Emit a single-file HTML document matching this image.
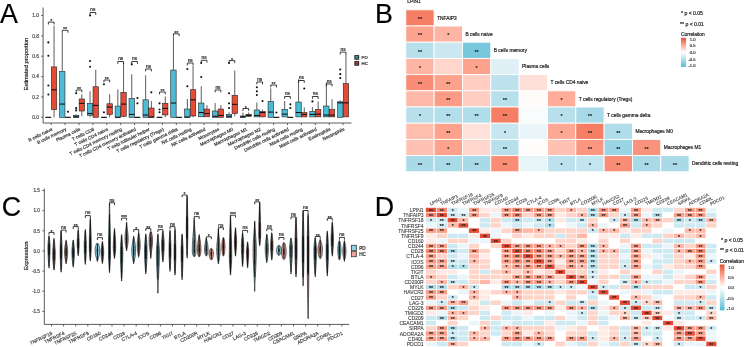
<!DOCTYPE html><html><head><meta charset="utf-8"><title>Figure</title><style>
html,body{margin:0;padding:0;background:#fff;overflow:hidden}
svg{display:block;font-family:"Liberation Sans", Arial, Helvetica, sans-serif}
text{stroke:currentColor;stroke-width:0.18px;paint-order:stroke}
.ax{stroke:#333;stroke-width:0.8;fill:none}
.tk{stroke:#333;stroke-width:0.7;fill:none}
.wk{stroke:#333;stroke-width:0.8}
.bx{stroke:#222;stroke-width:0.6}
.md{stroke:#111;stroke-width:1.1}
.br{stroke:#1A1A1A;stroke-width:0.85;fill:none}
.vl{stroke:#111;stroke-width:0.6}
.vw{stroke:#111;stroke-width:0.95}
.dc{stroke:#fff;stroke-width:0.55}
</style></head><body>
<svg width="744" height="347" viewBox="0 0 744 347">
<defs><linearGradient id="gB" x1="0" y1="0" x2="0" y2="1"><stop offset="0" stop-color="#E64B35"/><stop offset="0.05" stop-color="#EC6048"/><stop offset="0.1" stop-color="#F2735B"/><stop offset="0.15" stop-color="#F7866E"/><stop offset="0.2" stop-color="#FB9781"/><stop offset="0.25" stop-color="#FFA995"/><stop offset="0.3" stop-color="#FFBAAA"/><stop offset="0.35" stop-color="#FFCBBF"/><stop offset="0.4" stop-color="#FFDDD4"/><stop offset="0.45" stop-color="#FFEEE9"/><stop offset="0.5" stop-color="#FFFFFF"/><stop offset="0.55" stop-color="#F0F8FB"/><stop offset="0.6" stop-color="#E0F1F7"/><stop offset="0.65" stop-color="#D0EBF2"/><stop offset="0.7" stop-color="#C0E4EE"/><stop offset="0.75" stop-color="#B0DDEA"/><stop offset="0.8" stop-color="#9FD6E6"/><stop offset="0.85" stop-color="#8DCFE2"/><stop offset="0.9" stop-color="#7AC9DD"/><stop offset="0.95" stop-color="#65C2D9"/><stop offset="1" stop-color="#4DBBD5"/></linearGradient></defs>
<rect width="744" height="347" fill="#fff"/>
<text x="0" y="22.9" font-size="26.8" fill="#000" color="#000" text-anchor="start">A</text>
<text x="374.9" y="23.2" font-size="26.8" fill="#000" color="#000" text-anchor="start">B</text>
<text x="1.7" y="215.6" font-size="26.8" fill="#000" color="#000" text-anchor="start">C</text>
<text x="374.8" y="215.5" font-size="26.8" fill="#000" color="#000" text-anchor="start">D</text>
<g id="pA">
<line x1="43.1" y1="7.5" x2="43.1" y2="123" class="ax"/>
<line x1="43.1" y1="123" x2="351.5" y2="123" class="ax"/>
<line x1="41.1" y1="117.3" x2="43.1" y2="117.3" class="tk"/>
<text x="38.8" y="119" font-size="4.8" fill="#444" color="#444" text-anchor="end">0.0</text>
<line x1="41.1" y1="96.94" x2="43.1" y2="96.94" class="tk"/>
<text x="38.8" y="98.64" font-size="4.8" fill="#444" color="#444" text-anchor="end">0.2</text>
<line x1="41.1" y1="76.58" x2="43.1" y2="76.58" class="tk"/>
<text x="38.8" y="78.28" font-size="4.8" fill="#444" color="#444" text-anchor="end">0.4</text>
<line x1="41.1" y1="56.22" x2="43.1" y2="56.22" class="tk"/>
<text x="38.8" y="57.92" font-size="4.8" fill="#444" color="#444" text-anchor="end">0.6</text>
<line x1="41.1" y1="35.86" x2="43.1" y2="35.86" class="tk"/>
<text x="38.8" y="37.56" font-size="4.8" fill="#444" color="#444" text-anchor="end">0.8</text>
<line x1="41.1" y1="15.5" x2="43.1" y2="15.5" class="tk"/>
<text x="38.8" y="17.2" font-size="4.8" fill="#444" color="#444" text-anchor="end">1.0</text>
<text x="28.5" y="64.1" font-size="5.72" fill="#222" color="#222" text-anchor="middle" transform="rotate(-90 28.5 64.1)">Estimated proportion</text>
<line x1="51.2" y1="123" x2="51.2" y2="125.2" class="tk"/>
<rect x="45.65" y="117.3" width="5.4" height="0.01" fill="#4DBBD5" class="bx"/>
<line x1="45.65" y1="117.3" x2="51.05" y2="117.3" class="md"/>
<circle cx="48.35" cy="42.38" r="1.05" fill="#111"/>
<circle cx="48.35" cy="55.71" r="1.05" fill="#111"/>
<circle cx="48.35" cy="85.44" r="1.05" fill="#111"/>
<circle cx="48.35" cy="94.5" r="1.05" fill="#111"/>
<line x1="54.05" y1="66.91" x2="54.05" y2="25.68" class="wk"/>
<line x1="54.05" y1="109.66" x2="54.05" y2="117.3" class="wk"/>
<rect x="51.35" y="66.91" width="5.4" height="42.76" fill="#E64B35" class="bx"/>
<line x1="51.35" y1="89.81" x2="56.75" y2="89.81" class="md"/>
<path d="M48.35 24.5V22.1H54.05V24.5" class="br"/>
<text x="51.2" y="23.2" font-size="5.2" fill="#222" color="#222" text-anchor="middle">*</text>
<text x="52.9" y="130.3" font-size="4.7" fill="#333" color="#333" text-anchor="end" transform="rotate(-26 52.9 130.3)">B cells naive</text>
<line x1="65.1" y1="123" x2="65.1" y2="125.2" class="tk"/>
<line x1="62.25" y1="71.49" x2="62.25" y2="32.81" class="wk"/>
<rect x="59.55" y="71.49" width="5.4" height="45.81" fill="#4DBBD5" class="bx"/>
<line x1="59.55" y1="104.07" x2="64.95" y2="104.07" class="md"/>
<rect x="65.25" y="117.3" width="5.4" height="0.01" fill="#E64B35" class="bx"/>
<line x1="65.25" y1="117.3" x2="70.65" y2="117.3" class="md"/>
<circle cx="67.95" cy="111.7" r="1.05" fill="#111"/>
<path d="M62.25 32.7V30.3H67.95V32.7" class="br"/>
<text x="65.1" y="31.4" font-size="5.2" fill="#222" color="#222" text-anchor="middle">**</text>
<text x="66.8" y="130.3" font-size="4.7" fill="#333" color="#333" text-anchor="end" transform="rotate(-26 66.8 130.3)">B cells memory</text>
<line x1="79" y1="123" x2="79" y2="125.2" class="tk"/>
<line x1="76.15" y1="115.26" x2="76.15" y2="114.25" class="wk"/>
<rect x="73.45" y="115.26" width="5.4" height="2.04" fill="#4DBBD5" class="bx"/>
<line x1="73.45" y1="116.79" x2="78.85" y2="116.79" class="md"/>
<circle cx="76.15" cy="93.28" r="1.05" fill="#111"/>
<circle cx="76.15" cy="108.14" r="1.05" fill="#111"/>
<circle cx="76.15" cy="110.38" r="1.05" fill="#111"/>
<line x1="81.85" y1="98.98" x2="81.85" y2="94.29" class="wk"/>
<line x1="81.85" y1="110.99" x2="81.85" y2="116.28" class="wk"/>
<rect x="79.15" y="98.98" width="5.4" height="12.01" fill="#E64B35" class="bx"/>
<line x1="79.15" y1="103.35" x2="84.55" y2="103.35" class="md"/>
<path d="M76.15 92.4V90H81.85V92.4" class="br"/>
<text x="79" y="91.1" font-size="5.2" fill="#222" color="#222" text-anchor="middle">**</text>
<text x="80.7" y="130.3" font-size="4.7" fill="#333" color="#333" text-anchor="end" transform="rotate(-26 80.7 130.3)">Plasma cells</text>
<line x1="92.9" y1="123" x2="92.9" y2="125.2" class="tk"/>
<line x1="90.05" y1="103.35" x2="90.05" y2="91.34" class="wk"/>
<line x1="90.05" y1="115.26" x2="90.05" y2="117.3" class="wk"/>
<rect x="87.35" y="103.35" width="5.4" height="11.91" fill="#4DBBD5" class="bx"/>
<line x1="87.35" y1="113.53" x2="92.75" y2="113.53" class="md"/>
<circle cx="90.05" cy="15.5" r="1.05" fill="#111"/>
<circle cx="90.05" cy="61" r="1.05" fill="#111"/>
<circle cx="90.05" cy="66.71" r="1.05" fill="#111"/>
<line x1="95.75" y1="86.76" x2="95.75" y2="69.76" class="wk"/>
<rect x="93.05" y="86.76" width="5.4" height="30.54" fill="#E64B35" class="bx"/>
<line x1="93.05" y1="105.39" x2="98.45" y2="105.39" class="md"/>
<path d="M90.05 14.9V12.5H95.75V14.9" class="br"/>
<text x="92.9" y="11.3" font-size="4.8" fill="#222" color="#222" text-anchor="middle">ns</text>
<text x="94.6" y="130.3" font-size="4.7" fill="#333" color="#333" text-anchor="end" transform="rotate(-26 94.6 130.3)">T cells CD8</text>
<line x1="106.8" y1="123" x2="106.8" y2="125.2" class="tk"/>
<rect x="101.25" y="117.3" width="5.4" height="0.01" fill="#4DBBD5" class="bx"/>
<line x1="101.25" y1="117.3" x2="106.65" y2="117.3" class="md"/>
<circle cx="103.95" cy="84.22" r="1.05" fill="#111"/>
<circle cx="103.95" cy="112.21" r="1.05" fill="#111"/>
<line x1="109.65" y1="103.76" x2="109.65" y2="94.29" class="wk"/>
<line x1="109.65" y1="114.45" x2="109.65" y2="117.3" class="wk"/>
<rect x="106.95" y="103.76" width="5.4" height="10.69" fill="#E64B35" class="bx"/>
<line x1="106.95" y1="107.12" x2="112.35" y2="107.12" class="md"/>
<path d="M103.95 82.4V80H109.65V82.4" class="br"/>
<text x="106.8" y="81.1" font-size="5.2" fill="#222" color="#222" text-anchor="middle">**</text>
<text x="108.5" y="130.3" font-size="4.7" fill="#333" color="#333" text-anchor="end" transform="rotate(-26 108.5 130.3)">T cells CD4 naive</text>
<line x1="120.7" y1="123" x2="120.7" y2="125.2" class="tk"/>
<line x1="117.85" y1="106.1" x2="117.85" y2="89.3" class="wk"/>
<rect x="115.15" y="106.1" width="5.4" height="11.2" fill="#4DBBD5" class="bx"/>
<line x1="115.15" y1="117.3" x2="120.55" y2="117.3" class="md"/>
<line x1="123.55" y1="92.36" x2="123.55" y2="62.74" class="wk"/>
<line x1="123.55" y1="116.28" x2="123.55" y2="117.3" class="wk"/>
<rect x="120.85" y="92.36" width="5.4" height="23.92" fill="#E64B35" class="bx"/>
<line x1="120.85" y1="104.07" x2="126.25" y2="104.07" class="md"/>
<path d="M117.85 63.9V61.5H123.55V63.9" class="br"/>
<text x="120.7" y="60.3" font-size="4.8" fill="#222" color="#222" text-anchor="middle">ns</text>
<text x="122.4" y="130.3" font-size="4.7" fill="#333" color="#333" text-anchor="end" transform="rotate(-26 122.4 130.3)">T cells CD4 memory resting</text>
<line x1="134.6" y1="123" x2="134.6" y2="125.2" class="tk"/>
<line x1="131.75" y1="98.37" x2="131.75" y2="74.24" class="wk"/>
<rect x="129.05" y="98.37" width="5.4" height="18.93" fill="#4DBBD5" class="bx"/>
<line x1="129.05" y1="114.45" x2="134.45" y2="114.45" class="md"/>
<circle cx="131.75" cy="64.36" r="1.05" fill="#111"/>
<rect x="134.75" y="117.3" width="5.4" height="0.01" fill="#E64B35" class="bx"/>
<line x1="134.75" y1="117.3" x2="140.15" y2="117.3" class="md"/>
<circle cx="137.45" cy="97.96" r="1.05" fill="#111"/>
<circle cx="137.45" cy="103.35" r="1.05" fill="#111"/>
<path d="M131.75 63.9V61.5H137.45V63.9" class="br"/>
<text x="134.6" y="60.3" font-size="4.8" fill="#222" color="#222" text-anchor="middle">ns</text>
<text x="136.3" y="130.3" font-size="4.7" fill="#333" color="#333" text-anchor="end" transform="rotate(-26 136.3 130.3)">T cells CD4 memory activated</text>
<line x1="148.5" y1="123" x2="148.5" y2="125.2" class="tk"/>
<line x1="145.65" y1="99.79" x2="145.65" y2="75.26" class="wk"/>
<rect x="142.95" y="99.79" width="5.4" height="17.51" fill="#4DBBD5" class="bx"/>
<line x1="142.95" y1="115.06" x2="148.35" y2="115.06" class="md"/>
<line x1="151.35" y1="108.04" x2="151.35" y2="101.01" class="wk"/>
<rect x="148.65" y="108.04" width="5.4" height="9.26" fill="#E64B35" class="bx"/>
<line x1="148.65" y1="116.99" x2="154.05" y2="116.99" class="md"/>
<circle cx="151.35" cy="92.36" r="1.05" fill="#111"/>
<path d="M145.65 71.4V69H151.35V71.4" class="br"/>
<text x="148.5" y="67.8" font-size="4.8" fill="#222" color="#222" text-anchor="middle">ns</text>
<text x="150.2" y="130.3" font-size="4.7" fill="#333" color="#333" text-anchor="end" transform="rotate(-26 150.2 130.3)">T cells follicular helper</text>
<line x1="162.4" y1="123" x2="162.4" y2="125.2" class="tk"/>
<rect x="156.85" y="117.3" width="5.4" height="0.01" fill="#4DBBD5" class="bx"/>
<line x1="156.85" y1="117.3" x2="162.25" y2="117.3" class="md"/>
<circle cx="159.55" cy="103.35" r="1.05" fill="#111"/>
<circle cx="159.55" cy="109.46" r="1.05" fill="#111"/>
<circle cx="159.55" cy="112.21" r="1.05" fill="#111"/>
<line x1="165.25" y1="103.35" x2="165.25" y2="96.43" class="wk"/>
<line x1="165.25" y1="114.96" x2="165.25" y2="117.3" class="wk"/>
<rect x="162.55" y="103.35" width="5.4" height="11.61" fill="#E64B35" class="bx"/>
<line x1="162.55" y1="108.44" x2="167.95" y2="108.44" class="md"/>
<path d="M159.55 94.4V92H165.25V94.4" class="br"/>
<text x="162.4" y="93.1" font-size="5.2" fill="#222" color="#222" text-anchor="middle">**</text>
<text x="164.1" y="130.3" font-size="4.7" fill="#333" color="#333" text-anchor="end" transform="rotate(-26 164.1 130.3)">T cells regulatory (Tregs)</text>
<line x1="176.3" y1="123" x2="176.3" y2="125.2" class="tk"/>
<line x1="173.45" y1="70.06" x2="173.45" y2="36.37" class="wk"/>
<rect x="170.75" y="70.06" width="5.4" height="47.24" fill="#4DBBD5" class="bx"/>
<line x1="170.75" y1="103.05" x2="176.15" y2="103.05" class="md"/>
<rect x="176.45" y="117.3" width="5.4" height="0.01" fill="#E64B35" class="bx"/>
<line x1="176.45" y1="117.3" x2="181.85" y2="117.3" class="md"/>
<path d="M173.45 36.2V33.8H179.15V36.2" class="br"/>
<text x="176.3" y="34.9" font-size="5.2" fill="#222" color="#222" text-anchor="middle">**</text>
<text x="178" y="130.3" font-size="4.7" fill="#333" color="#333" text-anchor="end" transform="rotate(-26 178 130.3)">T cells gamma delta</text>
<line x1="190.2" y1="123" x2="190.2" y2="125.2" class="tk"/>
<line x1="187.35" y1="109.05" x2="187.35" y2="98.98" class="wk"/>
<rect x="184.65" y="109.05" width="5.4" height="8.25" fill="#4DBBD5" class="bx"/>
<line x1="184.65" y1="116.99" x2="190.05" y2="116.99" class="md"/>
<circle cx="187.35" cy="68.94" r="1.05" fill="#111"/>
<circle cx="187.35" cy="86.25" r="1.05" fill="#111"/>
<line x1="193.05" y1="89.71" x2="193.05" y2="65.79" class="wk"/>
<line x1="193.05" y1="115.98" x2="193.05" y2="117.3" class="wk"/>
<rect x="190.35" y="89.71" width="5.4" height="26.26" fill="#E64B35" class="bx"/>
<line x1="190.35" y1="99.79" x2="195.75" y2="99.79" class="md"/>
<path d="M187.35 65.4V63H193.05V65.4" class="br"/>
<text x="190.2" y="61.8" font-size="4.8" fill="#222" color="#222" text-anchor="middle">ns</text>
<text x="191.9" y="130.3" font-size="4.7" fill="#333" color="#333" text-anchor="end" transform="rotate(-26 191.9 130.3)">NK cells resting</text>
<line x1="204.1" y1="123" x2="204.1" y2="125.2" class="tk"/>
<line x1="201.25" y1="103.05" x2="201.25" y2="86.25" class="wk"/>
<rect x="198.55" y="103.05" width="5.4" height="13.74" fill="#4DBBD5" class="bx"/>
<line x1="198.55" y1="112.52" x2="203.95" y2="112.52" class="md"/>
<circle cx="201.25" cy="62.94" r="1.05" fill="#111"/>
<circle cx="201.25" cy="76.99" r="1.05" fill="#111"/>
<line x1="206.95" y1="109.05" x2="206.95" y2="105.08" class="wk"/>
<rect x="204.25" y="109.05" width="5.4" height="7.74" fill="#E64B35" class="bx"/>
<line x1="204.25" y1="113.53" x2="209.65" y2="113.53" class="md"/>
<path d="M201.25 62.7V60.3H206.95V62.7" class="br"/>
<text x="204.1" y="59.1" font-size="4.8" fill="#222" color="#222" text-anchor="middle">ns</text>
<text x="205.8" y="130.3" font-size="4.7" fill="#333" color="#333" text-anchor="end" transform="rotate(-26 205.8 130.3)">NK cells activated</text>
<line x1="218" y1="123" x2="218" y2="125.2" class="tk"/>
<line x1="215.15" y1="110.99" x2="215.15" y2="103.05" class="wk"/>
<rect x="212.45" y="110.99" width="5.4" height="6.31" fill="#4DBBD5" class="bx"/>
<line x1="212.45" y1="116.28" x2="217.85" y2="116.28" class="md"/>
<line x1="220.85" y1="109.05" x2="220.85" y2="105.08" class="wk"/>
<rect x="218.15" y="109.05" width="5.4" height="8.25" fill="#E64B35" class="bx"/>
<line x1="218.15" y1="115.47" x2="223.55" y2="115.47" class="md"/>
<path d="M215.15 92.4V90H220.85V92.4" class="br"/>
<text x="218" y="88.8" font-size="4.8" fill="#222" color="#222" text-anchor="middle">ns</text>
<text x="219.7" y="130.3" font-size="4.7" fill="#333" color="#333" text-anchor="end" transform="rotate(-26 219.7 130.3)">Monocytes</text>
<line x1="231.9" y1="123" x2="231.9" y2="125.2" class="tk"/>
<line x1="229.05" y1="114.45" x2="229.05" y2="112.21" class="wk"/>
<rect x="226.35" y="114.45" width="5.4" height="2.85" fill="#4DBBD5" class="bx"/>
<line x1="226.35" y1="116.28" x2="231.75" y2="116.28" class="md"/>
<circle cx="229.05" cy="63.04" r="1.05" fill="#111"/>
<circle cx="229.05" cy="93.28" r="1.05" fill="#111"/>
<circle cx="229.05" cy="103.35" r="1.05" fill="#111"/>
<circle cx="229.05" cy="107.93" r="1.05" fill="#111"/>
<line x1="234.75" y1="95.31" x2="234.75" y2="70.47" class="wk"/>
<line x1="234.75" y1="113.53" x2="234.75" y2="116.28" class="wk"/>
<rect x="232.05" y="95.31" width="5.4" height="18.22" fill="#E64B35" class="bx"/>
<line x1="232.05" y1="104.37" x2="237.45" y2="104.37" class="md"/>
<path d="M229.05 63V60.6H234.75V63" class="br"/>
<text x="231.9" y="61.7" font-size="5.2" fill="#222" color="#222" text-anchor="middle">*</text>
<text x="233.6" y="130.3" font-size="4.7" fill="#333" color="#333" text-anchor="end" transform="rotate(-26 233.6 130.3)">Macrophages M0</text>
<line x1="245.8" y1="123" x2="245.8" y2="125.2" class="tk"/>
<line x1="242.95" y1="115.98" x2="242.95" y2="112.52" class="wk"/>
<rect x="240.25" y="115.98" width="5.4" height="1.32" fill="#4DBBD5" class="bx"/>
<line x1="240.25" y1="116.79" x2="245.65" y2="116.79" class="md"/>
<line x1="248.65" y1="114.45" x2="248.65" y2="112.52" class="wk"/>
<line x1="248.65" y1="116.28" x2="248.65" y2="116.79" class="wk"/>
<rect x="245.95" y="114.45" width="5.4" height="1.83" fill="#E64B35" class="bx"/>
<line x1="245.95" y1="115.47" x2="251.35" y2="115.47" class="md"/>
<path d="M242.95 110.9V108.5H248.65V110.9" class="br"/>
<text x="245.8" y="109.6" font-size="5.2" fill="#222" color="#222" text-anchor="middle">*</text>
<text x="247.5" y="130.3" font-size="4.7" fill="#333" color="#333" text-anchor="end" transform="rotate(-26 247.5 130.3)">Macrophages M1</text>
<line x1="259.7" y1="123" x2="259.7" y2="125.2" class="tk"/>
<line x1="256.85" y1="109.97" x2="256.85" y2="102.44" class="wk"/>
<rect x="254.15" y="109.97" width="5.4" height="6.92" fill="#4DBBD5" class="bx"/>
<line x1="254.15" y1="115.47" x2="259.55" y2="115.47" class="md"/>
<circle cx="256.85" cy="87.27" r="1.05" fill="#111"/>
<circle cx="256.85" cy="91.34" r="1.05" fill="#111"/>
<circle cx="256.85" cy="95.01" r="1.05" fill="#111"/>
<line x1="262.55" y1="111.5" x2="262.55" y2="109.46" class="wk"/>
<rect x="259.85" y="111.5" width="5.4" height="5.4" fill="#E64B35" class="bx"/>
<line x1="259.85" y1="112.52" x2="265.25" y2="112.52" class="md"/>
<circle cx="262.55" cy="101.01" r="1.05" fill="#111"/>
<path d="M256.85 84.4V82H262.55V84.4" class="br"/>
<text x="259.7" y="80.8" font-size="4.8" fill="#222" color="#222" text-anchor="middle">ns</text>
<text x="261.4" y="130.3" font-size="4.7" fill="#333" color="#333" text-anchor="end" transform="rotate(-26 261.4 130.3)">Macrophages M2</text>
<line x1="273.6" y1="123" x2="273.6" y2="125.2" class="tk"/>
<line x1="270.75" y1="101.42" x2="270.75" y2="88.29" class="wk"/>
<rect x="268.05" y="101.42" width="5.4" height="15.88" fill="#4DBBD5" class="bx"/>
<line x1="268.05" y1="112.11" x2="273.45" y2="112.11" class="md"/>
<rect x="273.75" y="117.3" width="5.4" height="0.01" fill="#E64B35" class="bx"/>
<line x1="273.75" y1="117.3" x2="279.15" y2="117.3" class="md"/>
<circle cx="276.45" cy="112.52" r="1.05" fill="#111"/>
<path d="M270.75 87.4V85H276.45V87.4" class="br"/>
<text x="273.6" y="86.1" font-size="5.2" fill="#222" color="#222" text-anchor="middle">**</text>
<text x="275.3" y="130.3" font-size="4.7" fill="#333" color="#333" text-anchor="end" transform="rotate(-26 275.3 130.3)">Dendritic cells resting</text>
<line x1="287.5" y1="123" x2="287.5" y2="125.2" class="tk"/>
<line x1="284.65" y1="109.46" x2="284.65" y2="101.01" class="wk"/>
<rect x="281.95" y="109.46" width="5.4" height="7.43" fill="#4DBBD5" class="bx"/>
<line x1="281.95" y1="114.14" x2="287.35" y2="114.14" class="md"/>
<rect x="287.65" y="117.3" width="5.4" height="0.01" fill="#E64B35" class="bx"/>
<line x1="287.65" y1="117.3" x2="293.05" y2="117.3" class="md"/>
<circle cx="290.35" cy="104.37" r="1.05" fill="#111"/>
<circle cx="290.35" cy="107.93" r="1.05" fill="#111"/>
<path d="M284.65 98.9V96.5H290.35V98.9" class="br"/>
<text x="287.5" y="95.3" font-size="4.8" fill="#222" color="#222" text-anchor="middle">ns</text>
<text x="289.2" y="130.3" font-size="4.7" fill="#333" color="#333" text-anchor="end" transform="rotate(-26 289.2 130.3)">Dendritic cells activated</text>
<line x1="301.4" y1="123" x2="301.4" y2="125.2" class="tk"/>
<line x1="298.55" y1="102.03" x2="298.55" y2="79.23" class="wk"/>
<rect x="295.85" y="102.03" width="5.4" height="14.86" fill="#4DBBD5" class="bx"/>
<line x1="295.85" y1="112.52" x2="301.25" y2="112.52" class="md"/>
<line x1="304.25" y1="112.52" x2="304.25" y2="107.43" class="wk"/>
<rect x="301.55" y="112.52" width="5.4" height="4.38" fill="#E64B35" class="bx"/>
<line x1="301.55" y1="114.45" x2="306.95" y2="114.45" class="md"/>
<circle cx="304.25" cy="88.49" r="1.05" fill="#111"/>
<path d="M298.55 82.9V80.5H304.25V82.9" class="br"/>
<text x="301.4" y="79.3" font-size="4.8" fill="#222" color="#222" text-anchor="middle">ns</text>
<text x="303.1" y="130.3" font-size="4.7" fill="#333" color="#333" text-anchor="end" transform="rotate(-26 303.1 130.3)">Mast cells resting</text>
<line x1="315.3" y1="123" x2="315.3" y2="125.2" class="tk"/>
<line x1="312.45" y1="111.5" x2="312.45" y2="107.12" class="wk"/>
<rect x="309.75" y="111.5" width="5.4" height="5.4" fill="#4DBBD5" class="bx"/>
<line x1="309.75" y1="114.45" x2="315.15" y2="114.45" class="md"/>
<circle cx="312.45" cy="101.42" r="1.05" fill="#111"/>
<line x1="318.15" y1="109.46" x2="318.15" y2="101.42" class="wk"/>
<rect x="315.45" y="109.46" width="5.4" height="7.43" fill="#E64B35" class="bx"/>
<line x1="315.45" y1="114.14" x2="320.85" y2="114.14" class="md"/>
<path d="M312.45 98.9V96.5H318.15V98.9" class="br"/>
<text x="315.3" y="95.3" font-size="4.8" fill="#222" color="#222" text-anchor="middle">ns</text>
<text x="317" y="130.3" font-size="4.7" fill="#333" color="#333" text-anchor="end" transform="rotate(-26 317 130.3)">Mast cells activated</text>
<line x1="329.2" y1="123" x2="329.2" y2="125.2" class="tk"/>
<line x1="326.35" y1="106" x2="326.35" y2="82.18" class="wk"/>
<rect x="323.65" y="106" width="5.4" height="10.89" fill="#4DBBD5" class="bx"/>
<line x1="323.65" y1="115.06" x2="329.05" y2="115.06" class="md"/>
<line x1="332.05" y1="109.46" x2="332.05" y2="99.38" class="wk"/>
<rect x="329.35" y="109.46" width="5.4" height="7.43" fill="#E64B35" class="bx"/>
<line x1="329.35" y1="115.06" x2="334.75" y2="115.06" class="md"/>
<path d="M326.35 86.4V84H332.05V86.4" class="br"/>
<text x="329.2" y="82.8" font-size="4.8" fill="#222" color="#222" text-anchor="middle">ns</text>
<text x="330.9" y="130.3" font-size="4.7" fill="#333" color="#333" text-anchor="end" transform="rotate(-26 330.9 130.3)">Eosinophils</text>
<line x1="343.1" y1="123" x2="343.1" y2="125.2" class="tk"/>
<line x1="340.25" y1="101.83" x2="340.25" y2="100.4" class="wk"/>
<rect x="337.55" y="101.83" width="5.4" height="15.47" fill="#4DBBD5" class="bx"/>
<line x1="337.55" y1="102.84" x2="342.95" y2="102.84" class="md"/>
<circle cx="340.25" cy="69.45" r="1.05" fill="#111"/>
<circle cx="340.25" cy="74.14" r="1.05" fill="#111"/>
<circle cx="340.25" cy="78.11" r="1.05" fill="#111"/>
<line x1="345.95" y1="83.6" x2="345.95" y2="54.18" class="wk"/>
<rect x="343.25" y="83.6" width="5.4" height="33.29" fill="#E64B35" class="bx"/>
<line x1="343.25" y1="102.84" x2="348.65" y2="102.84" class="md"/>
<path d="M340.25 54.5V52.1H345.95V54.5" class="br"/>
<text x="343.1" y="50.9" font-size="4.8" fill="#222" color="#222" text-anchor="middle">ns</text>
<text x="344.8" y="130.3" font-size="4.7" fill="#333" color="#333" text-anchor="end" transform="rotate(-26 344.8 130.3)">Neutrophils</text>
<line x1="356.75" y1="54.8" x2="356.75" y2="60" stroke="#222" stroke-width="0.6"/>
<rect x="354.9" y="55.65" width="3.7" height="3.5" fill="#4DBBD5" stroke="#2A2A2A" stroke-width="1.1"/>
<line x1="355" y1="57.4" x2="358.5" y2="57.4" stroke="#222" stroke-width="0.5"/>
<text x="361.6" y="59" font-size="4.4" fill="#1A1A1A" color="#1A1A1A" text-anchor="start">PD</text>
<line x1="356.75" y1="60.8" x2="356.75" y2="66" stroke="#222" stroke-width="0.6"/>
<rect x="354.9" y="61.65" width="3.7" height="3.5" fill="#E64B35" stroke="#2A2A2A" stroke-width="1.1"/>
<line x1="355" y1="63.4" x2="358.5" y2="63.4" stroke="#222" stroke-width="0.5"/>
<text x="361.6" y="65" font-size="4.4" fill="#1A1A1A" color="#1A1A1A" text-anchor="start">HC</text>
</g>
<g id="pB">
<text x="407.3" y="3.2" font-size="4.8" fill="#1A1A1A" color="#1A1A1A" text-anchor="start">LPIN1</text>
<rect x="405.8" y="9.8" width="28.33" height="16.2" fill="#F57E65" stroke="#fff" stroke-width="0.9"/>
<text x="419.97" y="21.1" font-size="5.4" fill="#222" color="#222" text-anchor="middle">**</text>
<text x="437.13" y="19.6" font-size="4.85" fill="#1A1A1A" color="#1A1A1A" text-anchor="start">TNFAIP3</text>
<rect x="405.8" y="26" width="28.33" height="16.2" fill="#FDA28D" stroke="#fff" stroke-width="0.9"/>
<text x="419.97" y="37.3" font-size="5.4" fill="#222" color="#222" text-anchor="middle">**</text>
<rect x="434.13" y="26" width="28.33" height="16.2" fill="#FFB5A3" stroke="#fff" stroke-width="0.9"/>
<text x="448.3" y="37.3" font-size="5.4" fill="#222" color="#222" text-anchor="middle">*</text>
<text x="465.46" y="35.8" font-size="4.85" fill="#1A1A1A" color="#1A1A1A" text-anchor="start">B cells naive</text>
<rect x="405.8" y="42.2" width="28.33" height="16.2" fill="#B7E0EC" stroke="#fff" stroke-width="0.9"/>
<text x="419.97" y="53.5" font-size="5.4" fill="#222" color="#222" text-anchor="middle">**</text>
<rect x="434.13" y="42.2" width="28.33" height="16.2" fill="#CBE8F1" stroke="#fff" stroke-width="0.9"/>
<rect x="462.46" y="42.2" width="28.33" height="16.2" fill="#77C7DD" stroke="#fff" stroke-width="0.9"/>
<text x="476.63" y="53.5" font-size="5.4" fill="#222" color="#222" text-anchor="middle">**</text>
<text x="493.79" y="52" font-size="4.85" fill="#1A1A1A" color="#1A1A1A" text-anchor="start">B cells memory</text>
<rect x="405.8" y="58.4" width="28.33" height="16.2" fill="#FFB5A3" stroke="#fff" stroke-width="0.9"/>
<text x="419.97" y="69.7" font-size="5.4" fill="#222" color="#222" text-anchor="middle">*</text>
<rect x="434.13" y="58.4" width="28.33" height="16.2" fill="#FFD6CB" stroke="#fff" stroke-width="0.9"/>
<rect x="462.46" y="58.4" width="28.33" height="16.2" fill="#FDA28D" stroke="#fff" stroke-width="0.9"/>
<text x="476.63" y="69.7" font-size="5.4" fill="#222" color="#222" text-anchor="middle">*</text>
<rect x="490.79" y="58.4" width="28.33" height="16.2" fill="#DFF1F6" stroke="#fff" stroke-width="0.9"/>
<text x="522.12" y="68.2" font-size="4.85" fill="#1A1A1A" color="#1A1A1A" text-anchor="start">Plasma cells</text>
<rect x="405.8" y="74.6" width="28.33" height="16.2" fill="#F98D76" stroke="#fff" stroke-width="0.9"/>
<text x="419.97" y="85.9" font-size="5.4" fill="#222" color="#222" text-anchor="middle">**</text>
<rect x="434.13" y="74.6" width="28.33" height="16.2" fill="#FDA28D" stroke="#fff" stroke-width="0.9"/>
<text x="448.3" y="85.9" font-size="5.4" fill="#222" color="#222" text-anchor="middle">**</text>
<rect x="462.46" y="74.6" width="28.33" height="16.2" fill="#FFCDC1" stroke="#fff" stroke-width="0.9"/>
<rect x="490.79" y="74.6" width="28.33" height="16.2" fill="#BDE2ED" stroke="#fff" stroke-width="0.9"/>
<rect x="519.12" y="74.6" width="28.33" height="16.2" fill="#FFE0D8" stroke="#fff" stroke-width="0.9"/>
<text x="550.45" y="84.4" font-size="4.85" fill="#1A1A1A" color="#1A1A1A" text-anchor="start">T cells CD4 naive</text>
<rect x="405.8" y="90.8" width="28.33" height="16.2" fill="#FFB9A8" stroke="#fff" stroke-width="0.9"/>
<rect x="434.13" y="90.8" width="28.33" height="16.2" fill="#FC9C86" stroke="#fff" stroke-width="0.9"/>
<text x="448.3" y="102.1" font-size="5.4" fill="#222" color="#222" text-anchor="middle">**</text>
<rect x="462.46" y="90.8" width="28.33" height="16.2" fill="#FFCDC1" stroke="#fff" stroke-width="0.9"/>
<rect x="490.79" y="90.8" width="28.33" height="16.2" fill="#B7E0EC" stroke="#fff" stroke-width="0.9"/>
<text x="504.96" y="102.1" font-size="5.4" fill="#222" color="#222" text-anchor="middle">**</text>
<rect x="519.12" y="90.8" width="28.33" height="16.2" fill="#FFFBFA" stroke="#fff" stroke-width="0.9"/>
<rect x="547.45" y="90.8" width="28.33" height="16.2" fill="#FFAC9A" stroke="#fff" stroke-width="0.9"/>
<text x="561.62" y="102.1" font-size="5.4" fill="#222" color="#222" text-anchor="middle">*</text>
<text x="578.78" y="100.6" font-size="4.85" fill="#1A1A1A" color="#1A1A1A" text-anchor="start">T cells regulatory (Tregs)</text>
<rect x="405.8" y="107" width="28.33" height="16.2" fill="#B7E0EC" stroke="#fff" stroke-width="0.9"/>
<text x="419.97" y="118.3" font-size="5.4" fill="#222" color="#222" text-anchor="middle">*</text>
<rect x="434.13" y="107" width="28.33" height="16.2" fill="#B3DEEB" stroke="#fff" stroke-width="0.9"/>
<text x="448.3" y="118.3" font-size="5.4" fill="#222" color="#222" text-anchor="middle">**</text>
<rect x="462.46" y="107" width="28.33" height="16.2" fill="#AFDDEA" stroke="#fff" stroke-width="0.9"/>
<text x="476.63" y="118.3" font-size="5.4" fill="#222" color="#222" text-anchor="middle">**</text>
<rect x="490.79" y="107" width="28.33" height="16.2" fill="#F57E65" stroke="#fff" stroke-width="0.9"/>
<text x="504.96" y="118.3" font-size="5.4" fill="#222" color="#222" text-anchor="middle">**</text>
<rect x="519.12" y="107" width="28.33" height="16.2" fill="#F8FCFD" stroke="#fff" stroke-width="0.9"/>
<rect x="547.45" y="107" width="28.33" height="16.2" fill="#B7E0EC" stroke="#fff" stroke-width="0.9"/>
<text x="561.62" y="118.3" font-size="5.4" fill="#222" color="#222" text-anchor="middle">*</text>
<rect x="575.78" y="107" width="28.33" height="16.2" fill="#A7D9E8" stroke="#fff" stroke-width="0.9"/>
<text x="589.94" y="118.3" font-size="5.4" fill="#222" color="#222" text-anchor="middle">**</text>
<text x="607.11" y="116.8" font-size="4.85" fill="#1A1A1A" color="#1A1A1A" text-anchor="start">T cells gamma delta</text>
<rect x="405.8" y="123.2" width="28.33" height="16.2" fill="#FFBDAD" stroke="#fff" stroke-width="0.9"/>
<rect x="434.13" y="123.2" width="28.33" height="16.2" fill="#FDA28D" stroke="#fff" stroke-width="0.9"/>
<text x="448.3" y="134.5" font-size="5.4" fill="#222" color="#222" text-anchor="middle">**</text>
<rect x="462.46" y="123.2" width="28.33" height="16.2" fill="#FFE2DB" stroke="#fff" stroke-width="0.9"/>
<rect x="490.79" y="123.2" width="28.33" height="16.2" fill="#C7E6F0" stroke="#fff" stroke-width="0.9"/>
<text x="504.96" y="134.5" font-size="5.4" fill="#222" color="#222" text-anchor="middle">*</text>
<rect x="519.12" y="123.2" width="28.33" height="16.2" fill="#E9F5F9" stroke="#fff" stroke-width="0.9"/>
<rect x="547.45" y="123.2" width="28.33" height="16.2" fill="#FEA895" stroke="#fff" stroke-width="0.9"/>
<text x="561.62" y="134.5" font-size="5.4" fill="#222" color="#222" text-anchor="middle">*</text>
<rect x="575.78" y="123.2" width="28.33" height="16.2" fill="#F57E65" stroke="#fff" stroke-width="0.9"/>
<text x="589.94" y="134.5" font-size="5.4" fill="#222" color="#222" text-anchor="middle">**</text>
<rect x="604.11" y="123.2" width="28.33" height="16.2" fill="#AFDDEA" stroke="#fff" stroke-width="0.9"/>
<text x="618.27" y="134.5" font-size="5.4" fill="#222" color="#222" text-anchor="middle">**</text>
<text x="635.44" y="133" font-size="4.85" fill="#1A1A1A" color="#1A1A1A" text-anchor="start">Macrophages M0</text>
<rect x="405.8" y="139.4" width="28.33" height="16.2" fill="#FFC1B2" stroke="#fff" stroke-width="0.9"/>
<rect x="434.13" y="139.4" width="28.33" height="16.2" fill="#FDA28D" stroke="#fff" stroke-width="0.9"/>
<text x="448.3" y="150.7" font-size="5.4" fill="#222" color="#222" text-anchor="middle">*</text>
<rect x="462.46" y="139.4" width="28.33" height="16.2" fill="#FFD6CB" stroke="#fff" stroke-width="0.9"/>
<rect x="490.79" y="139.4" width="28.33" height="16.2" fill="#B7E0EC" stroke="#fff" stroke-width="0.9"/>
<text x="504.96" y="150.7" font-size="5.4" fill="#222" color="#222" text-anchor="middle">**</text>
<rect x="519.12" y="139.4" width="28.33" height="16.2" fill="#FFFDFC" stroke="#fff" stroke-width="0.9"/>
<rect x="547.45" y="139.4" width="28.33" height="16.2" fill="#FFC1B2" stroke="#fff" stroke-width="0.9"/>
<rect x="575.78" y="139.4" width="28.33" height="16.2" fill="#FB9781" stroke="#fff" stroke-width="0.9"/>
<text x="589.94" y="150.7" font-size="5.4" fill="#222" color="#222" text-anchor="middle">**</text>
<rect x="604.11" y="139.4" width="28.33" height="16.2" fill="#9BD4E5" stroke="#fff" stroke-width="0.9"/>
<text x="618.27" y="150.7" font-size="5.4" fill="#222" color="#222" text-anchor="middle">**</text>
<rect x="632.44" y="139.4" width="28.33" height="16.2" fill="#FA937D" stroke="#fff" stroke-width="0.9"/>
<text x="646.61" y="150.7" font-size="5.4" fill="#222" color="#222" text-anchor="middle">**</text>
<text x="663.77" y="149.2" font-size="4.85" fill="#1A1A1A" color="#1A1A1A" text-anchor="start">Macrophages M1</text>
<rect x="405.8" y="155.6" width="28.33" height="16.2" fill="#A9DAE8" stroke="#fff" stroke-width="0.9"/>
<text x="419.97" y="166.9" font-size="5.4" fill="#222" color="#222" text-anchor="middle">**</text>
<rect x="434.13" y="155.6" width="28.33" height="16.2" fill="#A9DAE8" stroke="#fff" stroke-width="0.9"/>
<text x="448.3" y="166.9" font-size="5.4" fill="#222" color="#222" text-anchor="middle">**</text>
<rect x="462.46" y="155.6" width="28.33" height="16.2" fill="#A9DAE8" stroke="#fff" stroke-width="0.9"/>
<text x="476.63" y="166.9" font-size="5.4" fill="#222" color="#222" text-anchor="middle">**</text>
<rect x="490.79" y="155.6" width="28.33" height="16.2" fill="#F98D76" stroke="#fff" stroke-width="0.9"/>
<text x="504.96" y="166.9" font-size="5.4" fill="#222" color="#222" text-anchor="middle">**</text>
<rect x="519.12" y="155.6" width="28.33" height="16.2" fill="#E7F4F8" stroke="#fff" stroke-width="0.9"/>
<rect x="547.45" y="155.6" width="28.33" height="16.2" fill="#BDE2ED" stroke="#fff" stroke-width="0.9"/>
<text x="561.62" y="166.9" font-size="5.4" fill="#222" color="#222" text-anchor="middle">*</text>
<rect x="575.78" y="155.6" width="28.33" height="16.2" fill="#C3E5EF" stroke="#fff" stroke-width="0.9"/>
<text x="589.94" y="166.9" font-size="5.4" fill="#222" color="#222" text-anchor="middle">*</text>
<rect x="604.11" y="155.6" width="28.33" height="16.2" fill="#F98D76" stroke="#fff" stroke-width="0.9"/>
<text x="618.27" y="166.9" font-size="5.4" fill="#222" color="#222" text-anchor="middle">**</text>
<rect x="632.44" y="155.6" width="28.33" height="16.2" fill="#A9DAE8" stroke="#fff" stroke-width="0.9"/>
<text x="646.61" y="166.9" font-size="5.4" fill="#222" color="#222" text-anchor="middle">**</text>
<rect x="660.77" y="155.6" width="28.33" height="16.2" fill="#A9DAE8" stroke="#fff" stroke-width="0.9"/>
<text x="674.93" y="166.9" font-size="5.4" fill="#222" color="#222" text-anchor="middle">**</text>
<text x="692.1" y="165.4" font-size="4.85" fill="#1A1A1A" color="#1A1A1A" text-anchor="start">Dendritic cells resting</text>
<text x="681" y="14.9" font-size="5.1" fill="#1A1A1A" color="#1A1A1A" text-anchor="start">* p &lt; 0.05</text>
<text x="680" y="25.6" font-size="5.1" fill="#1A1A1A" color="#1A1A1A" text-anchor="start">** p &lt; 0.01</text>
<text x="681" y="36.3" font-size="4.85" fill="#1A1A1A" color="#1A1A1A" text-anchor="start">Correlation</text>
<rect x="681" y="37.8" width="5.1" height="29.1" fill="url(#gB)"/>
<text x="695.5" y="41.2" font-size="4.1" fill="#333" color="#333" text-anchor="end">1.0</text>
<text x="695.5" y="47.4" font-size="4.1" fill="#333" color="#333" text-anchor="end">0.5</text>
<text x="695.5" y="53.8" font-size="4.1" fill="#333" color="#333" text-anchor="end">0.0</text>
<text x="695.5" y="60.5" font-size="4.1" fill="#333" color="#333" text-anchor="end">-0.5</text>
<text x="695.5" y="66.8" font-size="4.1" fill="#333" color="#333" text-anchor="end">-1.0</text>
</g>
<g id="pC">
<line x1="44.3" y1="188.5" x2="44.3" y2="324.4" class="ax"/>
<line x1="44.3" y1="324.4" x2="349.2" y2="324.4" class="ax"/>
<line x1="42.3" y1="190.5" x2="44.3" y2="190.5" class="tk"/>
<text x="39.8" y="192.2" font-size="4.6" fill="#444" color="#444" text-anchor="end">1.5</text>
<line x1="42.3" y1="210.65" x2="44.3" y2="210.65" class="tk"/>
<text x="39.8" y="212.35" font-size="4.6" fill="#444" color="#444" text-anchor="end">1.0</text>
<line x1="42.3" y1="230.8" x2="44.3" y2="230.8" class="tk"/>
<text x="39.8" y="232.5" font-size="4.6" fill="#444" color="#444" text-anchor="end">0.5</text>
<line x1="42.3" y1="250.95" x2="44.3" y2="250.95" class="tk"/>
<text x="39.8" y="252.65" font-size="4.6" fill="#444" color="#444" text-anchor="end">0.0</text>
<line x1="42.3" y1="271.1" x2="44.3" y2="271.1" class="tk"/>
<text x="39.8" y="272.8" font-size="4.6" fill="#444" color="#444" text-anchor="end">-0.5</text>
<line x1="42.3" y1="291.25" x2="44.3" y2="291.25" class="tk"/>
<text x="39.8" y="292.95" font-size="4.6" fill="#444" color="#444" text-anchor="end">-1.0</text>
<line x1="42.3" y1="311.4" x2="44.3" y2="311.4" class="tk"/>
<text x="39.8" y="313.1" font-size="4.6" fill="#444" color="#444" text-anchor="end">-1.5</text>
<text x="28.2" y="256" font-size="5.9" fill="#222" color="#222" text-anchor="middle" transform="rotate(-90 28.2 256)">Expression</text>
<line x1="51.5" y1="324.4" x2="51.5" y2="326.6" class="tk"/>
<path d="M49.2 235.8 L49.2 236.95 L49.36 238.1 L49.51 239.25 L49.65 240.4 L49.77 241.55 L49.88 242.7 L49.96 243.85 L50.03 245 L50.07 246.15 L50.1 247.3 L50.1 248.45 L50.09 249.6 L50.08 250.75 L50.05 251.9 L50.02 253.05 L49.98 254.2 L49.94 255.35 L49.88 256.5 L49.82 257.65 L49.76 258.8 L49.69 259.95 L49.61 261.1 L49.52 262.25 L49.43 263.4 L49.34 264.55 L49.23 265.7 L49.2 266.85 L49.2 268 L48.8 268 L48.8 266.85 L48.77 265.7 L48.66 264.55 L48.57 263.4 L48.48 262.25 L48.39 261.1 L48.31 259.95 L48.24 258.8 L48.18 257.65 L48.12 256.5 L48.06 255.35 L48.02 254.2 L47.98 253.05 L47.95 251.9 L47.92 250.75 L47.91 249.6 L47.9 248.45 L47.9 247.3 L47.93 246.15 L47.97 245 L48.04 243.85 L48.12 242.7 L48.23 241.55 L48.35 240.4 L48.49 239.25 L48.64 238.1 L48.8 236.95 L48.8 235.8Z" fill="#5E8F9A" class="vl"/>
<line x1="49" y1="236.71" x2="49" y2="266.1" class="vw"/>
<rect x="48.3" y="243.73" width="1.4" height="11.27" fill="#111"/>
<line x1="48" y1="248" x2="50" y2="248" stroke="#111" stroke-width="0.5"/>
<path d="M54.2 238.4 L54.2 239.53 L54.33 240.66 L54.47 241.79 L54.61 242.91 L54.73 244.04 L54.84 245.17 L54.94 246.3 L55.03 247.43 L55.11 248.56 L55.18 249.69 L55.23 250.81 L55.27 251.94 L55.29 253.07 L55.3 254.2 L55.29 255.33 L55.27 256.46 L55.24 257.59 L55.19 258.71 L55.13 259.84 L55.05 260.97 L54.96 262.1 L54.86 263.23 L54.74 264.36 L54.62 265.49 L54.48 266.61 L54.34 267.74 L54.2 268.87 L54.2 270 L53.8 270 L53.8 268.87 L53.66 267.74 L53.52 266.61 L53.38 265.49 L53.26 264.36 L53.14 263.23 L53.04 262.1 L52.95 260.97 L52.87 259.84 L52.81 258.71 L52.76 257.59 L52.73 256.46 L52.71 255.33 L52.7 254.2 L52.71 253.07 L52.73 251.94 L52.77 250.81 L52.82 249.69 L52.89 248.56 L52.97 247.43 L53.06 246.3 L53.16 245.17 L53.27 244.04 L53.39 242.91 L53.53 241.79 L53.67 240.66 L53.8 239.53 L53.8 238.4Z" fill="#9A6A60" class="vl"/>
<line x1="54" y1="239.5" x2="54" y2="268.45" class="vw"/>
<rect x="53.3" y="248.8" width="1.4" height="11.06" fill="#111"/>
<line x1="53" y1="254.4" x2="55" y2="254.4" stroke="#111" stroke-width="0.5"/>
<path d="M49 234.8V232.4H54V234.8" class="br"/>
<text x="51.5" y="233.5" font-size="5.2" fill="#222" color="#222" text-anchor="middle">*</text>
<text x="52.8" y="334.3" font-size="4.85" fill="#444" color="#444" text-anchor="end" transform="rotate(-26 52.8 334.3)">TNFRSF18</text>
<line x1="63.6" y1="324.4" x2="63.6" y2="326.6" class="tk"/>
<path d="M61.3 231 L61.3 232.47 L61.36 233.94 L61.47 235.4 L61.57 236.87 L61.66 238.34 L61.75 239.81 L61.83 241.28 L61.9 242.74 L61.95 244.21 L62.01 245.68 L62.04 247.15 L62.07 248.61 L62.09 250.08 L62.1 251.55 L62.1 253.02 L62.08 254.49 L62.05 255.95 L62.02 257.42 L61.97 258.89 L61.91 260.36 L61.84 261.83 L61.76 263.29 L61.67 264.76 L61.58 266.23 L61.47 267.7 L61.36 269.16 L61.3 270.63 L61.3 272.1 L60.9 272.1 L60.9 270.63 L60.84 269.16 L60.73 267.7 L60.62 266.23 L60.53 264.76 L60.44 263.29 L60.36 261.83 L60.29 260.36 L60.23 258.89 L60.18 257.42 L60.15 255.95 L60.12 254.49 L60.1 253.02 L60.1 251.55 L60.11 250.08 L60.13 248.61 L60.16 247.15 L60.19 245.68 L60.25 244.21 L60.3 242.74 L60.37 241.28 L60.45 239.81 L60.54 238.34 L60.63 236.87 L60.73 235.4 L60.84 233.94 L60.9 232.47 L60.9 231Z" fill="#5E8F9A" class="vl"/>
<line x1="61.1" y1="232.34" x2="61.1" y2="270.18" class="vw"/>
<rect x="60.4" y="244.52" width="1.4" height="14.39" fill="#111"/>
<line x1="60.1" y1="251.8" x2="62.1" y2="251.8" stroke="#111" stroke-width="0.5"/>
<path d="M66.3 240.2 L66.3 241.04 L66.46 241.89 L66.64 242.73 L66.81 243.57 L66.96 244.41 L67.11 245.26 L67.25 246.1 L67.37 246.94 L67.47 247.79 L67.55 248.63 L67.62 249.47 L67.67 250.31 L67.69 251.16 L67.7 252 L67.69 252.84 L67.65 253.69 L67.6 254.53 L67.53 255.37 L67.44 256.21 L67.34 257.06 L67.22 257.9 L67.08 258.74 L66.94 259.59 L66.78 260.43 L66.62 261.27 L66.45 262.11 L66.3 262.96 L66.3 263.8 L65.9 263.8 L65.9 262.96 L65.75 262.11 L65.58 261.27 L65.42 260.43 L65.26 259.59 L65.12 258.74 L64.98 257.9 L64.86 257.06 L64.76 256.21 L64.67 255.37 L64.6 254.53 L64.55 253.69 L64.51 252.84 L64.5 252 L64.51 251.16 L64.53 250.31 L64.58 249.47 L64.65 248.63 L64.73 247.79 L64.83 246.94 L64.95 246.1 L65.09 245.26 L65.24 244.41 L65.39 243.57 L65.56 242.73 L65.74 241.89 L65.9 241.04 L65.9 240.2Z" fill="#BC7F74" class="vl"/>
<line x1="66.1" y1="241.08" x2="66.1" y2="262.54" class="vw"/>
<rect x="65.6" y="247.74" width="1" height="8.26" fill="#111"/>
<line x1="65.1" y1="251.8" x2="67.1" y2="251.8" stroke="#111" stroke-width="0.5"/>
<path d="M61.1 232.5V230.1H66.1V232.5" class="br"/>
<text x="63.6" y="228.9" font-size="4.8" fill="#222" color="#222" text-anchor="middle">ns</text>
<text x="64.9" y="334.3" font-size="4.85" fill="#444" color="#444" text-anchor="end" transform="rotate(-26 64.9 334.3)">TNFRSF4</text>
<line x1="75.7" y1="324.4" x2="75.7" y2="326.6" class="tk"/>
<path d="M73.4 240 L73.4 240.97 L73.57 241.94 L73.73 242.9 L73.88 243.87 L74.01 244.84 L74.13 245.81 L74.23 246.78 L74.32 247.74 L74.39 248.71 L74.45 249.68 L74.48 250.65 L74.5 251.61 L74.5 252.58 L74.48 253.55 L74.46 254.52 L74.42 255.49 L74.38 256.45 L74.32 257.42 L74.25 258.39 L74.17 259.36 L74.08 260.33 L73.98 261.29 L73.87 262.26 L73.76 263.23 L73.64 264.2 L73.51 265.16 L73.4 266.13 L73.4 267.1 L73 267.1 L73 266.13 L72.89 265.16 L72.76 264.2 L72.64 263.23 L72.53 262.26 L72.42 261.29 L72.32 260.33 L72.23 259.36 L72.15 258.39 L72.08 257.42 L72.02 256.45 L71.98 255.49 L71.94 254.52 L71.92 253.55 L71.9 252.58 L71.9 251.61 L71.92 250.65 L71.95 249.68 L72.01 248.71 L72.08 247.74 L72.17 246.78 L72.27 245.81 L72.39 244.84 L72.52 243.87 L72.67 242.9 L72.83 241.94 L73 240.97 L73 240Z" fill="#5E8F9A" class="vl"/>
<line x1="73.2" y1="240.9" x2="73.2" y2="265.59" class="vw"/>
<rect x="72.5" y="247.8" width="1.4" height="9.49" fill="#111"/>
<line x1="72.2" y1="252" x2="74.2" y2="252" stroke="#111" stroke-width="0.5"/>
<path d="M78.4 229.5 L78.4 230.44 L78.44 231.37 L78.54 232.31 L78.63 233.24 L78.72 234.18 L78.8 235.11 L78.88 236.05 L78.95 236.99 L79.01 237.92 L79.06 238.86 L79.11 239.79 L79.14 240.73 L79.17 241.66 L79.19 242.6 L79.2 243.54 L79.2 244.47 L79.18 245.41 L79.16 246.34 L79.11 247.28 L79.06 248.21 L78.99 249.15 L78.91 250.09 L78.82 251.02 L78.72 251.96 L78.61 252.89 L78.49 253.83 L78.4 254.76 L78.4 255.7 L78 255.7 L78 254.76 L77.91 253.83 L77.79 252.89 L77.68 251.96 L77.58 251.02 L77.49 250.09 L77.41 249.15 L77.34 248.21 L77.29 247.28 L77.24 246.34 L77.22 245.41 L77.2 244.47 L77.2 243.54 L77.21 242.6 L77.23 241.66 L77.26 240.73 L77.29 239.79 L77.34 238.86 L77.39 237.92 L77.45 236.99 L77.52 236.05 L77.6 235.11 L77.68 234.18 L77.77 233.24 L77.86 232.31 L77.96 231.37 L78 230.44 L78 229.5Z" fill="#9A6A60" class="vl"/>
<line x1="78.2" y1="230.53" x2="78.2" y2="254.46" class="vw"/>
<rect x="77.5" y="238.93" width="1.4" height="9.17" fill="#111"/>
<line x1="77.2" y1="244" x2="79.2" y2="244" stroke="#111" stroke-width="0.5"/>
<path d="M73.2 229V226.6H78.2V229" class="br"/>
<text x="75.7" y="227.7" font-size="5.2" fill="#222" color="#222" text-anchor="middle">**</text>
<text x="77" y="334.3" font-size="4.85" fill="#444" color="#444" text-anchor="end" transform="rotate(-26 77 334.3)">TNFRSF25</text>
<line x1="87.8" y1="324.4" x2="87.8" y2="326.6" class="tk"/>
<path d="M85.5 229.5 L85.5 230.74 L85.58 231.99 L85.7 233.23 L85.82 234.47 L85.92 235.71 L86.02 236.96 L86.1 238.2 L86.18 239.44 L86.24 240.69 L86.3 241.93 L86.34 243.17 L86.37 244.41 L86.39 245.66 L86.4 246.9 L86.39 248.14 L86.38 249.39 L86.35 250.63 L86.3 251.87 L86.25 253.11 L86.18 254.36 L86.11 255.6 L86.02 256.84 L85.93 258.09 L85.82 259.33 L85.71 260.57 L85.59 261.81 L85.5 263.06 L85.5 264.3 L85.1 264.3 L85.1 263.06 L85.01 261.81 L84.89 260.57 L84.78 259.33 L84.67 258.09 L84.58 256.84 L84.49 255.6 L84.42 254.36 L84.35 253.11 L84.3 251.87 L84.25 250.63 L84.22 249.39 L84.21 248.14 L84.2 246.9 L84.21 245.66 L84.23 244.41 L84.26 243.17 L84.3 241.93 L84.36 240.69 L84.42 239.44 L84.5 238.2 L84.58 236.96 L84.68 235.71 L84.78 234.47 L84.9 233.23 L85.02 231.99 L85.1 230.74 L85.1 229.5Z" fill="#5E8F9A" class="vl"/>
<line x1="85.3" y1="230.68" x2="85.3" y2="262.62" class="vw"/>
<rect x="84.6" y="240.88" width="1.4" height="12.18" fill="#111"/>
<line x1="84.3" y1="247" x2="86.3" y2="247" stroke="#111" stroke-width="0.5"/>
<path d="M90.5 218.1 L90.5 219.63 L90.5 221.16 L90.59 222.7 L90.67 224.23 L90.75 225.76 L90.82 227.29 L90.89 228.82 L90.95 230.36 L91.01 231.89 L91.07 233.42 L91.12 234.95 L91.16 236.49 L91.2 238.02 L91.23 239.55 L91.26 241.08 L91.28 242.61 L91.29 244.15 L91.3 245.68 L91.3 247.21 L91.28 248.74 L91.23 250.28 L91.16 251.81 L91.07 253.34 L90.95 254.87 L90.82 256.4 L90.67 257.94 L90.5 259.47 L90.5 261 L90.1 261 L90.1 259.47 L89.93 257.94 L89.78 256.4 L89.65 254.87 L89.53 253.34 L89.44 251.81 L89.37 250.28 L89.32 248.74 L89.3 247.21 L89.3 245.68 L89.31 244.15 L89.32 242.61 L89.34 241.08 L89.37 239.55 L89.4 238.02 L89.44 236.49 L89.48 234.95 L89.53 233.42 L89.59 231.89 L89.65 230.36 L89.71 228.82 L89.78 227.29 L89.85 225.76 L89.93 224.23 L90.01 222.7 L90.1 221.16 L90.1 219.63 L90.1 218.1Z" fill="#9A6A60" class="vl"/>
<line x1="90.3" y1="219.83" x2="90.3" y2="259.56" class="vw"/>
<rect x="89.6" y="236.69" width="1.4" height="15.01" fill="#111"/>
<line x1="89.3" y1="246.7" x2="91.3" y2="246.7" stroke="#111" stroke-width="0.5"/>
<path d="M85.3 218V215.6H90.3V218" class="br"/>
<text x="87.8" y="214.4" font-size="4.8" fill="#222" color="#222" text-anchor="middle">ns</text>
<text x="89.1" y="334.3" font-size="4.85" fill="#444" color="#444" text-anchor="end" transform="rotate(-26 89.1 334.3)">TNFRSF9</text>
<line x1="99.9" y1="324.4" x2="99.9" y2="326.6" class="tk"/>
<path d="M97.6 243 L98.17 243.66 L98.53 244.32 L98.8 244.98 L99.01 245.64 L99.2 246.3 L99.35 246.96 L99.47 247.62 L99.56 248.29 L99.63 248.95 L99.68 249.61 L99.7 250.27 L99.7 250.93 L99.67 251.59 L99.63 252.25 L99.57 252.91 L99.48 253.57 L99.38 254.23 L99.26 254.89 L99.13 255.55 L98.98 256.21 L98.81 256.88 L98.63 257.54 L98.45 258.2 L98.25 258.86 L98.04 259.52 L97.83 260.18 L97.62 260.84 L97.6 261.5 L97.2 261.5 L97.18 260.84 L96.97 260.18 L96.76 259.52 L96.55 258.86 L96.35 258.2 L96.17 257.54 L95.99 256.88 L95.82 256.21 L95.67 255.55 L95.54 254.89 L95.42 254.23 L95.32 253.57 L95.23 252.91 L95.17 252.25 L95.13 251.59 L95.1 250.93 L95.1 250.27 L95.12 249.61 L95.17 248.95 L95.24 248.29 L95.33 247.62 L95.45 246.96 L95.6 246.3 L95.79 245.64 L96 244.98 L96.27 244.32 L96.63 243.66 L97.2 243Z" fill="#86CCDD" class="vl"/>
<line x1="97.4" y1="243.68" x2="97.4" y2="260.32" class="vw"/>
<rect x="96.9" y="247.88" width="1" height="6.47" fill="#111"/>
<line x1="96.4" y1="250.5" x2="98.4" y2="250.5" stroke="#111" stroke-width="0.5"/>
<path d="M102.6 241.5 L102.6 242.29 L102.75 243.07 L102.9 243.86 L103.04 244.64 L103.16 245.43 L103.28 246.21 L103.38 247 L103.47 247.79 L103.55 248.57 L103.61 249.36 L103.66 250.14 L103.68 250.93 L103.7 251.71 L103.7 252.5 L103.68 253.29 L103.65 254.07 L103.61 254.86 L103.56 255.64 L103.49 256.43 L103.41 257.21 L103.32 258 L103.22 258.79 L103.11 259.57 L102.99 260.36 L102.86 261.14 L102.72 261.93 L102.6 262.71 L102.6 263.5 L102.2 263.5 L102.2 262.71 L102.08 261.93 L101.94 261.14 L101.81 260.36 L101.69 259.57 L101.58 258.79 L101.48 258 L101.39 257.21 L101.31 256.43 L101.24 255.64 L101.19 254.86 L101.15 254.07 L101.12 253.29 L101.1 252.5 L101.1 251.71 L101.12 250.93 L101.14 250.14 L101.19 249.36 L101.25 248.57 L101.33 247.79 L101.42 247 L101.52 246.21 L101.64 245.43 L101.76 244.64 L101.9 243.86 L102.05 243.07 L102.2 242.29 L102.2 241.5Z" fill="#9A6A60" class="vl"/>
<line x1="102.4" y1="242.33" x2="102.4" y2="262.28" class="vw"/>
<rect x="101.7" y="248.32" width="1.4" height="7.7" fill="#111"/>
<line x1="101.4" y1="252" x2="103.4" y2="252" stroke="#111" stroke-width="0.5"/>
<path d="M97.4 240V237.6H102.4V240" class="br"/>
<text x="99.9" y="236.4" font-size="4.8" fill="#222" color="#222" text-anchor="middle">ns</text>
<text x="101.2" y="334.3" font-size="4.85" fill="#444" color="#444" text-anchor="end" transform="rotate(-26 101.2 334.3)">CD160</text>
<line x1="112" y1="324.4" x2="112" y2="326.6" class="tk"/>
<path d="M109.7 203.5 L109.7 205.97 L109.7 208.44 L109.77 210.9 L109.85 213.37 L109.93 215.84 L110 218.31 L110.07 220.78 L110.13 223.24 L110.19 225.71 L110.24 228.18 L110.29 230.65 L110.34 233.11 L110.37 235.58 L110.41 238.05 L110.44 240.52 L110.46 242.99 L110.48 245.45 L110.49 247.92 L110.5 250.39 L110.5 252.86 L110.47 255.33 L110.41 257.79 L110.33 260.26 L110.21 262.73 L110.07 265.2 L109.91 267.66 L109.72 270.13 L109.7 272.6 L109.3 272.6 L109.28 270.13 L109.09 267.66 L108.93 265.2 L108.79 262.73 L108.67 260.26 L108.59 257.79 L108.53 255.33 L108.5 252.86 L108.5 250.39 L108.51 247.92 L108.52 245.45 L108.54 242.99 L108.56 240.52 L108.59 238.05 L108.63 235.58 L108.66 233.11 L108.71 230.65 L108.76 228.18 L108.81 225.71 L108.87 223.24 L108.93 220.78 L109 218.31 L109.07 215.84 L109.15 213.37 L109.23 210.9 L109.3 208.44 L109.3 205.97 L109.3 203.5Z" fill="#5E8F9A" class="vl"/>
<line x1="109.5" y1="214.3" x2="109.5" y2="270.65" class="vw"/>
<rect x="108.8" y="235.03" width="1.4" height="24.18" fill="#111"/>
<line x1="108.5" y1="252" x2="110.5" y2="252" stroke="#111" stroke-width="0.5"/>
<path d="M114.7 228.5 L114.7 229.57 L114.76 230.64 L114.87 231.71 L114.98 232.79 L115.08 233.86 L115.17 234.93 L115.25 236 L115.33 237.07 L115.41 238.14 L115.47 239.21 L115.53 240.29 L115.58 241.36 L115.62 242.43 L115.65 243.5 L115.68 244.57 L115.69 245.64 L115.7 246.71 L115.69 247.79 L115.66 248.86 L115.61 249.93 L115.54 251 L115.44 252.07 L115.33 253.14 L115.2 254.21 L115.05 255.29 L114.89 256.36 L114.71 257.43 L114.7 258.5 L114.3 258.5 L114.29 257.43 L114.11 256.36 L113.95 255.29 L113.8 254.21 L113.67 253.14 L113.56 252.07 L113.46 251 L113.39 249.93 L113.34 248.86 L113.31 247.79 L113.3 246.71 L113.31 245.64 L113.32 244.57 L113.35 243.5 L113.38 242.43 L113.42 241.36 L113.47 240.29 L113.53 239.21 L113.59 238.14 L113.67 237.07 L113.75 236 L113.83 234.93 L113.92 233.86 L114.02 232.79 L114.13 231.71 L114.24 230.64 L114.3 229.57 L114.3 228.5Z" fill="#9A6A60" class="vl"/>
<line x1="114.5" y1="229.72" x2="114.5" y2="257.27" class="vw"/>
<rect x="113.8" y="240.46" width="1.4" height="10.5" fill="#111"/>
<line x1="113.5" y1="246.9" x2="115.5" y2="246.9" stroke="#111" stroke-width="0.5"/>
<path d="M109.5 205.1V202.7H114.5V205.1" class="br"/>
<text x="112" y="201.5" font-size="4.8" fill="#222" color="#222" text-anchor="middle">ns</text>
<text x="113.3" y="334.3" font-size="4.85" fill="#444" color="#444" text-anchor="end" transform="rotate(-26 113.3 334.3)">CD244</text>
<line x1="124.1" y1="324.4" x2="124.1" y2="326.6" class="tk"/>
<path d="M121.8 234.6 L121.81 236.26 L121.98 237.91 L122.14 239.57 L122.28 241.23 L122.41 242.89 L122.53 244.54 L122.62 246.2 L122.7 247.86 L122.75 249.51 L122.79 251.17 L122.8 252.83 L122.8 254.49 L122.78 256.14 L122.76 257.8 L122.73 259.46 L122.69 261.11 L122.64 262.77 L122.58 264.43 L122.52 266.09 L122.44 267.74 L122.36 269.4 L122.28 271.06 L122.18 272.71 L122.08 274.37 L121.98 276.03 L121.86 277.69 L121.8 279.34 L121.8 281 L121.4 281 L121.4 279.34 L121.34 277.69 L121.22 276.03 L121.12 274.37 L121.02 272.71 L120.92 271.06 L120.84 269.4 L120.76 267.74 L120.68 266.09 L120.62 264.43 L120.56 262.77 L120.51 261.11 L120.47 259.46 L120.44 257.8 L120.42 256.14 L120.4 254.49 L120.4 252.83 L120.41 251.17 L120.45 249.51 L120.5 247.86 L120.58 246.2 L120.67 244.54 L120.79 242.89 L120.92 241.23 L121.06 239.57 L121.22 237.91 L121.39 236.26 L121.4 234.6Z" fill="#5E8F9A" class="vl"/>
<line x1="121.6" y1="235.82" x2="121.6" y2="278.46" class="vw"/>
<rect x="120.9" y="246.56" width="1.4" height="16.24" fill="#111"/>
<line x1="120.6" y1="253" x2="122.6" y2="253" stroke="#111" stroke-width="0.5"/>
<path d="M126.8 222.2 L126.8 223.22 L126.8 224.24 L126.84 225.25 L126.96 226.27 L127.1 227.29 L127.24 228.31 L127.38 229.32 L127.52 230.34 L127.65 231.36 L127.78 232.38 L127.89 233.4 L127.99 234.41 L128.07 235.43 L128.13 236.45 L128.18 237.47 L128.2 238.49 L128.2 239.5 L128.17 240.52 L128.11 241.54 L128.02 242.56 L127.91 243.57 L127.77 244.59 L127.61 245.61 L127.43 246.63 L127.24 247.65 L127.03 248.66 L126.82 249.68 L126.8 250.7 L126.4 250.7 L126.38 249.68 L126.17 248.66 L125.96 247.65 L125.77 246.63 L125.59 245.61 L125.43 244.59 L125.29 243.57 L125.18 242.56 L125.09 241.54 L125.03 240.52 L125 239.5 L125 238.49 L125.02 237.47 L125.07 236.45 L125.13 235.43 L125.21 234.41 L125.31 233.4 L125.42 232.38 L125.55 231.36 L125.68 230.34 L125.82 229.32 L125.96 228.31 L126.1 227.29 L126.24 226.27 L126.36 225.25 L126.4 224.24 L126.4 223.22 L126.4 222.2Z" fill="#BC7F74" class="vl"/>
<line x1="126.6" y1="223.34" x2="126.6" y2="249.46" class="vw"/>
<rect x="126.1" y="233.12" width="1" height="9.97" fill="#111"/>
<line x1="125.6" y1="239" x2="127.6" y2="239" stroke="#111" stroke-width="0.5"/>
<path d="M121.6 220.5V218.1H126.6V220.5" class="br"/>
<text x="124.1" y="219.2" font-size="5.2" fill="#222" color="#222" text-anchor="middle">***</text>
<text x="125.4" y="334.3" font-size="4.85" fill="#444" color="#444" text-anchor="end" transform="rotate(-26 125.4 334.3)">CD28</text>
<line x1="136.2" y1="324.4" x2="136.2" y2="326.6" class="tk"/>
<path d="M133.9 236.2 L133.9 237.18 L134.1 238.16 L134.3 239.15 L134.48 240.13 L134.66 241.11 L134.83 242.09 L134.99 243.07 L135.13 244.06 L135.25 245.04 L135.36 246.02 L135.45 247 L135.52 247.99 L135.57 248.97 L135.59 249.95 L135.6 250.93 L135.58 251.91 L135.53 252.9 L135.46 253.88 L135.36 254.86 L135.24 255.84 L135.1 256.82 L134.94 257.81 L134.76 258.79 L134.57 259.77 L134.36 260.75 L134.15 261.74 L133.92 262.72 L133.9 263.7 L133.5 263.7 L133.48 262.72 L133.25 261.74 L133.04 260.75 L132.83 259.77 L132.64 258.79 L132.46 257.81 L132.3 256.82 L132.16 255.84 L132.04 254.86 L131.94 253.88 L131.87 252.9 L131.82 251.91 L131.8 250.93 L131.81 249.95 L131.83 248.97 L131.88 247.99 L131.95 247 L132.04 246.02 L132.15 245.04 L132.27 244.06 L132.41 243.07 L132.57 242.09 L132.74 241.11 L132.92 240.13 L133.1 239.15 L133.3 238.16 L133.5 237.18 L133.5 236.2Z" fill="#86CCDD" class="vl"/>
<line x1="133.7" y1="237.22" x2="133.7" y2="262.36" class="vw"/>
<rect x="133.2" y="245.62" width="1" height="9.62" fill="#111"/>
<line x1="132.7" y1="250.7" x2="134.7" y2="250.7" stroke="#111" stroke-width="0.5"/>
<path d="M138.9 232.2 L138.9 233.09 L139.01 233.99 L139.16 234.88 L139.31 235.77 L139.45 236.66 L139.58 237.56 L139.7 238.45 L139.81 239.34 L139.91 240.24 L140 241.13 L140.07 242.02 L140.13 242.91 L140.17 243.81 L140.19 244.7 L140.2 245.59 L140.19 246.49 L140.16 247.38 L140.1 248.27 L140.03 249.16 L139.93 250.06 L139.82 250.95 L139.7 251.84 L139.55 252.74 L139.4 253.63 L139.23 254.52 L139.06 255.41 L138.9 256.31 L138.9 257.2 L138.5 257.2 L138.5 256.31 L138.34 255.41 L138.17 254.52 L138 253.63 L137.85 252.74 L137.7 251.84 L137.58 250.95 L137.47 250.06 L137.37 249.16 L137.3 248.27 L137.24 247.38 L137.21 246.49 L137.2 245.59 L137.21 244.7 L137.23 243.81 L137.27 242.91 L137.33 242.02 L137.4 241.13 L137.49 240.24 L137.59 239.34 L137.7 238.45 L137.82 237.56 L137.95 236.66 L138.09 235.77 L138.24 234.88 L138.39 233.99 L138.5 233.09 L138.5 232.2Z" fill="#BC7F74" class="vl"/>
<line x1="138.7" y1="233.17" x2="138.7" y2="255.97" class="vw"/>
<rect x="138.2" y="240.91" width="1" height="8.75" fill="#111"/>
<line x1="137.7" y1="245.6" x2="139.7" y2="245.6" stroke="#111" stroke-width="0.5"/>
<path d="M133.7 232V229.6H138.7V232" class="br"/>
<text x="136.2" y="230.7" font-size="5.2" fill="#222" color="#222" text-anchor="middle">*</text>
<text x="137.5" y="334.3" font-size="4.85" fill="#444" color="#444" text-anchor="end" transform="rotate(-26 137.5 334.3)">CTLA-4</text>
<line x1="148.3" y1="324.4" x2="148.3" y2="326.6" class="tk"/>
<path d="M146 233.9 L146.01 235.33 L146.19 236.76 L146.35 238.19 L146.5 239.61 L146.63 241.04 L146.75 242.47 L146.86 243.9 L146.94 245.33 L147.01 246.76 L147.06 248.19 L147.09 249.61 L147.1 251.04 L147.09 252.47 L147.08 253.9 L147.05 255.33 L147.01 256.76 L146.96 258.19 L146.9 259.61 L146.83 261.04 L146.75 262.47 L146.66 263.9 L146.56 265.33 L146.46 266.76 L146.35 268.19 L146.23 269.61 L146.1 271.04 L146 272.47 L146 273.9 L145.6 273.9 L145.6 272.47 L145.5 271.04 L145.37 269.61 L145.25 268.19 L145.14 266.76 L145.04 265.33 L144.94 263.9 L144.85 262.47 L144.77 261.04 L144.7 259.61 L144.64 258.19 L144.59 256.76 L144.55 255.33 L144.52 253.9 L144.51 252.47 L144.5 251.04 L144.51 249.61 L144.54 248.19 L144.59 246.76 L144.66 245.33 L144.74 243.9 L144.85 242.47 L144.97 241.04 L145.1 239.61 L145.25 238.19 L145.41 236.76 L145.59 235.33 L145.6 233.9Z" fill="#5E8F9A" class="vl"/>
<line x1="145.8" y1="235.06" x2="145.8" y2="271.77" class="vw"/>
<rect x="145.1" y="245.02" width="1.4" height="14" fill="#111"/>
<line x1="144.8" y1="251" x2="146.8" y2="251" stroke="#111" stroke-width="0.5"/>
<path d="M151 231.3 L151.44 232.27 L151.72 233.24 L151.94 234.21 L152.11 235.19 L152.24 236.16 L152.35 237.13 L152.43 238.1 L152.48 239.07 L152.5 240.04 L152.5 241.01 L152.48 241.99 L152.44 242.96 L152.38 243.93 L152.31 244.9 L152.23 245.87 L152.13 246.84 L152.02 247.81 L151.9 248.79 L151.77 249.76 L151.64 250.73 L151.51 251.7 L151.37 252.67 L151.24 253.64 L151.12 254.61 L151.01 255.59 L151 256.56 L151 257.53 L151 258.5 L150.6 258.5 L150.6 257.53 L150.6 256.56 L150.59 255.59 L150.48 254.61 L150.36 253.64 L150.23 252.67 L150.09 251.7 L149.96 250.73 L149.83 249.76 L149.7 248.79 L149.58 247.81 L149.47 246.84 L149.37 245.87 L149.29 244.9 L149.22 243.93 L149.16 242.96 L149.12 241.99 L149.1 241.01 L149.1 240.04 L149.12 239.07 L149.17 238.1 L149.25 237.13 L149.36 236.16 L149.49 235.19 L149.66 234.21 L149.88 233.24 L150.16 232.27 L150.6 231.3Z" fill="#BC7F74" class="vl"/>
<line x1="150.8" y1="232.06" x2="150.8" y2="256.75" class="vw"/>
<rect x="150.3" y="237.22" width="1" height="9.52" fill="#111"/>
<line x1="149.8" y1="240.4" x2="151.8" y2="240.4" stroke="#111" stroke-width="0.5"/>
<path d="M145.8 231V228.6H150.8V231" class="br"/>
<text x="148.3" y="229.7" font-size="5.2" fill="#222" color="#222" text-anchor="middle">**</text>
<text x="149.6" y="334.3" font-size="4.85" fill="#444" color="#444" text-anchor="end" transform="rotate(-26 149.6 334.3)">ICOS</text>
<line x1="160.4" y1="324.4" x2="160.4" y2="326.6" class="tk"/>
<path d="M158.1 233.9 L158.1 236.01 L158.22 238.13 L158.47 240.24 L158.72 242.36 L158.96 244.47 L159.16 246.59 L159.31 248.7 L159.39 250.81 L159.4 252.93 L159.38 255.04 L159.36 257.16 L159.31 259.27 L159.26 261.39 L159.19 263.5 L159.11 265.61 L159.02 267.73 L158.93 269.84 L158.82 271.96 L158.71 274.07 L158.6 276.19 L158.49 278.3 L158.38 280.41 L158.27 282.53 L158.17 284.64 L158.1 286.76 L158.1 288.87 L158.1 290.99 L158.1 293.1 L157.7 293.1 L157.7 290.99 L157.7 288.87 L157.7 286.76 L157.63 284.64 L157.53 282.53 L157.42 280.41 L157.31 278.3 L157.2 276.19 L157.09 274.07 L156.98 271.96 L156.87 269.84 L156.78 267.73 L156.69 265.61 L156.61 263.5 L156.54 261.39 L156.49 259.27 L156.44 257.16 L156.42 255.04 L156.4 252.93 L156.41 250.81 L156.49 248.7 L156.64 246.59 L156.84 244.47 L157.08 242.36 L157.33 240.24 L157.58 238.13 L157.7 236.01 L157.7 233.9Z" fill="#74B0BF" class="vl"/>
<line x1="157.9" y1="235.11" x2="157.9" y2="279.3" class="vw"/>
<rect x="157.4" y="245.66" width="1" height="20.72" fill="#111"/>
<line x1="156.9" y1="252" x2="158.9" y2="252" stroke="#111" stroke-width="0.5"/>
<path d="M163.1 231.3 L163.1 232.39 L163.27 233.49 L163.43 234.58 L163.57 235.67 L163.7 236.76 L163.82 237.86 L163.93 238.95 L164.01 240.04 L164.09 241.14 L164.14 242.23 L164.18 243.32 L164.2 244.41 L164.2 245.51 L164.19 246.6 L164.16 247.69 L164.13 248.79 L164.08 249.88 L164.02 250.97 L163.95 252.06 L163.87 253.16 L163.79 254.25 L163.69 255.34 L163.58 256.44 L163.46 257.53 L163.34 258.62 L163.21 259.71 L163.1 260.81 L163.1 261.9 L162.7 261.9 L162.7 260.81 L162.59 259.71 L162.46 258.62 L162.34 257.53 L162.22 256.44 L162.11 255.34 L162.01 254.25 L161.93 253.16 L161.85 252.06 L161.78 250.97 L161.72 249.88 L161.67 248.79 L161.64 247.69 L161.61 246.6 L161.6 245.51 L161.6 244.41 L161.62 243.32 L161.66 242.23 L161.71 241.14 L161.79 240.04 L161.87 238.95 L161.98 237.86 L162.1 236.76 L162.23 235.67 L162.37 234.58 L162.53 233.49 L162.7 232.39 L162.7 231.3Z" fill="#9A6A60" class="vl"/>
<line x1="162.9" y1="232.29" x2="162.9" y2="260.25" class="vw"/>
<rect x="162.2" y="240.21" width="1.4" height="10.71" fill="#111"/>
<line x1="161.9" y1="245" x2="163.9" y2="245" stroke="#111" stroke-width="0.5"/>
<path d="M157.9 232V229.6H162.9V232" class="br"/>
<text x="160.4" y="228.4" font-size="4.8" fill="#222" color="#222" text-anchor="middle">ns</text>
<text x="161.7" y="334.3" font-size="4.85" fill="#444" color="#444" text-anchor="end" transform="rotate(-26 161.7 334.3)">CD96</text>
<line x1="172.5" y1="324.4" x2="172.5" y2="326.6" class="tk"/>
<path d="M170.2 230.2 L170.2 231.67 L170.27 233.14 L170.38 234.6 L170.49 236.07 L170.58 237.54 L170.67 239.01 L170.75 240.47 L170.82 241.94 L170.88 243.41 L170.93 244.88 L170.96 246.35 L170.99 247.81 L171 249.28 L171 250.75 L170.99 252.22 L170.97 253.69 L170.94 255.15 L170.89 256.62 L170.84 258.09 L170.78 259.56 L170.71 261.02 L170.64 262.49 L170.55 263.96 L170.46 265.43 L170.36 266.9 L170.25 268.36 L170.2 269.83 L170.2 271.3 L169.8 271.3 L169.8 269.83 L169.75 268.36 L169.64 266.9 L169.54 265.43 L169.45 263.96 L169.36 262.49 L169.29 261.02 L169.22 259.56 L169.16 258.09 L169.11 256.62 L169.06 255.15 L169.03 253.69 L169.01 252.22 L169 250.75 L169 249.28 L169.01 247.81 L169.04 246.35 L169.07 244.88 L169.12 243.41 L169.18 241.94 L169.25 240.47 L169.33 239.01 L169.42 237.54 L169.51 236.07 L169.62 234.6 L169.73 233.14 L169.8 231.67 L169.8 230.2Z" fill="#5E8F9A" class="vl"/>
<line x1="170" y1="231.49" x2="170" y2="269.3" class="vw"/>
<rect x="169.3" y="243.07" width="1.4" height="14.38" fill="#111"/>
<line x1="169" y1="250" x2="171" y2="250" stroke="#111" stroke-width="0.5"/>
<path d="M175.2 228.9 L175.2 230.55 L175.23 232.19 L175.33 233.84 L175.42 235.49 L175.51 237.13 L175.59 238.78 L175.66 240.43 L175.72 242.07 L175.77 243.72 L175.82 245.36 L175.85 247.01 L175.88 248.66 L175.89 250.3 L175.9 251.95 L175.9 253.6 L175.88 255.24 L175.86 256.89 L175.82 258.54 L175.78 260.18 L175.72 261.83 L175.66 263.48 L175.59 265.12 L175.51 266.77 L175.43 268.41 L175.33 270.06 L175.23 271.71 L175.2 273.35 L175.2 275 L174.8 275 L174.8 273.35 L174.77 271.71 L174.67 270.06 L174.57 268.41 L174.49 266.77 L174.41 265.12 L174.34 263.48 L174.28 261.83 L174.22 260.18 L174.18 258.54 L174.14 256.89 L174.12 255.24 L174.1 253.6 L174.1 251.95 L174.11 250.3 L174.12 248.66 L174.15 247.01 L174.18 245.36 L174.23 243.72 L174.28 242.07 L174.34 240.43 L174.41 238.78 L174.49 237.13 L174.58 235.49 L174.67 233.84 L174.77 232.19 L174.8 230.55 L174.8 228.9Z" fill="#9A6A60" class="vl"/>
<line x1="175" y1="230.36" x2="175" y2="272.86" class="vw"/>
<rect x="174.3" y="243.91" width="1.4" height="16.14" fill="#111"/>
<line x1="174" y1="252" x2="176" y2="252" stroke="#111" stroke-width="0.5"/>
<path d="M170 229.1V226.7H175V229.1" class="br"/>
<text x="172.5" y="225.5" font-size="4.8" fill="#222" color="#222" text-anchor="middle">ns</text>
<text x="173.8" y="334.3" font-size="4.85" fill="#444" color="#444" text-anchor="end" transform="rotate(-26 173.8 334.3)">TIGIT</text>
<line x1="184.6" y1="324.4" x2="184.6" y2="326.6" class="tk"/>
<path d="M182.3 234 L182.3 235.63 L182.42 237.26 L182.55 238.9 L182.67 240.53 L182.78 242.16 L182.88 243.79 L182.95 245.43 L183.02 247.06 L183.06 248.69 L183.09 250.32 L183.1 251.95 L183.1 253.59 L183.09 255.22 L183.07 256.85 L183.04 258.48 L183.01 260.11 L182.96 261.75 L182.92 263.38 L182.86 265.01 L182.8 266.64 L182.73 268.27 L182.66 269.91 L182.58 271.54 L182.5 273.17 L182.41 274.8 L182.32 276.44 L182.3 278.07 L182.3 279.7 L181.9 279.7 L181.9 278.07 L181.88 276.44 L181.79 274.8 L181.7 273.17 L181.62 271.54 L181.54 269.91 L181.47 268.27 L181.4 266.64 L181.34 265.01 L181.28 263.38 L181.24 261.75 L181.19 260.11 L181.16 258.48 L181.13 256.85 L181.11 255.22 L181.1 253.59 L181.1 251.95 L181.11 250.32 L181.14 248.69 L181.18 247.06 L181.25 245.43 L181.32 243.79 L181.42 242.16 L181.53 240.53 L181.65 238.9 L181.78 237.26 L181.9 235.63 L181.9 234Z" fill="#5E8F9A" class="vl"/>
<line x1="182.1" y1="235.2" x2="182.1" y2="277.18" class="vw"/>
<rect x="181.4" y="245.7" width="1.4" height="16" fill="#111"/>
<line x1="181.1" y1="252" x2="183.1" y2="252" stroke="#111" stroke-width="0.5"/>
<path d="M187.3 196 L187.3 198.21 L187.3 200.43 L187.39 202.64 L187.47 204.86 L187.54 207.07 L187.61 209.29 L187.67 211.5 L187.73 213.71 L187.78 215.93 L187.82 218.14 L187.85 220.36 L187.87 222.57 L187.89 224.79 L187.9 227 L187.9 229.21 L187.89 231.43 L187.87 233.64 L187.84 235.86 L187.8 238.07 L187.75 240.29 L187.7 242.5 L187.64 244.71 L187.57 246.93 L187.49 249.14 L187.4 251.36 L187.31 253.57 L187.3 255.79 L187.3 258 L186.9 258 L186.9 255.79 L186.89 253.57 L186.8 251.36 L186.71 249.14 L186.63 246.93 L186.56 244.71 L186.5 242.5 L186.45 240.29 L186.4 238.07 L186.36 235.86 L186.33 233.64 L186.31 231.43 L186.3 229.21 L186.3 227 L186.31 224.79 L186.33 222.57 L186.35 220.36 L186.38 218.14 L186.42 215.93 L186.47 213.71 L186.53 211.5 L186.59 209.29 L186.66 207.07 L186.73 204.86 L186.81 202.64 L186.9 200.43 L186.9 198.21 L186.9 196Z" fill="#9A6A60" class="vl"/>
<line x1="187.1" y1="197.9" x2="187.1" y2="255.3" class="vw"/>
<rect x="186.4" y="216.8" width="1.4" height="21.7" fill="#111"/>
<line x1="186.1" y1="228" x2="188.1" y2="228" stroke="#111" stroke-width="0.5"/>
<path d="M182.1 197.4V195H187.1V197.4" class="br"/>
<text x="184.6" y="196.1" font-size="5.2" fill="#222" color="#222" text-anchor="middle">*</text>
<text x="185.9" y="334.3" font-size="4.85" fill="#444" color="#444" text-anchor="end" transform="rotate(-26 185.9 334.3)">BTLA</text>
<line x1="196.7" y1="324.4" x2="196.7" y2="326.6" class="tk"/>
<path d="M194.4 218.5 L194.4 219.87 L194.4 221.24 L194.4 222.61 L194.45 223.99 L194.55 225.36 L194.66 226.73 L194.77 228.1 L194.88 229.47 L195 230.84 L195.12 232.21 L195.23 233.59 L195.35 234.96 L195.46 236.33 L195.56 237.7 L195.66 239.07 L195.75 240.44 L195.83 241.81 L195.9 243.19 L195.96 244.56 L196.02 245.93 L196.05 247.3 L196.08 248.67 L196.1 250.04 L196.09 251.41 L195.98 252.79 L195.72 254.16 L195.28 255.53 L194.4 256.9 L194 256.9 L193.12 255.53 L192.68 254.16 L192.42 252.79 L192.31 251.41 L192.3 250.04 L192.32 248.67 L192.35 247.3 L192.38 245.93 L192.44 244.56 L192.5 243.19 L192.57 241.81 L192.65 240.44 L192.74 239.07 L192.84 237.7 L192.94 236.33 L193.05 234.96 L193.17 233.59 L193.28 232.21 L193.4 230.84 L193.52 229.47 L193.63 228.1 L193.74 226.73 L193.85 225.36 L193.95 223.99 L194 222.61 L194 221.24 L194 219.87 L194 218.5Z" fill="#86CCDD" class="vl"/>
<line x1="194.2" y1="220.43" x2="194.2" y2="256.13" class="vw"/>
<rect x="193.7" y="239.62" width="1" height="13.44" fill="#111"/>
<line x1="193.2" y1="251" x2="195.2" y2="251" stroke="#111" stroke-width="0.5"/>
<path d="M199.4 234.6 L199.4 235.4 L199.49 236.19 L199.63 236.99 L199.77 237.79 L199.91 238.58 L200.04 239.38 L200.17 240.17 L200.29 240.97 L200.4 241.77 L200.51 242.56 L200.6 243.36 L200.69 244.16 L200.77 244.95 L200.83 245.75 L200.89 246.55 L200.93 247.34 L200.97 248.14 L200.99 248.94 L201 249.73 L200.99 250.53 L200.95 251.32 L200.88 252.12 L200.78 252.92 L200.64 253.71 L200.45 254.51 L200.22 255.31 L199.9 256.1 L199.4 256.9 L199 256.9 L198.5 256.1 L198.18 255.31 L197.95 254.51 L197.76 253.71 L197.62 252.92 L197.52 252.12 L197.45 251.32 L197.41 250.53 L197.4 249.73 L197.41 248.94 L197.43 248.14 L197.47 247.34 L197.51 246.55 L197.57 245.75 L197.63 244.95 L197.71 244.16 L197.8 243.36 L197.89 242.56 L198 241.77 L198.11 240.97 L198.23 240.17 L198.36 239.38 L198.49 238.58 L198.63 237.79 L198.77 236.99 L198.91 236.19 L199 235.4 L199 234.6Z" fill="#BC7F74" class="vl"/>
<line x1="199.2" y1="235.67" x2="199.2" y2="256.05" class="vw"/>
<rect x="198.7" y="244.61" width="1" height="7.81" fill="#111"/>
<line x1="198.2" y1="250" x2="200.2" y2="250" stroke="#111" stroke-width="0.5"/>
<path d="M194.2 219V216.6H199.2V219" class="br"/>
<text x="196.7" y="215.4" font-size="4.8" fill="#222" color="#222" text-anchor="middle">ns</text>
<text x="198" y="334.3" font-size="4.85" fill="#444" color="#444" text-anchor="end" transform="rotate(-26 198 334.3)">CD200R</text>
<line x1="208.8" y1="324.4" x2="208.8" y2="326.6" class="tk"/>
<path d="M206.5 238 L206.5 238.65 L206.62 239.29 L206.77 239.94 L206.92 240.59 L207.07 241.23 L207.21 241.88 L207.34 242.53 L207.47 243.17 L207.58 243.82 L207.69 244.46 L207.79 245.11 L207.87 245.76 L207.94 246.4 L208 247.05 L208.05 247.7 L208.08 248.34 L208.1 248.99 L208.1 249.64 L208.08 250.28 L208.04 250.93 L207.98 251.58 L207.89 252.22 L207.77 252.87 L207.63 253.51 L207.45 254.16 L207.23 254.81 L206.94 255.45 L206.5 256.1 L206.1 256.1 L205.66 255.45 L205.37 254.81 L205.15 254.16 L204.97 253.51 L204.83 252.87 L204.71 252.22 L204.62 251.58 L204.56 250.93 L204.52 250.28 L204.5 249.64 L204.5 248.99 L204.52 248.34 L204.55 247.7 L204.6 247.05 L204.66 246.4 L204.73 245.76 L204.81 245.11 L204.91 244.46 L205.02 243.82 L205.13 243.17 L205.26 242.53 L205.39 241.88 L205.53 241.23 L205.68 240.59 L205.83 239.94 L205.98 239.29 L206.1 238.65 L206.1 238Z" fill="#74B0BF" class="vl"/>
<line x1="206.3" y1="238.88" x2="206.3" y2="255.27" class="vw"/>
<rect x="205.8" y="245.47" width="1" height="6.34" fill="#111"/>
<line x1="205.3" y1="249.5" x2="207.3" y2="249.5" stroke="#111" stroke-width="0.5"/>
<path d="M211.5 248.3 L212 248.72 L212.33 249.14 L212.57 249.55 L212.78 249.97 L212.95 250.39 L213.09 250.81 L213.21 251.23 L213.31 251.64 L213.38 252.06 L213.44 252.48 L213.48 252.9 L213.5 253.31 L213.5 253.73 L213.49 254.15 L213.46 254.57 L213.42 254.99 L213.37 255.4 L213.31 255.82 L213.23 256.24 L213.14 256.66 L213.04 257.07 L212.91 257.49 L212.78 257.91 L212.62 258.33 L212.43 258.75 L212.21 259.16 L211.92 259.58 L211.5 260 L211.1 260 L210.68 259.58 L210.39 259.16 L210.17 258.75 L209.98 258.33 L209.82 257.91 L209.69 257.49 L209.56 257.07 L209.46 256.66 L209.37 256.24 L209.29 255.82 L209.23 255.4 L209.18 254.99 L209.14 254.57 L209.11 254.15 L209.1 253.73 L209.1 253.31 L209.12 252.9 L209.16 252.48 L209.22 252.06 L209.29 251.64 L209.39 251.23 L209.51 250.81 L209.65 250.39 L209.82 249.97 L210.03 249.55 L210.27 249.14 L210.6 248.72 L211.1 248.3Z" fill="#D99488" class="vl"/>
<line x1="211.3" y1="248.86" x2="211.3" y2="259.18" class="vw"/>
<rect x="210.8" y="251.68" width="1" height="4.09" fill="#111"/>
<line x1="210.3" y1="253.5" x2="212.3" y2="253.5" stroke="#111" stroke-width="0.5"/>
<path d="M206.3 239.2V236.8H211.3V239.2" class="br"/>
<text x="208.8" y="237.9" font-size="5.2" fill="#222" color="#222" text-anchor="middle">*</text>
<text x="210.1" y="334.3" font-size="4.85" fill="#444" color="#444" text-anchor="end" transform="rotate(-26 210.1 334.3)">MYLK</text>
<line x1="220.9" y1="324.4" x2="220.9" y2="326.6" class="tk"/>
<path d="M218.6 228.9 L218.6 230.15 L218.6 231.4 L218.65 232.65 L218.77 233.9 L218.91 235.15 L219.06 236.4 L219.2 237.65 L219.35 238.9 L219.49 240.15 L219.62 241.4 L219.74 242.65 L219.85 243.9 L219.94 245.15 L220.01 246.4 L220.06 247.65 L220.09 248.9 L220.1 250.15 L220.08 251.4 L220.02 252.65 L219.94 253.9 L219.82 255.15 L219.67 256.4 L219.5 257.65 L219.31 258.9 L219.1 260.15 L218.87 261.4 L218.64 262.65 L218.6 263.9 L218.2 263.9 L218.16 262.65 L217.93 261.4 L217.7 260.15 L217.49 258.9 L217.3 257.65 L217.13 256.4 L216.98 255.15 L216.86 253.9 L216.78 252.65 L216.72 251.4 L216.7 250.15 L216.71 248.9 L216.74 247.65 L216.79 246.4 L216.86 245.15 L216.95 243.9 L217.06 242.65 L217.18 241.4 L217.31 240.15 L217.45 238.9 L217.6 237.65 L217.74 236.4 L217.89 235.15 L218.03 233.9 L218.15 232.65 L218.2 231.4 L218.2 230.15 L218.2 228.9Z" fill="#74B0BF" class="vl"/>
<line x1="218.4" y1="230.26" x2="218.4" y2="262.49" class="vw"/>
<rect x="217.9" y="242.62" width="1" height="12.25" fill="#111"/>
<line x1="217.4" y1="250" x2="219.4" y2="250" stroke="#111" stroke-width="0.5"/>
<path d="M223.6 237.5 L223.87 238.16 L224.09 238.83 L224.26 239.49 L224.4 240.16 L224.52 240.82 L224.62 241.49 L224.71 242.15 L224.79 242.81 L224.85 243.48 L224.9 244.14 L224.94 244.81 L224.97 245.47 L224.99 246.14 L225 246.8 L225 247.46 L224.98 248.13 L224.96 248.79 L224.92 249.46 L224.87 250.12 L224.81 250.79 L224.73 251.45 L224.65 252.11 L224.54 252.78 L224.42 253.44 L224.28 254.11 L224.11 254.77 L223.89 255.44 L223.6 256.1 L223.2 256.1 L222.91 255.44 L222.69 254.77 L222.52 254.11 L222.38 253.44 L222.26 252.78 L222.15 252.11 L222.07 251.45 L221.99 250.79 L221.93 250.12 L221.88 249.46 L221.84 248.79 L221.82 248.13 L221.8 247.46 L221.8 246.8 L221.81 246.14 L221.83 245.47 L221.86 244.81 L221.9 244.14 L221.95 243.48 L222.01 242.81 L222.09 242.15 L222.18 241.49 L222.28 240.82 L222.4 240.16 L222.54 239.49 L222.71 238.83 L222.93 238.16 L223.2 237.5Z" fill="#BC7F74" class="vl"/>
<line x1="223.4" y1="238.28" x2="223.4" y2="255.07" class="vw"/>
<rect x="222.9" y="243.68" width="1" height="6.51" fill="#111"/>
<line x1="222.4" y1="247" x2="224.4" y2="247" stroke="#111" stroke-width="0.5"/>
<path d="M218.4 230.1V227.7H223.4V230.1" class="br"/>
<text x="220.9" y="226.5" font-size="4.8" fill="#222" color="#222" text-anchor="middle">ns</text>
<text x="222.2" y="334.3" font-size="4.85" fill="#444" color="#444" text-anchor="end" transform="rotate(-26 222.2 334.3)">HAVCR2</text>
<line x1="233" y1="324.4" x2="233" y2="326.6" class="tk"/>
<path d="M230.7 215.5 L230.7 217.62 L230.74 219.75 L230.84 221.88 L230.93 224 L231.03 226.12 L231.11 228.25 L231.2 230.38 L231.27 232.5 L231.34 234.62 L231.41 236.75 L231.47 238.88 L231.52 241 L231.57 243.12 L231.61 245.25 L231.64 247.38 L231.67 249.5 L231.68 251.62 L231.7 253.75 L231.7 255.88 L231.69 258 L231.64 260.12 L231.56 262.25 L231.45 264.38 L231.31 266.5 L231.15 268.62 L230.96 270.75 L230.75 272.88 L230.7 275 L230.3 275 L230.25 272.88 L230.04 270.75 L229.85 268.62 L229.69 266.5 L229.55 264.38 L229.44 262.25 L229.36 260.12 L229.31 258 L229.3 255.88 L229.3 253.75 L229.32 251.62 L229.33 249.5 L229.36 247.38 L229.39 245.25 L229.43 243.12 L229.48 241 L229.53 238.88 L229.59 236.75 L229.66 234.62 L229.73 232.5 L229.8 230.38 L229.89 228.25 L229.97 226.12 L230.07 224 L230.16 221.88 L230.26 219.75 L230.3 217.62 L230.3 215.5Z" fill="#5E8F9A" class="vl"/>
<line x1="230.5" y1="218.3" x2="230.5" y2="273.18" class="vw"/>
<rect x="229.8" y="241.82" width="1.4" height="20.82" fill="#111"/>
<line x1="229.5" y1="256" x2="231.5" y2="256" stroke="#111" stroke-width="0.5"/>
<path d="M235.7 227.7 L235.7 228.71 L235.78 229.73 L235.91 230.74 L236.02 231.76 L236.12 232.77 L236.22 233.79 L236.31 234.8 L236.38 235.81 L236.45 236.83 L236.5 237.84 L236.54 238.86 L236.58 239.87 L236.59 240.89 L236.6 241.9 L236.59 242.91 L236.58 243.93 L236.54 244.94 L236.5 245.96 L236.45 246.97 L236.38 247.99 L236.31 249 L236.22 250.01 L236.12 251.03 L236.02 252.04 L235.91 253.06 L235.78 254.07 L235.7 255.09 L235.7 256.1 L235.3 256.1 L235.3 255.09 L235.22 254.07 L235.09 253.06 L234.98 252.04 L234.88 251.03 L234.78 250.01 L234.69 249 L234.62 247.99 L234.55 246.97 L234.5 245.96 L234.46 244.94 L234.42 243.93 L234.41 242.91 L234.4 241.9 L234.41 240.89 L234.42 239.87 L234.46 238.86 L234.5 237.84 L234.55 236.83 L234.62 235.81 L234.69 234.8 L234.78 233.79 L234.88 232.77 L234.98 231.76 L235.09 230.74 L235.22 229.73 L235.3 228.71 L235.3 227.7Z" fill="#9A6A60" class="vl"/>
<line x1="235.5" y1="228.71" x2="235.5" y2="254.66" class="vw"/>
<rect x="234.8" y="236.93" width="1.4" height="9.94" fill="#111"/>
<line x1="234.5" y1="241.9" x2="236.5" y2="241.9" stroke="#111" stroke-width="0.5"/>
<path d="M230.5 217.6V215.2H235.5V217.6" class="br"/>
<text x="233" y="216.3" font-size="5.2" fill="#222" color="#222" text-anchor="middle">***</text>
<text x="234.3" y="334.3" font-size="4.85" fill="#444" color="#444" text-anchor="end" transform="rotate(-26 234.3 334.3)">CD27</text>
<line x1="245.1" y1="324.4" x2="245.1" y2="326.6" class="tk"/>
<path d="M242.8 232.8 L242.81 234 L242.98 235.21 L243.15 236.41 L243.29 237.61 L243.42 238.82 L243.53 240.02 L243.63 241.23 L243.7 242.43 L243.76 243.63 L243.79 244.84 L243.8 246.04 L243.8 247.24 L243.78 248.45 L243.76 249.65 L243.73 250.85 L243.69 252.06 L243.64 253.26 L243.58 254.46 L243.51 255.67 L243.44 256.87 L243.36 258.07 L243.27 259.28 L243.18 260.48 L243.08 261.69 L242.97 262.89 L242.86 264.09 L242.8 265.3 L242.8 266.5 L242.4 266.5 L242.4 265.3 L242.34 264.09 L242.23 262.89 L242.12 261.69 L242.02 260.48 L241.93 259.28 L241.84 258.07 L241.76 256.87 L241.69 255.67 L241.62 254.46 L241.56 253.26 L241.51 252.06 L241.47 250.85 L241.44 249.65 L241.42 248.45 L241.4 247.24 L241.4 246.04 L241.41 244.84 L241.44 243.63 L241.5 242.43 L241.57 241.23 L241.67 240.02 L241.78 238.82 L241.91 237.61 L242.05 236.41 L242.22 235.21 L242.39 234 L242.4 232.8Z" fill="#5E8F9A" class="vl"/>
<line x1="242.6" y1="233.76" x2="242.6" y2="264.56" class="vw"/>
<rect x="241.9" y="241.38" width="1.4" height="11.8" fill="#111"/>
<line x1="241.6" y1="246" x2="243.6" y2="246" stroke="#111" stroke-width="0.5"/>
<path d="M247.8 241.9 L247.8 242.83 L247.95 243.75 L248.1 244.68 L248.24 245.6 L248.36 246.53 L248.46 247.45 L248.55 248.38 L248.61 249.3 L248.66 250.22 L248.69 251.15 L248.7 252.08 L248.7 253 L248.68 253.93 L248.66 254.85 L248.63 255.78 L248.59 256.7 L248.55 257.62 L248.5 258.55 L248.44 259.48 L248.37 260.4 L248.29 261.32 L248.22 262.25 L248.13 263.18 L248.04 264.1 L247.94 265.03 L247.84 265.95 L247.8 266.88 L247.8 267.8 L247.4 267.8 L247.4 266.88 L247.36 265.95 L247.26 265.03 L247.16 264.1 L247.07 263.18 L246.98 262.25 L246.91 261.32 L246.83 260.4 L246.76 259.48 L246.7 258.55 L246.65 257.62 L246.61 256.7 L246.57 255.78 L246.54 254.85 L246.52 253.93 L246.5 253 L246.5 252.08 L246.51 251.15 L246.54 250.22 L246.59 249.3 L246.65 248.38 L246.74 247.45 L246.84 246.53 L246.96 245.6 L247.1 244.68 L247.25 243.75 L247.4 242.83 L247.4 241.9Z" fill="#9A6A60" class="vl"/>
<line x1="247.6" y1="242.71" x2="247.6" y2="266.24" class="vw"/>
<rect x="246.9" y="248.47" width="1.4" height="9.07" fill="#111"/>
<line x1="246.6" y1="252" x2="248.6" y2="252" stroke="#111" stroke-width="0.5"/>
<path d="M242.6 232.8V230.4H247.6V232.8" class="br"/>
<text x="245.1" y="229.2" font-size="4.8" fill="#222" color="#222" text-anchor="middle">ns</text>
<text x="246.4" y="334.3" font-size="4.85" fill="#444" color="#444" text-anchor="end" transform="rotate(-26 246.4 334.3)">LAG-3</text>
<line x1="257.2" y1="324.4" x2="257.2" y2="326.6" class="tk"/>
<path d="M254.9 221 L254.9 223.51 L254.92 226.02 L255.1 228.53 L255.3 231.04 L255.5 233.55 L255.69 236.06 L255.88 238.57 L256.03 241.09 L256.16 243.6 L256.25 246.11 L256.29 248.62 L256.3 251.13 L256.28 253.64 L256.24 256.15 L256.17 258.66 L256.09 261.17 L255.99 263.68 L255.88 266.19 L255.75 268.7 L255.62 271.21 L255.48 273.73 L255.34 276.24 L255.2 278.75 L255.06 281.26 L254.94 283.77 L254.9 286.28 L254.9 288.79 L254.9 291.3 L254.5 291.3 L254.5 288.79 L254.5 286.28 L254.46 283.77 L254.34 281.26 L254.2 278.75 L254.06 276.24 L253.92 273.73 L253.78 271.21 L253.65 268.7 L253.52 266.19 L253.41 263.68 L253.31 261.17 L253.23 258.66 L253.16 256.15 L253.12 253.64 L253.1 251.13 L253.11 248.62 L253.15 246.11 L253.24 243.6 L253.37 241.09 L253.52 238.57 L253.71 236.06 L253.9 233.55 L254.1 231.04 L254.3 228.53 L254.48 226.02 L254.5 223.51 L254.5 221Z" fill="#74B0BF" class="vl"/>
<line x1="254.7" y1="222.75" x2="254.7" y2="277.3" class="vw"/>
<rect x="254.2" y="239.85" width="1" height="24.6" fill="#111"/>
<line x1="253.7" y1="250" x2="255.7" y2="250" stroke="#111" stroke-width="0.5"/>
<path d="M259.9 202.3 L259.9 203.85 L259.9 205.4 L259.96 206.95 L260.04 208.5 L260.11 210.05 L260.18 211.6 L260.25 213.15 L260.31 214.7 L260.37 216.25 L260.42 217.8 L260.47 219.35 L260.51 220.9 L260.56 222.45 L260.59 224 L260.62 225.55 L260.65 227.1 L260.67 228.65 L260.68 230.2 L260.69 231.75 L260.7 233.3 L260.69 234.85 L260.65 236.4 L260.58 237.95 L260.46 239.5 L260.32 241.05 L260.14 242.6 L259.94 244.15 L259.9 245.7 L259.5 245.7 L259.46 244.15 L259.26 242.6 L259.08 241.05 L258.94 239.5 L258.82 237.95 L258.75 236.4 L258.71 234.85 L258.7 233.3 L258.71 231.75 L258.72 230.2 L258.73 228.65 L258.75 227.1 L258.78 225.55 L258.81 224 L258.84 222.45 L258.89 220.9 L258.93 219.35 L258.98 217.8 L259.03 216.25 L259.09 214.7 L259.15 213.15 L259.22 211.6 L259.29 210.05 L259.36 208.5 L259.44 206.95 L259.5 205.4 L259.5 203.85 L259.5 202.3Z" fill="#9A6A60" class="vl"/>
<line x1="259.7" y1="204.19" x2="259.7" y2="244.46" class="vw"/>
<rect x="259" y="222.91" width="1.4" height="15.19" fill="#111"/>
<line x1="258.7" y1="234" x2="260.7" y2="234" stroke="#111" stroke-width="0.5"/>
<path d="M254.7 204.3V201.9H259.7V204.3" class="br"/>
<text x="257.2" y="203" font-size="5.2" fill="#222" color="#222" text-anchor="middle">**</text>
<text x="258.5" y="334.3" font-size="4.85" fill="#444" color="#444" text-anchor="end" transform="rotate(-26 258.5 334.3)">CD226</text>
<line x1="269.3" y1="324.4" x2="269.3" y2="326.6" class="tk"/>
<path d="M267 234 L267 235.02 L267.14 236.04 L267.3 237.06 L267.46 238.09 L267.62 239.11 L267.76 240.13 L267.89 241.15 L268.01 242.17 L268.11 243.19 L268.2 244.21 L268.28 245.24 L268.33 246.26 L268.37 247.28 L268.4 248.3 L268.4 249.32 L268.38 250.34 L268.34 251.36 L268.28 252.39 L268.2 253.41 L268.1 254.43 L267.98 255.45 L267.84 256.47 L267.69 257.49 L267.53 258.51 L267.35 259.54 L267.17 260.56 L267 261.58 L267 262.6 L266.6 262.6 L266.6 261.58 L266.43 260.56 L266.25 259.54 L266.07 258.51 L265.91 257.49 L265.76 256.47 L265.62 255.45 L265.5 254.43 L265.4 253.41 L265.32 252.39 L265.26 251.36 L265.22 250.34 L265.2 249.32 L265.2 248.3 L265.23 247.28 L265.27 246.26 L265.32 245.24 L265.4 244.21 L265.49 243.19 L265.59 242.17 L265.71 241.15 L265.84 240.13 L265.98 239.11 L266.14 238.09 L266.3 237.06 L266.46 236.04 L266.6 235.02 L266.6 234Z" fill="#74B0BF" class="vl"/>
<line x1="266.8" y1="235.05" x2="266.8" y2="261.21" class="vw"/>
<rect x="266.3" y="243.75" width="1" height="10.01" fill="#111"/>
<line x1="265.8" y1="249" x2="267.8" y2="249" stroke="#111" stroke-width="0.5"/>
<path d="M272 232.8 L272 233.77 L272.12 234.74 L272.25 235.71 L272.38 236.69 L272.5 237.66 L272.6 238.63 L272.7 239.6 L272.78 240.57 L272.85 241.54 L272.91 242.51 L272.95 243.49 L272.98 244.46 L273 245.43 L273 246.4 L272.99 247.37 L272.96 248.34 L272.93 249.31 L272.88 250.29 L272.82 251.26 L272.74 252.23 L272.66 253.2 L272.57 254.17 L272.46 255.14 L272.35 256.11 L272.23 257.09 L272.1 258.06 L272 259.03 L272 260 L271.6 260 L271.6 259.03 L271.5 258.06 L271.37 257.09 L271.25 256.11 L271.14 255.14 L271.03 254.17 L270.94 253.2 L270.86 252.23 L270.78 251.26 L270.72 250.29 L270.67 249.31 L270.64 248.34 L270.61 247.37 L270.6 246.4 L270.6 245.43 L270.62 244.46 L270.65 243.49 L270.69 242.51 L270.75 241.54 L270.82 240.57 L270.9 239.6 L271 238.63 L271.1 237.66 L271.22 236.69 L271.35 235.71 L271.48 234.74 L271.6 233.77 L271.6 232.8Z" fill="#9A6A60" class="vl"/>
<line x1="271.8" y1="233.76" x2="271.8" y2="258.58" class="vw"/>
<rect x="271.1" y="241.38" width="1.4" height="9.52" fill="#111"/>
<line x1="270.8" y1="246" x2="272.8" y2="246" stroke="#111" stroke-width="0.5"/>
<path d="M266.8 231.2V228.8H271.8V231.2" class="br"/>
<text x="269.3" y="227.6" font-size="4.8" fill="#222" color="#222" text-anchor="middle">ns</text>
<text x="270.6" y="334.3" font-size="4.85" fill="#444" color="#444" text-anchor="end" transform="rotate(-26 270.6 334.3)">TMIGD2</text>
<line x1="281.4" y1="324.4" x2="281.4" y2="326.6" class="tk"/>
<path d="M279.1 245.2 L279.65 245.57 L280 245.94 L280.27 246.3 L280.49 246.67 L280.68 247.04 L280.84 247.41 L280.97 247.77 L281.09 248.14 L281.19 248.51 L281.27 248.88 L281.33 249.25 L281.37 249.61 L281.39 249.98 L281.4 250.35 L281.39 250.72 L281.36 251.09 L281.32 251.45 L281.25 251.82 L281.17 252.19 L281.08 252.56 L280.96 252.93 L280.82 253.29 L280.66 253.66 L280.47 254.03 L280.25 254.4 L279.99 254.76 L279.65 255.13 L279.1 255.5 L278.7 255.5 L278.15 255.13 L277.81 254.76 L277.55 254.4 L277.33 254.03 L277.14 253.66 L276.98 253.29 L276.84 252.93 L276.72 252.56 L276.63 252.19 L276.55 251.82 L276.48 251.45 L276.44 251.09 L276.41 250.72 L276.4 250.35 L276.41 249.98 L276.43 249.61 L276.47 249.25 L276.53 248.88 L276.61 248.51 L276.71 248.14 L276.83 247.77 L276.96 247.41 L277.12 247.04 L277.31 246.67 L277.53 246.3 L277.8 245.94 L278.15 245.57 L278.7 245.2Z" fill="#86CCDD" class="vl"/>
<line x1="278.9" y1="245.75" x2="278.9" y2="254.78" class="vw"/>
<rect x="278.4" y="248.52" width="1" height="3.6" fill="#111"/>
<line x1="277.9" y1="250.3" x2="279.9" y2="250.3" stroke="#111" stroke-width="0.5"/>
<path d="M284.1 242.3 L284.55 242.92 L284.85 243.54 L285.08 244.15 L285.27 244.77 L285.44 245.39 L285.58 246.01 L285.71 246.62 L285.82 247.24 L285.91 247.86 L285.99 248.48 L286.06 249.1 L286.11 249.71 L286.15 250.33 L286.18 250.95 L286.2 251.57 L286.2 252.19 L286.18 252.8 L286.15 253.42 L286.09 254.04 L286.01 254.66 L285.91 255.28 L285.78 255.89 L285.63 256.51 L285.45 257.13 L285.24 257.75 L284.98 258.36 L284.64 258.98 L284.1 259.6 L283.7 259.6 L283.16 258.98 L282.82 258.36 L282.56 257.75 L282.35 257.13 L282.17 256.51 L282.02 255.89 L281.89 255.28 L281.79 254.66 L281.71 254.04 L281.65 253.42 L281.62 252.8 L281.6 252.19 L281.6 251.57 L281.62 250.95 L281.65 250.33 L281.69 249.71 L281.74 249.1 L281.81 248.48 L281.89 247.86 L281.98 247.24 L282.09 246.62 L282.22 246.01 L282.36 245.39 L282.53 244.77 L282.72 244.15 L282.95 243.54 L283.25 242.92 L283.7 242.3Z" fill="#D99488" class="vl"/>
<line x1="283.9" y1="243.09" x2="283.9" y2="258.69" class="vw"/>
<rect x="283.4" y="248.61" width="1" height="6.05" fill="#111"/>
<line x1="282.9" y1="252" x2="284.9" y2="252" stroke="#111" stroke-width="0.5"/>
<path d="M278.9 239.9V237.5H283.9V239.9" class="br"/>
<text x="281.4" y="236.3" font-size="4.8" fill="#222" color="#222" text-anchor="middle">ns</text>
<text x="282.7" y="334.3" font-size="4.85" fill="#444" color="#444" text-anchor="end" transform="rotate(-26 282.7 334.3)">CD209</text>
<line x1="293.5" y1="324.4" x2="293.5" y2="326.6" class="tk"/>
<path d="M291.2 238 L291.29 239.28 L291.57 240.56 L291.83 241.85 L292.06 243.13 L292.24 244.41 L292.38 245.69 L292.47 246.97 L292.5 248.26 L292.49 249.54 L292.47 250.82 L292.44 252.1 L292.39 253.39 L292.33 254.67 L292.26 255.95 L292.18 257.23 L292.09 258.51 L292 259.8 L291.89 261.08 L291.79 262.36 L291.68 263.64 L291.57 264.92 L291.46 266.21 L291.36 267.49 L291.26 268.77 L291.2 270.05 L291.2 271.34 L291.2 272.62 L291.2 273.9 L290.8 273.9 L290.8 272.62 L290.8 271.34 L290.8 270.05 L290.74 268.77 L290.64 267.49 L290.54 266.21 L290.43 264.92 L290.32 263.64 L290.21 262.36 L290.11 261.08 L290 259.8 L289.91 258.51 L289.82 257.23 L289.74 255.95 L289.67 254.67 L289.61 253.39 L289.56 252.1 L289.53 250.82 L289.51 249.54 L289.5 248.26 L289.53 246.97 L289.62 245.69 L289.76 244.41 L289.94 243.13 L290.17 241.85 L290.43 240.56 L290.71 239.28 L290.8 238Z" fill="#74B0BF" class="vl"/>
<line x1="291" y1="238.81" x2="291" y2="271.55" class="vw"/>
<rect x="290.5" y="244.7" width="1" height="12.56" fill="#111"/>
<line x1="290" y1="248.3" x2="292" y2="248.3" stroke="#111" stroke-width="0.5"/>
<path d="M296.2 217.5 L296.2 219.62 L296.27 221.74 L296.39 223.85 L296.49 225.97 L296.59 228.09 L296.69 230.21 L296.77 232.32 L296.85 234.44 L296.91 236.56 L296.97 238.68 L297.02 240.8 L297.05 242.91 L297.08 245.03 L297.1 247.15 L297.1 249.27 L297.09 251.39 L297.07 253.5 L297.03 255.62 L296.98 257.74 L296.92 259.86 L296.84 261.98 L296.75 264.09 L296.66 266.21 L296.55 268.33 L296.43 270.45 L296.3 272.56 L296.2 274.68 L296.2 276.8 L295.8 276.8 L295.8 274.68 L295.7 272.56 L295.57 270.45 L295.45 268.33 L295.34 266.21 L295.25 264.09 L295.16 261.98 L295.08 259.86 L295.02 257.74 L294.97 255.62 L294.93 253.5 L294.91 251.39 L294.9 249.27 L294.9 247.15 L294.92 245.03 L294.95 242.91 L294.98 240.8 L295.03 238.68 L295.09 236.56 L295.15 234.44 L295.23 232.32 L295.31 230.21 L295.41 228.09 L295.51 225.97 L295.61 223.85 L295.73 221.74 L295.8 219.62 L295.8 217.5Z" fill="#9A6A60" class="vl"/>
<line x1="296" y1="219.38" x2="296" y2="274.28" class="vw"/>
<rect x="295.3" y="237.97" width="1.4" height="20.76" fill="#111"/>
<line x1="295" y1="249" x2="297" y2="249" stroke="#111" stroke-width="0.5"/>
<path d="M291 219.3V216.9H296V219.3" class="br"/>
<text x="293.5" y="215.7" font-size="4.8" fill="#222" color="#222" text-anchor="middle">ns</text>
<text x="294.8" y="334.3" font-size="4.85" fill="#444" color="#444" text-anchor="end" transform="rotate(-26 294.8 334.3)">CEACAM1</text>
<line x1="305.6" y1="324.4" x2="305.6" y2="326.6" class="tk"/>
<path d="M303.3 210.8 L303.3 213.48 L303.32 216.16 L303.42 218.84 L303.51 221.51 L303.59 224.19 L303.67 226.87 L303.74 229.55 L303.8 232.23 L303.85 234.91 L303.9 237.59 L303.94 240.26 L303.97 242.94 L303.99 245.62 L304 248.3 L304 250.98 L303.99 253.66 L303.97 256.34 L303.94 259.01 L303.9 261.69 L303.84 264.37 L303.78 267.05 L303.71 269.73 L303.63 272.41 L303.54 275.09 L303.45 277.76 L303.34 280.44 L303.3 283.12 L303.3 285.8 L302.9 285.8 L302.9 283.12 L302.86 280.44 L302.75 277.76 L302.66 275.09 L302.57 272.41 L302.49 269.73 L302.42 267.05 L302.36 264.37 L302.3 261.69 L302.26 259.01 L302.23 256.34 L302.21 253.66 L302.2 250.98 L302.2 248.3 L302.21 245.62 L302.23 242.94 L302.26 240.26 L302.3 237.59 L302.35 234.91 L302.4 232.23 L302.46 229.55 L302.53 226.87 L302.61 224.19 L302.69 221.51 L302.78 218.84 L302.88 216.16 L302.9 213.48 L302.9 210.8Z" fill="#5E8F9A" class="vl"/>
<line x1="303.1" y1="213.06" x2="303.1" y2="277.3" class="vw"/>
<rect x="302.4" y="236.28" width="1.4" height="26.25" fill="#111"/>
<line x1="302.1" y1="250" x2="304.1" y2="250" stroke="#111" stroke-width="0.5"/>
<path d="M308.3 213.5 L308.3 217.25 L308.44 221 L308.57 224.75 L308.69 228.5 L308.8 232.25 L308.88 236 L308.94 239.75 L308.98 243.5 L309 247.25 L309 251 L308.99 254.75 L308.98 258.5 L308.96 262.25 L308.94 266 L308.91 269.75 L308.87 273.5 L308.83 277.25 L308.79 281 L308.74 284.75 L308.69 288.5 L308.63 292.25 L308.57 296 L308.5 299.75 L308.43 303.5 L308.36 307.25 L308.3 311 L308.3 314.75 L308.3 318.5 L307.9 318.5 L307.9 314.75 L307.9 311 L307.84 307.25 L307.77 303.5 L307.7 299.75 L307.63 296 L307.57 292.25 L307.51 288.5 L307.46 284.75 L307.41 281 L307.37 277.25 L307.33 273.5 L307.29 269.75 L307.26 266 L307.24 262.25 L307.22 258.5 L307.21 254.75 L307.2 251 L307.2 247.25 L307.22 243.5 L307.26 239.75 L307.32 236 L307.4 232.25 L307.51 228.5 L307.63 224.75 L307.76 221 L307.9 217.25 L307.9 213.5Z" fill="#9A6A60" class="vl"/>
<line x1="308.1" y1="215.53" x2="308.1" y2="275.3" class="vw"/>
<rect x="307.4" y="235.93" width="1.4" height="36.75" fill="#111"/>
<line x1="307.1" y1="248" x2="309.1" y2="248" stroke="#111" stroke-width="0.5"/>
<path d="M303.1 212.9V210.5H308.1V212.9" class="br"/>
<text x="305.6" y="209.3" font-size="4.8" fill="#222" color="#222" text-anchor="middle">ns</text>
<text x="306.9" y="334.3" font-size="4.85" fill="#444" color="#444" text-anchor="end" transform="rotate(-26 306.9 334.3)">SIRPA</text>
<line x1="317.7" y1="324.4" x2="317.7" y2="326.6" class="tk"/>
<path d="M315.4 238 L315.48 239.39 L315.71 240.77 L315.92 242.16 L316.1 243.54 L316.25 244.93 L316.37 246.31 L316.45 247.7 L316.49 249.09 L316.5 250.47 L316.49 251.86 L316.48 253.24 L316.46 254.63 L316.43 256.01 L316.39 257.4 L316.35 258.79 L316.3 260.17 L316.24 261.56 L316.17 262.94 L316.1 264.33 L316.03 265.71 L315.94 267.1 L315.86 268.49 L315.76 269.87 L315.67 271.26 L315.56 272.64 L315.45 274.03 L315.4 275.41 L315.4 276.8 L315 276.8 L315 275.41 L314.95 274.03 L314.84 272.64 L314.73 271.26 L314.64 269.87 L314.54 268.49 L314.46 267.1 L314.37 265.71 L314.3 264.33 L314.23 262.94 L314.16 261.56 L314.1 260.17 L314.05 258.79 L314.01 257.4 L313.97 256.01 L313.94 254.63 L313.92 253.24 L313.91 251.86 L313.9 250.47 L313.91 249.09 L313.95 247.7 L314.03 246.31 L314.15 244.93 L314.3 243.54 L314.48 242.16 L314.69 240.77 L314.92 239.39 L315 238Z" fill="#5E8F9A" class="vl"/>
<line x1="315.2" y1="238.9" x2="315.2" y2="274.36" class="vw"/>
<rect x="314.5" y="245.8" width="1.4" height="13.58" fill="#111"/>
<line x1="314.2" y1="250" x2="316.2" y2="250" stroke="#111" stroke-width="0.5"/>
<path d="M320.4 239.3 L320.44 239.99 L320.68 240.69 L320.92 241.38 L321.14 242.07 L321.36 242.76 L321.56 243.46 L321.75 244.15 L321.92 244.84 L322.07 245.54 L322.2 246.23 L322.31 246.92 L322.4 247.61 L322.46 248.31 L322.49 249 L322.5 249.69 L322.49 250.39 L322.46 251.08 L322.41 251.77 L322.34 252.46 L322.26 253.16 L322.15 253.85 L322.03 254.54 L321.88 255.24 L321.7 255.93 L321.49 256.62 L321.24 257.31 L320.91 258.01 L320.4 258.7 L320 258.7 L319.49 258.01 L319.16 257.31 L318.91 256.62 L318.7 255.93 L318.52 255.24 L318.37 254.54 L318.25 253.85 L318.14 253.16 L318.06 252.46 L317.99 251.77 L317.94 251.08 L317.91 250.39 L317.9 249.69 L317.91 249 L317.94 248.31 L318 247.61 L318.09 246.92 L318.2 246.23 L318.33 245.54 L318.48 244.84 L318.65 244.15 L318.84 243.46 L319.04 242.76 L319.26 242.07 L319.48 241.38 L319.72 240.69 L319.96 239.99 L320 239.3Z" fill="#D99488" class="vl"/>
<line x1="320.2" y1="240.12" x2="320.2" y2="257.67" class="vw"/>
<rect x="319.7" y="246" width="1" height="6.79" fill="#111"/>
<line x1="319.2" y1="249.6" x2="321.2" y2="249.6" stroke="#111" stroke-width="0.5"/>
<path d="M315.2 238.9V236.5H320.2V238.9" class="br"/>
<text x="317.7" y="237.6" font-size="5.2" fill="#222" color="#222" text-anchor="middle">**</text>
<text x="319" y="334.3" font-size="4.85" fill="#444" color="#444" text-anchor="end" transform="rotate(-26 319 334.3)">ADORA2A</text>
<line x1="329.8" y1="324.4" x2="329.8" y2="326.6" class="tk"/>
<path d="M327.5 231.1 L327.5 232.7 L327.65 234.31 L327.79 235.91 L327.93 237.51 L328.05 239.12 L328.16 240.72 L328.25 242.32 L328.33 243.93 L328.4 245.53 L328.45 247.14 L328.48 248.74 L328.5 250.34 L328.5 251.95 L328.49 253.55 L328.46 255.15 L328.43 256.76 L328.39 258.36 L328.33 259.96 L328.27 261.57 L328.19 263.17 L328.11 264.77 L328.02 266.38 L327.92 267.98 L327.82 269.59 L327.7 271.19 L327.58 272.79 L327.5 274.4 L327.5 276 L327.1 276 L327.1 274.4 L327.02 272.79 L326.9 271.19 L326.78 269.59 L326.68 267.98 L326.58 266.38 L326.49 264.77 L326.41 263.17 L326.33 261.57 L326.27 259.96 L326.21 258.36 L326.17 256.76 L326.14 255.15 L326.11 253.55 L326.1 251.95 L326.1 250.34 L326.12 248.74 L326.15 247.14 L326.2 245.53 L326.27 243.93 L326.35 242.32 L326.44 240.72 L326.55 239.12 L326.67 237.51 L326.81 235.91 L326.95 234.31 L327.1 232.7 L327.1 231.1Z" fill="#5E8F9A" class="vl"/>
<line x1="327.3" y1="232.4" x2="327.3" y2="273.7" class="vw"/>
<rect x="326.6" y="244.03" width="1.4" height="15.72" fill="#111"/>
<line x1="326.3" y1="251" x2="328.3" y2="251" stroke="#111" stroke-width="0.5"/>
<path d="M332.5 221.9 L332.5 223.12 L332.6 224.34 L332.72 225.56 L332.84 226.79 L332.95 228.01 L333.05 229.23 L333.14 230.45 L333.23 231.67 L333.3 232.89 L333.36 234.11 L333.41 235.34 L333.45 236.56 L333.48 237.78 L333.5 239 L333.5 240.22 L333.49 241.44 L333.46 242.66 L333.42 243.89 L333.37 245.11 L333.3 246.33 L333.22 247.55 L333.12 248.77 L333.01 249.99 L332.9 251.21 L332.77 252.44 L332.63 253.66 L332.5 254.88 L332.5 256.1 L332.1 256.1 L332.1 254.88 L331.97 253.66 L331.83 252.44 L331.7 251.21 L331.59 249.99 L331.48 248.77 L331.38 247.55 L331.3 246.33 L331.23 245.11 L331.18 243.89 L331.14 242.66 L331.11 241.44 L331.1 240.22 L331.1 239 L331.12 237.78 L331.15 236.56 L331.19 235.34 L331.24 234.11 L331.3 232.89 L331.37 231.67 L331.46 230.45 L331.55 229.23 L331.65 228.01 L331.76 226.79 L331.88 225.56 L332 224.34 L332.1 223.12 L332.1 221.9Z" fill="#9A6A60" class="vl"/>
<line x1="332.3" y1="223.11" x2="332.3" y2="254.51" class="vw"/>
<rect x="331.6" y="233.66" width="1.4" height="11.97" fill="#111"/>
<line x1="331.3" y1="240" x2="333.3" y2="240" stroke="#111" stroke-width="0.5"/>
<path d="M327.3 220.8V218.4H332.3V220.8" class="br"/>
<text x="329.8" y="219.5" font-size="5.2" fill="#222" color="#222" text-anchor="middle">**</text>
<text x="331.1" y="334.3" font-size="4.85" fill="#444" color="#444" text-anchor="end" transform="rotate(-26 331.1 334.3)">CD40L</text>
<line x1="341.9" y1="324.4" x2="341.9" y2="326.6" class="tk"/>
<path d="M339.6 240.6 L339.89 241.29 L340.11 241.99 L340.28 242.68 L340.43 243.37 L340.55 244.06 L340.65 244.76 L340.74 245.45 L340.81 246.14 L340.88 246.84 L340.92 247.53 L340.96 248.22 L340.99 248.91 L341 249.61 L341 250.3 L340.99 250.99 L340.97 251.69 L340.94 252.38 L340.9 253.07 L340.84 253.76 L340.78 254.46 L340.7 255.15 L340.62 255.84 L340.51 256.54 L340.4 257.23 L340.26 257.92 L340.09 258.61 L339.87 259.31 L339.6 260 L339.2 260 L338.93 259.31 L338.71 258.61 L338.54 257.92 L338.4 257.23 L338.29 256.54 L338.18 255.84 L338.1 255.15 L338.02 254.46 L337.96 253.76 L337.9 253.07 L337.86 252.38 L337.83 251.69 L337.81 250.99 L337.8 250.3 L337.8 249.61 L337.81 248.91 L337.84 248.22 L337.88 247.53 L337.92 246.84 L337.99 246.14 L338.06 245.45 L338.15 244.76 L338.25 244.06 L338.37 243.37 L338.52 242.68 L338.69 241.99 L338.91 241.29 L339.2 240.6Z" fill="#74B0BF" class="vl"/>
<line x1="339.4" y1="241.37" x2="339.4" y2="258.9" class="vw"/>
<rect x="338.9" y="246.71" width="1" height="6.79" fill="#111"/>
<line x1="338.4" y1="250" x2="340.4" y2="250" stroke="#111" stroke-width="0.5"/>
<path d="M344.6 240.6 L344.6 241.34 L344.75 242.08 L344.93 242.82 L345.09 243.56 L345.25 244.3 L345.39 245.04 L345.53 245.78 L345.65 246.51 L345.75 247.25 L345.84 247.99 L345.91 248.73 L345.96 249.47 L345.99 250.21 L346 250.95 L345.99 251.69 L345.96 252.43 L345.91 253.17 L345.85 253.91 L345.76 254.65 L345.66 255.39 L345.54 256.12 L345.4 256.86 L345.25 257.6 L345.1 258.34 L344.93 259.08 L344.76 259.82 L344.6 260.56 L344.6 261.3 L344.2 261.3 L344.2 260.56 L344.04 259.82 L343.87 259.08 L343.7 258.34 L343.55 257.6 L343.4 256.86 L343.26 256.12 L343.14 255.39 L343.04 254.65 L342.95 253.91 L342.89 253.17 L342.84 252.43 L342.81 251.69 L342.8 250.95 L342.81 250.21 L342.84 249.47 L342.89 248.73 L342.96 247.99 L343.05 247.25 L343.15 246.51 L343.27 245.78 L343.41 245.04 L343.55 244.3 L343.71 243.56 L343.87 242.82 L344.05 242.08 L344.2 241.34 L344.2 240.6Z" fill="#BC7F74" class="vl"/>
<line x1="344.4" y1="241.42" x2="344.4" y2="260.18" class="vw"/>
<rect x="343.9" y="247.36" width="1" height="7.25" fill="#111"/>
<line x1="343.4" y1="251" x2="345.4" y2="251" stroke="#111" stroke-width="0.5"/>
<path d="M339.4 239.8V237.4H344.4V239.8" class="br"/>
<text x="341.9" y="236.2" font-size="4.8" fill="#222" color="#222" text-anchor="middle">ns</text>
<text x="343.2" y="334.3" font-size="4.85" fill="#444" color="#444" text-anchor="end" transform="rotate(-26 343.2 334.3)">PDCD1</text>
<rect x="351.4" y="245.3" width="4.9" height="5.5" fill="#8FD3E5" stroke="#444" stroke-width="0.9"/>
<text x="359.2" y="249.7" font-size="4.7" fill="#1A1A1A" color="#1A1A1A" text-anchor="start">PD</text>
<rect x="351.4" y="251.2" width="4.9" height="5.5" fill="#F2A398" stroke="#444" stroke-width="0.9"/>
<text x="359.2" y="255.6" font-size="4.7" fill="#1A1A1A" color="#1A1A1A" text-anchor="start">HC</text>
</g>
<g id="pD">
<rect x="425.7" y="207.5" width="10.78" height="5.14" fill="#E64B35" class="dc"/>
<rect x="436.48" y="207.5" width="10.78" height="5.14" fill="#F7866E" class="dc"/>
<rect x="447.26" y="207.5" width="10.78" height="5.14" fill="#CDE9F2" class="dc"/>
<rect x="458.04" y="207.5" width="10.78" height="5.14" fill="#EBF6FA" class="dc"/>
<rect x="468.82" y="207.5" width="10.78" height="5.14" fill="#FC9D87" class="dc"/>
<rect x="479.6" y="207.5" width="10.78" height="5.14" fill="#FFEAE5" class="dc"/>
<rect x="490.38" y="207.5" width="10.78" height="5.14" fill="#FFEAE5" class="dc"/>
<rect x="501.16" y="207.5" width="10.78" height="5.14" fill="#FC9D87" class="dc"/>
<rect x="511.94" y="207.5" width="10.78" height="5.14" fill="#F7866E" class="dc"/>
<rect x="522.72" y="207.5" width="10.78" height="5.14" fill="#FC9D87" class="dc"/>
<rect x="533.5" y="207.5" width="10.78" height="5.14" fill="#FC9D87" class="dc"/>
<rect x="544.28" y="207.5" width="10.78" height="5.14" fill="#FC9D87" class="dc"/>
<rect x="555.06" y="207.5" width="10.78" height="5.14" fill="#FFD4C9" class="dc"/>
<rect x="565.84" y="207.5" width="10.78" height="5.14" fill="#FFB8A8" class="dc"/>
<rect x="576.62" y="207.5" width="10.78" height="5.14" fill="#FFD4C9" class="dc"/>
<rect x="587.4" y="207.5" width="10.78" height="5.14" fill="#B0DDEA" class="dc"/>
<rect x="598.18" y="207.5" width="10.78" height="5.14" fill="#FC9D87" class="dc"/>
<rect x="608.96" y="207.5" width="10.78" height="5.14" fill="#FC9D87" class="dc"/>
<rect x="619.74" y="207.5" width="10.78" height="5.14" fill="#EBF6FA" class="dc"/>
<rect x="630.52" y="207.5" width="10.78" height="5.14" fill="#FC9D87" class="dc"/>
<rect x="641.3" y="207.5" width="10.78" height="5.14" fill="#FFEAE5" class="dc"/>
<rect x="652.08" y="207.5" width="10.78" height="5.14" fill="#CDE9F2" class="dc"/>
<rect x="662.86" y="207.5" width="10.78" height="5.14" fill="#CDE9F2" class="dc"/>
<rect x="673.64" y="207.5" width="10.78" height="5.14" fill="#FFD4C9" class="dc"/>
<rect x="684.42" y="207.5" width="10.78" height="5.14" fill="#FC9D87" class="dc"/>
<rect x="695.2" y="207.5" width="10.78" height="5.14" fill="#FC9D87" class="dc"/>
<rect x="705.98" y="207.5" width="10.78" height="5.14" fill="#EBF6FA" class="dc"/>
<rect x="425.7" y="212.65" width="10.78" height="5.14" fill="#F7866E" class="dc"/>
<rect x="436.48" y="212.65" width="10.78" height="5.14" fill="#E64B35" class="dc"/>
<rect x="447.26" y="212.65" width="10.78" height="5.14" fill="#CDE9F2" class="dc"/>
<rect x="458.04" y="212.65" width="10.78" height="5.14" fill="#CDE9F2" class="dc"/>
<rect x="468.82" y="212.65" width="10.78" height="5.14" fill="#FC9D87" class="dc"/>
<rect x="479.6" y="212.65" width="10.78" height="5.14" fill="#FFD4C9" class="dc"/>
<rect x="490.38" y="212.65" width="10.78" height="5.14" fill="#EBF6FA" class="dc"/>
<rect x="501.16" y="212.65" width="10.78" height="5.14" fill="#FC9D87" class="dc"/>
<rect x="511.94" y="212.65" width="10.78" height="5.14" fill="#F7866E" class="dc"/>
<rect x="522.72" y="212.65" width="10.78" height="5.14" fill="#FFD4C9" class="dc"/>
<rect x="533.5" y="212.65" width="10.78" height="5.14" fill="#FC9D87" class="dc"/>
<rect x="544.28" y="212.65" width="10.78" height="5.14" fill="#FC9D87" class="dc"/>
<rect x="555.06" y="212.65" width="10.78" height="5.14" fill="#FFEAE5" class="dc"/>
<rect x="565.84" y="212.65" width="10.78" height="5.14" fill="#FFD4C9" class="dc"/>
<rect x="576.62" y="212.65" width="10.78" height="5.14" fill="#FFB8A8" class="dc"/>
<rect x="587.4" y="212.65" width="10.78" height="5.14" fill="#B0DDEA" class="dc"/>
<rect x="598.18" y="212.65" width="10.78" height="5.14" fill="#FC9D87" class="dc"/>
<rect x="608.96" y="212.65" width="10.78" height="5.14" fill="#FFD4C9" class="dc"/>
<rect x="619.74" y="212.65" width="10.78" height="5.14" fill="#CDE9F2" class="dc"/>
<rect x="630.52" y="212.65" width="10.78" height="5.14" fill="#FC9D87" class="dc"/>
<rect x="641.3" y="212.65" width="10.78" height="5.14" fill="#EBF6FA" class="dc"/>
<rect x="652.08" y="212.65" width="10.78" height="5.14" fill="#B0DDEA" class="dc"/>
<rect x="662.86" y="212.65" width="10.78" height="5.14" fill="#FFFFFF" class="dc"/>
<rect x="673.64" y="212.65" width="10.78" height="5.14" fill="#FC9D87" class="dc"/>
<rect x="684.42" y="212.65" width="10.78" height="5.14" fill="#FC9D87" class="dc"/>
<rect x="695.2" y="212.65" width="10.78" height="5.14" fill="#FC9D87" class="dc"/>
<rect x="705.98" y="212.65" width="10.78" height="5.14" fill="#CDE9F2" class="dc"/>
<rect x="425.7" y="217.79" width="10.78" height="5.14" fill="#CDE9F2" class="dc"/>
<rect x="436.48" y="217.79" width="10.78" height="5.14" fill="#CDE9F2" class="dc"/>
<rect x="447.26" y="217.79" width="10.78" height="5.14" fill="#E64B35" class="dc"/>
<rect x="458.04" y="217.79" width="10.78" height="5.14" fill="#FFB8A8" class="dc"/>
<rect x="468.82" y="217.79" width="10.78" height="5.14" fill="#FFFFFF" class="dc"/>
<rect x="479.6" y="217.79" width="10.78" height="5.14" fill="#CDE9F2" class="dc"/>
<rect x="490.38" y="217.79" width="10.78" height="5.14" fill="#FFD4C9" class="dc"/>
<rect x="501.16" y="217.79" width="10.78" height="5.14" fill="#CDE9F2" class="dc"/>
<rect x="511.94" y="217.79" width="10.78" height="5.14" fill="#B0DDEA" class="dc"/>
<rect x="522.72" y="217.79" width="10.78" height="5.14" fill="#CDE9F2" class="dc"/>
<rect x="533.5" y="217.79" width="10.78" height="5.14" fill="#CDE9F2" class="dc"/>
<rect x="544.28" y="217.79" width="10.78" height="5.14" fill="#B0DDEA" class="dc"/>
<rect x="555.06" y="217.79" width="10.78" height="5.14" fill="#FFEAE5" class="dc"/>
<rect x="565.84" y="217.79" width="10.78" height="5.14" fill="#CDE9F2" class="dc"/>
<rect x="576.62" y="217.79" width="10.78" height="5.14" fill="#CDE9F2" class="dc"/>
<rect x="587.4" y="217.79" width="10.78" height="5.14" fill="#FFD4C9" class="dc"/>
<rect x="598.18" y="217.79" width="10.78" height="5.14" fill="#FFFFFF" class="dc"/>
<rect x="608.96" y="217.79" width="10.78" height="5.14" fill="#CDE9F2" class="dc"/>
<rect x="619.74" y="217.79" width="10.78" height="5.14" fill="#FFB8A8" class="dc"/>
<rect x="630.52" y="217.79" width="10.78" height="5.14" fill="#B0DDEA" class="dc"/>
<rect x="641.3" y="217.79" width="10.78" height="5.14" fill="#FFB8A8" class="dc"/>
<rect x="652.08" y="217.79" width="10.78" height="5.14" fill="#FFB8A8" class="dc"/>
<rect x="662.86" y="217.79" width="10.78" height="5.14" fill="#FFD4C9" class="dc"/>
<rect x="673.64" y="217.79" width="10.78" height="5.14" fill="#B0DDEA" class="dc"/>
<rect x="684.42" y="217.79" width="10.78" height="5.14" fill="#CDE9F2" class="dc"/>
<rect x="695.2" y="217.79" width="10.78" height="5.14" fill="#B0DDEA" class="dc"/>
<rect x="705.98" y="217.79" width="10.78" height="5.14" fill="#FFB8A8" class="dc"/>
<rect x="425.7" y="222.94" width="10.78" height="5.14" fill="#EBF6FA" class="dc"/>
<rect x="436.48" y="222.94" width="10.78" height="5.14" fill="#CDE9F2" class="dc"/>
<rect x="447.26" y="222.94" width="10.78" height="5.14" fill="#FFB8A8" class="dc"/>
<rect x="458.04" y="222.94" width="10.78" height="5.14" fill="#E64B35" class="dc"/>
<rect x="468.82" y="222.94" width="10.78" height="5.14" fill="#FFFFFF" class="dc"/>
<rect x="479.6" y="222.94" width="10.78" height="5.14" fill="#CDE9F2" class="dc"/>
<rect x="490.38" y="222.94" width="10.78" height="5.14" fill="#FFD4C9" class="dc"/>
<rect x="501.16" y="222.94" width="10.78" height="5.14" fill="#EBF6FA" class="dc"/>
<rect x="511.94" y="222.94" width="10.78" height="5.14" fill="#CDE9F2" class="dc"/>
<rect x="522.72" y="222.94" width="10.78" height="5.14" fill="#EBF6FA" class="dc"/>
<rect x="533.5" y="222.94" width="10.78" height="5.14" fill="#CDE9F2" class="dc"/>
<rect x="544.28" y="222.94" width="10.78" height="5.14" fill="#B0DDEA" class="dc"/>
<rect x="555.06" y="222.94" width="10.78" height="5.14" fill="#FFFFFF" class="dc"/>
<rect x="565.84" y="222.94" width="10.78" height="5.14" fill="#EBF6FA" class="dc"/>
<rect x="576.62" y="222.94" width="10.78" height="5.14" fill="#CDE9F2" class="dc"/>
<rect x="587.4" y="222.94" width="10.78" height="5.14" fill="#FFB8A8" class="dc"/>
<rect x="598.18" y="222.94" width="10.78" height="5.14" fill="#EBF6FA" class="dc"/>
<rect x="608.96" y="222.94" width="10.78" height="5.14" fill="#FFFFFF" class="dc"/>
<rect x="619.74" y="222.94" width="10.78" height="5.14" fill="#FC9D87" class="dc"/>
<rect x="630.52" y="222.94" width="10.78" height="5.14" fill="#CDE9F2" class="dc"/>
<rect x="641.3" y="222.94" width="10.78" height="5.14" fill="#FFB8A8" class="dc"/>
<rect x="652.08" y="222.94" width="10.78" height="5.14" fill="#FFD4C9" class="dc"/>
<rect x="662.86" y="222.94" width="10.78" height="5.14" fill="#FFFFFF" class="dc"/>
<rect x="673.64" y="222.94" width="10.78" height="5.14" fill="#CDE9F2" class="dc"/>
<rect x="684.42" y="222.94" width="10.78" height="5.14" fill="#CDE9F2" class="dc"/>
<rect x="695.2" y="222.94" width="10.78" height="5.14" fill="#CDE9F2" class="dc"/>
<rect x="705.98" y="222.94" width="10.78" height="5.14" fill="#FFD4C9" class="dc"/>
<rect x="425.7" y="228.08" width="10.78" height="5.14" fill="#FC9D87" class="dc"/>
<rect x="436.48" y="228.08" width="10.78" height="5.14" fill="#FC9D87" class="dc"/>
<rect x="447.26" y="228.08" width="10.78" height="5.14" fill="#FFFFFF" class="dc"/>
<rect x="458.04" y="228.08" width="10.78" height="5.14" fill="#FFFFFF" class="dc"/>
<rect x="468.82" y="228.08" width="10.78" height="5.14" fill="#E64B35" class="dc"/>
<rect x="479.6" y="228.08" width="10.78" height="5.14" fill="#FFEAE5" class="dc"/>
<rect x="490.38" y="228.08" width="10.78" height="5.14" fill="#EBF6FA" class="dc"/>
<rect x="501.16" y="228.08" width="10.78" height="5.14" fill="#FFD4C9" class="dc"/>
<rect x="511.94" y="228.08" width="10.78" height="5.14" fill="#FC9D87" class="dc"/>
<rect x="522.72" y="228.08" width="10.78" height="5.14" fill="#FFB8A8" class="dc"/>
<rect x="533.5" y="228.08" width="10.78" height="5.14" fill="#FFB8A8" class="dc"/>
<rect x="544.28" y="228.08" width="10.78" height="5.14" fill="#FFD4C9" class="dc"/>
<rect x="555.06" y="228.08" width="10.78" height="5.14" fill="#FFD4C9" class="dc"/>
<rect x="565.84" y="228.08" width="10.78" height="5.14" fill="#FFD4C9" class="dc"/>
<rect x="576.62" y="228.08" width="10.78" height="5.14" fill="#FFD4C9" class="dc"/>
<rect x="587.4" y="228.08" width="10.78" height="5.14" fill="#CDE9F2" class="dc"/>
<rect x="598.18" y="228.08" width="10.78" height="5.14" fill="#FFB8A8" class="dc"/>
<rect x="608.96" y="228.08" width="10.78" height="5.14" fill="#FFB8A8" class="dc"/>
<rect x="619.74" y="228.08" width="10.78" height="5.14" fill="#FFEAE5" class="dc"/>
<rect x="630.52" y="228.08" width="10.78" height="5.14" fill="#FFD4C9" class="dc"/>
<rect x="641.3" y="228.08" width="10.78" height="5.14" fill="#FFD4C9" class="dc"/>
<rect x="652.08" y="228.08" width="10.78" height="5.14" fill="#FFFFFF" class="dc"/>
<rect x="662.86" y="228.08" width="10.78" height="5.14" fill="#EBF6FA" class="dc"/>
<rect x="673.64" y="228.08" width="10.78" height="5.14" fill="#FFFFFF" class="dc"/>
<rect x="684.42" y="228.08" width="10.78" height="5.14" fill="#FFB8A8" class="dc"/>
<rect x="695.2" y="228.08" width="10.78" height="5.14" fill="#FFB8A8" class="dc"/>
<rect x="705.98" y="228.08" width="10.78" height="5.14" fill="#FFFFFF" class="dc"/>
<rect x="425.7" y="233.22" width="10.78" height="5.14" fill="#FFEAE5" class="dc"/>
<rect x="436.48" y="233.22" width="10.78" height="5.14" fill="#FFD4C9" class="dc"/>
<rect x="447.26" y="233.22" width="10.78" height="5.14" fill="#CDE9F2" class="dc"/>
<rect x="458.04" y="233.22" width="10.78" height="5.14" fill="#CDE9F2" class="dc"/>
<rect x="468.82" y="233.22" width="10.78" height="5.14" fill="#FFEAE5" class="dc"/>
<rect x="479.6" y="233.22" width="10.78" height="5.14" fill="#E64B35" class="dc"/>
<rect x="490.38" y="233.22" width="10.78" height="5.14" fill="#EBF6FA" class="dc"/>
<rect x="501.16" y="233.22" width="10.78" height="5.14" fill="#FFFFFF" class="dc"/>
<rect x="511.94" y="233.22" width="10.78" height="5.14" fill="#FFD4C9" class="dc"/>
<rect x="522.72" y="233.22" width="10.78" height="5.14" fill="#FFEAE5" class="dc"/>
<rect x="533.5" y="233.22" width="10.78" height="5.14" fill="#FFD4C9" class="dc"/>
<rect x="544.28" y="233.22" width="10.78" height="5.14" fill="#FFD4C9" class="dc"/>
<rect x="555.06" y="233.22" width="10.78" height="5.14" fill="#CDE9F2" class="dc"/>
<rect x="565.84" y="233.22" width="10.78" height="5.14" fill="#FFD4C9" class="dc"/>
<rect x="576.62" y="233.22" width="10.78" height="5.14" fill="#FFB8A8" class="dc"/>
<rect x="587.4" y="233.22" width="10.78" height="5.14" fill="#FFFFFF" class="dc"/>
<rect x="598.18" y="233.22" width="10.78" height="5.14" fill="#FFEAE5" class="dc"/>
<rect x="608.96" y="233.22" width="10.78" height="5.14" fill="#FFEAE5" class="dc"/>
<rect x="619.74" y="233.22" width="10.78" height="5.14" fill="#CDE9F2" class="dc"/>
<rect x="630.52" y="233.22" width="10.78" height="5.14" fill="#FFEAE5" class="dc"/>
<rect x="641.3" y="233.22" width="10.78" height="5.14" fill="#CDE9F2" class="dc"/>
<rect x="652.08" y="233.22" width="10.78" height="5.14" fill="#CDE9F2" class="dc"/>
<rect x="662.86" y="233.22" width="10.78" height="5.14" fill="#FFD4C9" class="dc"/>
<rect x="673.64" y="233.22" width="10.78" height="5.14" fill="#FFB8A8" class="dc"/>
<rect x="684.42" y="233.22" width="10.78" height="5.14" fill="#FFD4C9" class="dc"/>
<rect x="695.2" y="233.22" width="10.78" height="5.14" fill="#FFB8A8" class="dc"/>
<rect x="705.98" y="233.22" width="10.78" height="5.14" fill="#FFFFFF" class="dc"/>
<rect x="425.7" y="238.37" width="10.78" height="5.14" fill="#FFEAE5" class="dc"/>
<rect x="436.48" y="238.37" width="10.78" height="5.14" fill="#EBF6FA" class="dc"/>
<rect x="447.26" y="238.37" width="10.78" height="5.14" fill="#FFD4C9" class="dc"/>
<rect x="458.04" y="238.37" width="10.78" height="5.14" fill="#FFD4C9" class="dc"/>
<rect x="468.82" y="238.37" width="10.78" height="5.14" fill="#EBF6FA" class="dc"/>
<rect x="479.6" y="238.37" width="10.78" height="5.14" fill="#EBF6FA" class="dc"/>
<rect x="490.38" y="238.37" width="10.78" height="5.14" fill="#E64B35" class="dc"/>
<rect x="501.16" y="238.37" width="10.78" height="5.14" fill="#FFD4C9" class="dc"/>
<rect x="511.94" y="238.37" width="10.78" height="5.14" fill="#FFFFFF" class="dc"/>
<rect x="522.72" y="238.37" width="10.78" height="5.14" fill="#FFFFFF" class="dc"/>
<rect x="533.5" y="238.37" width="10.78" height="5.14" fill="#FFFFFF" class="dc"/>
<rect x="544.28" y="238.37" width="10.78" height="5.14" fill="#FFFFFF" class="dc"/>
<rect x="555.06" y="238.37" width="10.78" height="5.14" fill="#FFD4C9" class="dc"/>
<rect x="565.84" y="238.37" width="10.78" height="5.14" fill="#FFD4C9" class="dc"/>
<rect x="576.62" y="238.37" width="10.78" height="5.14" fill="#FFEAE5" class="dc"/>
<rect x="587.4" y="238.37" width="10.78" height="5.14" fill="#FFFFFF" class="dc"/>
<rect x="598.18" y="238.37" width="10.78" height="5.14" fill="#FFD4C9" class="dc"/>
<rect x="608.96" y="238.37" width="10.78" height="5.14" fill="#FFFFFF" class="dc"/>
<rect x="619.74" y="238.37" width="10.78" height="5.14" fill="#FFD4C9" class="dc"/>
<rect x="630.52" y="238.37" width="10.78" height="5.14" fill="#FFFFFF" class="dc"/>
<rect x="641.3" y="238.37" width="10.78" height="5.14" fill="#FFFFFF" class="dc"/>
<rect x="652.08" y="238.37" width="10.78" height="5.14" fill="#FFD4C9" class="dc"/>
<rect x="662.86" y="238.37" width="10.78" height="5.14" fill="#CDE9F2" class="dc"/>
<rect x="673.64" y="238.37" width="10.78" height="5.14" fill="#CDE9F2" class="dc"/>
<rect x="684.42" y="238.37" width="10.78" height="5.14" fill="#CDE9F2" class="dc"/>
<rect x="695.2" y="238.37" width="10.78" height="5.14" fill="#FFFFFF" class="dc"/>
<rect x="705.98" y="238.37" width="10.78" height="5.14" fill="#FFFFFF" class="dc"/>
<rect x="425.7" y="243.51" width="10.78" height="5.14" fill="#FC9D87" class="dc"/>
<rect x="436.48" y="243.51" width="10.78" height="5.14" fill="#FC9D87" class="dc"/>
<rect x="447.26" y="243.51" width="10.78" height="5.14" fill="#CDE9F2" class="dc"/>
<rect x="458.04" y="243.51" width="10.78" height="5.14" fill="#EBF6FA" class="dc"/>
<rect x="468.82" y="243.51" width="10.78" height="5.14" fill="#FFD4C9" class="dc"/>
<rect x="479.6" y="243.51" width="10.78" height="5.14" fill="#FFFFFF" class="dc"/>
<rect x="490.38" y="243.51" width="10.78" height="5.14" fill="#FFD4C9" class="dc"/>
<rect x="501.16" y="243.51" width="10.78" height="5.14" fill="#E64B35" class="dc"/>
<rect x="511.94" y="243.51" width="10.78" height="5.14" fill="#FC9D87" class="dc"/>
<rect x="522.72" y="243.51" width="10.78" height="5.14" fill="#FC9D87" class="dc"/>
<rect x="533.5" y="243.51" width="10.78" height="5.14" fill="#FC9D87" class="dc"/>
<rect x="544.28" y="243.51" width="10.78" height="5.14" fill="#FFB8A8" class="dc"/>
<rect x="555.06" y="243.51" width="10.78" height="5.14" fill="#FFB8A8" class="dc"/>
<rect x="565.84" y="243.51" width="10.78" height="5.14" fill="#FFD4C9" class="dc"/>
<rect x="576.62" y="243.51" width="10.78" height="5.14" fill="#FC9D87" class="dc"/>
<rect x="587.4" y="243.51" width="10.78" height="5.14" fill="#B0DDEA" class="dc"/>
<rect x="598.18" y="243.51" width="10.78" height="5.14" fill="#FFB8A8" class="dc"/>
<rect x="608.96" y="243.51" width="10.78" height="5.14" fill="#FFFFFF" class="dc"/>
<rect x="619.74" y="243.51" width="10.78" height="5.14" fill="#EBF6FA" class="dc"/>
<rect x="630.52" y="243.51" width="10.78" height="5.14" fill="#FC9D87" class="dc"/>
<rect x="641.3" y="243.51" width="10.78" height="5.14" fill="#CDE9F2" class="dc"/>
<rect x="652.08" y="243.51" width="10.78" height="5.14" fill="#CDE9F2" class="dc"/>
<rect x="662.86" y="243.51" width="10.78" height="5.14" fill="#EBF6FA" class="dc"/>
<rect x="673.64" y="243.51" width="10.78" height="5.14" fill="#FFB8A8" class="dc"/>
<rect x="684.42" y="243.51" width="10.78" height="5.14" fill="#FFD4C9" class="dc"/>
<rect x="695.2" y="243.51" width="10.78" height="5.14" fill="#FC9D87" class="dc"/>
<rect x="705.98" y="243.51" width="10.78" height="5.14" fill="#CDE9F2" class="dc"/>
<rect x="425.7" y="248.66" width="10.78" height="5.14" fill="#F7866E" class="dc"/>
<rect x="436.48" y="248.66" width="10.78" height="5.14" fill="#F7866E" class="dc"/>
<rect x="447.26" y="248.66" width="10.78" height="5.14" fill="#B0DDEA" class="dc"/>
<rect x="458.04" y="248.66" width="10.78" height="5.14" fill="#CDE9F2" class="dc"/>
<rect x="468.82" y="248.66" width="10.78" height="5.14" fill="#FC9D87" class="dc"/>
<rect x="479.6" y="248.66" width="10.78" height="5.14" fill="#FFD4C9" class="dc"/>
<rect x="490.38" y="248.66" width="10.78" height="5.14" fill="#FFFFFF" class="dc"/>
<rect x="501.16" y="248.66" width="10.78" height="5.14" fill="#FC9D87" class="dc"/>
<rect x="511.94" y="248.66" width="10.78" height="5.14" fill="#E64B35" class="dc"/>
<rect x="522.72" y="248.66" width="10.78" height="5.14" fill="#F7866E" class="dc"/>
<rect x="533.5" y="248.66" width="10.78" height="5.14" fill="#F7866E" class="dc"/>
<rect x="544.28" y="248.66" width="10.78" height="5.14" fill="#FC9D87" class="dc"/>
<rect x="555.06" y="248.66" width="10.78" height="5.14" fill="#FFD4C9" class="dc"/>
<rect x="565.84" y="248.66" width="10.78" height="5.14" fill="#FC9D87" class="dc"/>
<rect x="576.62" y="248.66" width="10.78" height="5.14" fill="#FFB8A8" class="dc"/>
<rect x="587.4" y="248.66" width="10.78" height="5.14" fill="#B0DDEA" class="dc"/>
<rect x="598.18" y="248.66" width="10.78" height="5.14" fill="#FFB8A8" class="dc"/>
<rect x="608.96" y="248.66" width="10.78" height="5.14" fill="#FFB8A8" class="dc"/>
<rect x="619.74" y="248.66" width="10.78" height="5.14" fill="#CDE9F2" class="dc"/>
<rect x="630.52" y="248.66" width="10.78" height="5.14" fill="#FC9D87" class="dc"/>
<rect x="641.3" y="248.66" width="10.78" height="5.14" fill="#EBF6FA" class="dc"/>
<rect x="652.08" y="248.66" width="10.78" height="5.14" fill="#CDE9F2" class="dc"/>
<rect x="662.86" y="248.66" width="10.78" height="5.14" fill="#CDE9F2" class="dc"/>
<rect x="673.64" y="248.66" width="10.78" height="5.14" fill="#FFB8A8" class="dc"/>
<rect x="684.42" y="248.66" width="10.78" height="5.14" fill="#FC9D87" class="dc"/>
<rect x="695.2" y="248.66" width="10.78" height="5.14" fill="#F7866E" class="dc"/>
<rect x="705.98" y="248.66" width="10.78" height="5.14" fill="#CDE9F2" class="dc"/>
<rect x="425.7" y="253.81" width="10.78" height="5.14" fill="#FC9D87" class="dc"/>
<rect x="436.48" y="253.81" width="10.78" height="5.14" fill="#FFD4C9" class="dc"/>
<rect x="447.26" y="253.81" width="10.78" height="5.14" fill="#CDE9F2" class="dc"/>
<rect x="458.04" y="253.81" width="10.78" height="5.14" fill="#EBF6FA" class="dc"/>
<rect x="468.82" y="253.81" width="10.78" height="5.14" fill="#FFB8A8" class="dc"/>
<rect x="479.6" y="253.81" width="10.78" height="5.14" fill="#FFEAE5" class="dc"/>
<rect x="490.38" y="253.81" width="10.78" height="5.14" fill="#FFFFFF" class="dc"/>
<rect x="501.16" y="253.81" width="10.78" height="5.14" fill="#FC9D87" class="dc"/>
<rect x="511.94" y="253.81" width="10.78" height="5.14" fill="#F7866E" class="dc"/>
<rect x="522.72" y="253.81" width="10.78" height="5.14" fill="#E64B35" class="dc"/>
<rect x="533.5" y="253.81" width="10.78" height="5.14" fill="#FC9D87" class="dc"/>
<rect x="544.28" y="253.81" width="10.78" height="5.14" fill="#FC9D87" class="dc"/>
<rect x="555.06" y="253.81" width="10.78" height="5.14" fill="#FFB8A8" class="dc"/>
<rect x="565.84" y="253.81" width="10.78" height="5.14" fill="#FC9D87" class="dc"/>
<rect x="576.62" y="253.81" width="10.78" height="5.14" fill="#FC9D87" class="dc"/>
<rect x="587.4" y="253.81" width="10.78" height="5.14" fill="#B0DDEA" class="dc"/>
<rect x="598.18" y="253.81" width="10.78" height="5.14" fill="#FFD4C9" class="dc"/>
<rect x="608.96" y="253.81" width="10.78" height="5.14" fill="#FFD4C9" class="dc"/>
<rect x="619.74" y="253.81" width="10.78" height="5.14" fill="#EBF6FA" class="dc"/>
<rect x="630.52" y="253.81" width="10.78" height="5.14" fill="#FC9D87" class="dc"/>
<rect x="641.3" y="253.81" width="10.78" height="5.14" fill="#FFEAE5" class="dc"/>
<rect x="652.08" y="253.81" width="10.78" height="5.14" fill="#EBF6FA" class="dc"/>
<rect x="662.86" y="253.81" width="10.78" height="5.14" fill="#CDE9F2" class="dc"/>
<rect x="673.64" y="253.81" width="10.78" height="5.14" fill="#FFD4C9" class="dc"/>
<rect x="684.42" y="253.81" width="10.78" height="5.14" fill="#FFEAE5" class="dc"/>
<rect x="695.2" y="253.81" width="10.78" height="5.14" fill="#FC9D87" class="dc"/>
<rect x="705.98" y="253.81" width="10.78" height="5.14" fill="#EBF6FA" class="dc"/>
<rect x="425.7" y="258.95" width="10.78" height="5.14" fill="#FC9D87" class="dc"/>
<rect x="436.48" y="258.95" width="10.78" height="5.14" fill="#FC9D87" class="dc"/>
<rect x="447.26" y="258.95" width="10.78" height="5.14" fill="#CDE9F2" class="dc"/>
<rect x="458.04" y="258.95" width="10.78" height="5.14" fill="#CDE9F2" class="dc"/>
<rect x="468.82" y="258.95" width="10.78" height="5.14" fill="#FFB8A8" class="dc"/>
<rect x="479.6" y="258.95" width="10.78" height="5.14" fill="#FFD4C9" class="dc"/>
<rect x="490.38" y="258.95" width="10.78" height="5.14" fill="#FFFFFF" class="dc"/>
<rect x="501.16" y="258.95" width="10.78" height="5.14" fill="#FC9D87" class="dc"/>
<rect x="511.94" y="258.95" width="10.78" height="5.14" fill="#F7866E" class="dc"/>
<rect x="522.72" y="258.95" width="10.78" height="5.14" fill="#FC9D87" class="dc"/>
<rect x="533.5" y="258.95" width="10.78" height="5.14" fill="#E64B35" class="dc"/>
<rect x="544.28" y="258.95" width="10.78" height="5.14" fill="#FC9D87" class="dc"/>
<rect x="555.06" y="258.95" width="10.78" height="5.14" fill="#FFEAE5" class="dc"/>
<rect x="565.84" y="258.95" width="10.78" height="5.14" fill="#FC9D87" class="dc"/>
<rect x="576.62" y="258.95" width="10.78" height="5.14" fill="#FC9D87" class="dc"/>
<rect x="587.4" y="258.95" width="10.78" height="5.14" fill="#B0DDEA" class="dc"/>
<rect x="598.18" y="258.95" width="10.78" height="5.14" fill="#FFD4C9" class="dc"/>
<rect x="608.96" y="258.95" width="10.78" height="5.14" fill="#FFD4C9" class="dc"/>
<rect x="619.74" y="258.95" width="10.78" height="5.14" fill="#CDE9F2" class="dc"/>
<rect x="630.52" y="258.95" width="10.78" height="5.14" fill="#FC9D87" class="dc"/>
<rect x="641.3" y="258.95" width="10.78" height="5.14" fill="#FFFFFF" class="dc"/>
<rect x="652.08" y="258.95" width="10.78" height="5.14" fill="#CDE9F2" class="dc"/>
<rect x="662.86" y="258.95" width="10.78" height="5.14" fill="#CDE9F2" class="dc"/>
<rect x="673.64" y="258.95" width="10.78" height="5.14" fill="#FFD4C9" class="dc"/>
<rect x="684.42" y="258.95" width="10.78" height="5.14" fill="#FFB8A8" class="dc"/>
<rect x="695.2" y="258.95" width="10.78" height="5.14" fill="#FC9D87" class="dc"/>
<rect x="705.98" y="258.95" width="10.78" height="5.14" fill="#CDE9F2" class="dc"/>
<rect x="425.7" y="264.1" width="10.78" height="5.14" fill="#FC9D87" class="dc"/>
<rect x="436.48" y="264.1" width="10.78" height="5.14" fill="#FC9D87" class="dc"/>
<rect x="447.26" y="264.1" width="10.78" height="5.14" fill="#B0DDEA" class="dc"/>
<rect x="458.04" y="264.1" width="10.78" height="5.14" fill="#B0DDEA" class="dc"/>
<rect x="468.82" y="264.1" width="10.78" height="5.14" fill="#FFD4C9" class="dc"/>
<rect x="479.6" y="264.1" width="10.78" height="5.14" fill="#FFD4C9" class="dc"/>
<rect x="490.38" y="264.1" width="10.78" height="5.14" fill="#FFFFFF" class="dc"/>
<rect x="501.16" y="264.1" width="10.78" height="5.14" fill="#FFB8A8" class="dc"/>
<rect x="511.94" y="264.1" width="10.78" height="5.14" fill="#FC9D87" class="dc"/>
<rect x="522.72" y="264.1" width="10.78" height="5.14" fill="#FC9D87" class="dc"/>
<rect x="533.5" y="264.1" width="10.78" height="5.14" fill="#FC9D87" class="dc"/>
<rect x="544.28" y="264.1" width="10.78" height="5.14" fill="#E64B35" class="dc"/>
<rect x="555.06" y="264.1" width="10.78" height="5.14" fill="#FFD4C9" class="dc"/>
<rect x="565.84" y="264.1" width="10.78" height="5.14" fill="#FC9D87" class="dc"/>
<rect x="576.62" y="264.1" width="10.78" height="5.14" fill="#FFB8A8" class="dc"/>
<rect x="587.4" y="264.1" width="10.78" height="5.14" fill="#B0DDEA" class="dc"/>
<rect x="598.18" y="264.1" width="10.78" height="5.14" fill="#FFD4C9" class="dc"/>
<rect x="608.96" y="264.1" width="10.78" height="5.14" fill="#FFD4C9" class="dc"/>
<rect x="619.74" y="264.1" width="10.78" height="5.14" fill="#CDE9F2" class="dc"/>
<rect x="630.52" y="264.1" width="10.78" height="5.14" fill="#FC9D87" class="dc"/>
<rect x="641.3" y="264.1" width="10.78" height="5.14" fill="#EBF6FA" class="dc"/>
<rect x="652.08" y="264.1" width="10.78" height="5.14" fill="#CDE9F2" class="dc"/>
<rect x="662.86" y="264.1" width="10.78" height="5.14" fill="#FFEAE5" class="dc"/>
<rect x="673.64" y="264.1" width="10.78" height="5.14" fill="#FFD4C9" class="dc"/>
<rect x="684.42" y="264.1" width="10.78" height="5.14" fill="#FFD4C9" class="dc"/>
<rect x="695.2" y="264.1" width="10.78" height="5.14" fill="#FC9D87" class="dc"/>
<rect x="705.98" y="264.1" width="10.78" height="5.14" fill="#FFFFFF" class="dc"/>
<rect x="425.7" y="269.24" width="10.78" height="5.14" fill="#FFD4C9" class="dc"/>
<rect x="436.48" y="269.24" width="10.78" height="5.14" fill="#FFEAE5" class="dc"/>
<rect x="447.26" y="269.24" width="10.78" height="5.14" fill="#FFEAE5" class="dc"/>
<rect x="458.04" y="269.24" width="10.78" height="5.14" fill="#FFFFFF" class="dc"/>
<rect x="468.82" y="269.24" width="10.78" height="5.14" fill="#FFD4C9" class="dc"/>
<rect x="479.6" y="269.24" width="10.78" height="5.14" fill="#CDE9F2" class="dc"/>
<rect x="490.38" y="269.24" width="10.78" height="5.14" fill="#FFD4C9" class="dc"/>
<rect x="501.16" y="269.24" width="10.78" height="5.14" fill="#FFB8A8" class="dc"/>
<rect x="511.94" y="269.24" width="10.78" height="5.14" fill="#FFD4C9" class="dc"/>
<rect x="522.72" y="269.24" width="10.78" height="5.14" fill="#FFB8A8" class="dc"/>
<rect x="533.5" y="269.24" width="10.78" height="5.14" fill="#FFEAE5" class="dc"/>
<rect x="544.28" y="269.24" width="10.78" height="5.14" fill="#FFD4C9" class="dc"/>
<rect x="555.06" y="269.24" width="10.78" height="5.14" fill="#E64B35" class="dc"/>
<rect x="565.84" y="269.24" width="10.78" height="5.14" fill="#FFD4C9" class="dc"/>
<rect x="576.62" y="269.24" width="10.78" height="5.14" fill="#FFD4C9" class="dc"/>
<rect x="587.4" y="269.24" width="10.78" height="5.14" fill="#CDE9F2" class="dc"/>
<rect x="598.18" y="269.24" width="10.78" height="5.14" fill="#FFEAE5" class="dc"/>
<rect x="608.96" y="269.24" width="10.78" height="5.14" fill="#FFFFFF" class="dc"/>
<rect x="619.74" y="269.24" width="10.78" height="5.14" fill="#FFD4C9" class="dc"/>
<rect x="630.52" y="269.24" width="10.78" height="5.14" fill="#FFEAE5" class="dc"/>
<rect x="641.3" y="269.24" width="10.78" height="5.14" fill="#FFFFFF" class="dc"/>
<rect x="652.08" y="269.24" width="10.78" height="5.14" fill="#FFD4C9" class="dc"/>
<rect x="662.86" y="269.24" width="10.78" height="5.14" fill="#CDE9F2" class="dc"/>
<rect x="673.64" y="269.24" width="10.78" height="5.14" fill="#EBF6FA" class="dc"/>
<rect x="684.42" y="269.24" width="10.78" height="5.14" fill="#FFFFFF" class="dc"/>
<rect x="695.2" y="269.24" width="10.78" height="5.14" fill="#FFFFFF" class="dc"/>
<rect x="705.98" y="269.24" width="10.78" height="5.14" fill="#FFD4C9" class="dc"/>
<rect x="425.7" y="274.38" width="10.78" height="5.14" fill="#FFB8A8" class="dc"/>
<rect x="436.48" y="274.38" width="10.78" height="5.14" fill="#FFD4C9" class="dc"/>
<rect x="447.26" y="274.38" width="10.78" height="5.14" fill="#CDE9F2" class="dc"/>
<rect x="458.04" y="274.38" width="10.78" height="5.14" fill="#EBF6FA" class="dc"/>
<rect x="468.82" y="274.38" width="10.78" height="5.14" fill="#FFD4C9" class="dc"/>
<rect x="479.6" y="274.38" width="10.78" height="5.14" fill="#FFD4C9" class="dc"/>
<rect x="490.38" y="274.38" width="10.78" height="5.14" fill="#FFD4C9" class="dc"/>
<rect x="501.16" y="274.38" width="10.78" height="5.14" fill="#FFD4C9" class="dc"/>
<rect x="511.94" y="274.38" width="10.78" height="5.14" fill="#FC9D87" class="dc"/>
<rect x="522.72" y="274.38" width="10.78" height="5.14" fill="#FC9D87" class="dc"/>
<rect x="533.5" y="274.38" width="10.78" height="5.14" fill="#FC9D87" class="dc"/>
<rect x="544.28" y="274.38" width="10.78" height="5.14" fill="#FC9D87" class="dc"/>
<rect x="555.06" y="274.38" width="10.78" height="5.14" fill="#FFD4C9" class="dc"/>
<rect x="565.84" y="274.38" width="10.78" height="5.14" fill="#E64B35" class="dc"/>
<rect x="576.62" y="274.38" width="10.78" height="5.14" fill="#FC9D87" class="dc"/>
<rect x="587.4" y="274.38" width="10.78" height="5.14" fill="#CDE9F2" class="dc"/>
<rect x="598.18" y="274.38" width="10.78" height="5.14" fill="#FFD4C9" class="dc"/>
<rect x="608.96" y="274.38" width="10.78" height="5.14" fill="#FFD4C9" class="dc"/>
<rect x="619.74" y="274.38" width="10.78" height="5.14" fill="#CDE9F2" class="dc"/>
<rect x="630.52" y="274.38" width="10.78" height="5.14" fill="#FC9D87" class="dc"/>
<rect x="641.3" y="274.38" width="10.78" height="5.14" fill="#EBF6FA" class="dc"/>
<rect x="652.08" y="274.38" width="10.78" height="5.14" fill="#EBF6FA" class="dc"/>
<rect x="662.86" y="274.38" width="10.78" height="5.14" fill="#CDE9F2" class="dc"/>
<rect x="673.64" y="274.38" width="10.78" height="5.14" fill="#FFEAE5" class="dc"/>
<rect x="684.42" y="274.38" width="10.78" height="5.14" fill="#FFD4C9" class="dc"/>
<rect x="695.2" y="274.38" width="10.78" height="5.14" fill="#FC9D87" class="dc"/>
<rect x="705.98" y="274.38" width="10.78" height="5.14" fill="#EBF6FA" class="dc"/>
<rect x="425.7" y="279.53" width="10.78" height="5.14" fill="#FFD4C9" class="dc"/>
<rect x="436.48" y="279.53" width="10.78" height="5.14" fill="#FFB8A8" class="dc"/>
<rect x="447.26" y="279.53" width="10.78" height="5.14" fill="#CDE9F2" class="dc"/>
<rect x="458.04" y="279.53" width="10.78" height="5.14" fill="#CDE9F2" class="dc"/>
<rect x="468.82" y="279.53" width="10.78" height="5.14" fill="#FFD4C9" class="dc"/>
<rect x="479.6" y="279.53" width="10.78" height="5.14" fill="#FFB8A8" class="dc"/>
<rect x="490.38" y="279.53" width="10.78" height="5.14" fill="#FFEAE5" class="dc"/>
<rect x="501.16" y="279.53" width="10.78" height="5.14" fill="#FC9D87" class="dc"/>
<rect x="511.94" y="279.53" width="10.78" height="5.14" fill="#FFB8A8" class="dc"/>
<rect x="522.72" y="279.53" width="10.78" height="5.14" fill="#FC9D87" class="dc"/>
<rect x="533.5" y="279.53" width="10.78" height="5.14" fill="#FC9D87" class="dc"/>
<rect x="544.28" y="279.53" width="10.78" height="5.14" fill="#FFB8A8" class="dc"/>
<rect x="555.06" y="279.53" width="10.78" height="5.14" fill="#FFD4C9" class="dc"/>
<rect x="565.84" y="279.53" width="10.78" height="5.14" fill="#FC9D87" class="dc"/>
<rect x="576.62" y="279.53" width="10.78" height="5.14" fill="#E64B35" class="dc"/>
<rect x="587.4" y="279.53" width="10.78" height="5.14" fill="#EBF6FA" class="dc"/>
<rect x="598.18" y="279.53" width="10.78" height="5.14" fill="#FFD4C9" class="dc"/>
<rect x="608.96" y="279.53" width="10.78" height="5.14" fill="#FFFFFF" class="dc"/>
<rect x="619.74" y="279.53" width="10.78" height="5.14" fill="#CDE9F2" class="dc"/>
<rect x="630.52" y="279.53" width="10.78" height="5.14" fill="#FFB8A8" class="dc"/>
<rect x="641.3" y="279.53" width="10.78" height="5.14" fill="#CDE9F2" class="dc"/>
<rect x="652.08" y="279.53" width="10.78" height="5.14" fill="#CDE9F2" class="dc"/>
<rect x="662.86" y="279.53" width="10.78" height="5.14" fill="#EBF6FA" class="dc"/>
<rect x="673.64" y="279.53" width="10.78" height="5.14" fill="#FFD4C9" class="dc"/>
<rect x="684.42" y="279.53" width="10.78" height="5.14" fill="#FFD4C9" class="dc"/>
<rect x="695.2" y="279.53" width="10.78" height="5.14" fill="#FC9D87" class="dc"/>
<rect x="705.98" y="279.53" width="10.78" height="5.14" fill="#CDE9F2" class="dc"/>
<rect x="425.7" y="284.68" width="10.78" height="5.14" fill="#B0DDEA" class="dc"/>
<rect x="436.48" y="284.68" width="10.78" height="5.14" fill="#B0DDEA" class="dc"/>
<rect x="447.26" y="284.68" width="10.78" height="5.14" fill="#FFD4C9" class="dc"/>
<rect x="458.04" y="284.68" width="10.78" height="5.14" fill="#FFB8A8" class="dc"/>
<rect x="468.82" y="284.68" width="10.78" height="5.14" fill="#CDE9F2" class="dc"/>
<rect x="479.6" y="284.68" width="10.78" height="5.14" fill="#FFFFFF" class="dc"/>
<rect x="490.38" y="284.68" width="10.78" height="5.14" fill="#FFFFFF" class="dc"/>
<rect x="501.16" y="284.68" width="10.78" height="5.14" fill="#B0DDEA" class="dc"/>
<rect x="511.94" y="284.68" width="10.78" height="5.14" fill="#B0DDEA" class="dc"/>
<rect x="522.72" y="284.68" width="10.78" height="5.14" fill="#B0DDEA" class="dc"/>
<rect x="533.5" y="284.68" width="10.78" height="5.14" fill="#B0DDEA" class="dc"/>
<rect x="544.28" y="284.68" width="10.78" height="5.14" fill="#B0DDEA" class="dc"/>
<rect x="555.06" y="284.68" width="10.78" height="5.14" fill="#CDE9F2" class="dc"/>
<rect x="565.84" y="284.68" width="10.78" height="5.14" fill="#CDE9F2" class="dc"/>
<rect x="576.62" y="284.68" width="10.78" height="5.14" fill="#EBF6FA" class="dc"/>
<rect x="587.4" y="284.68" width="10.78" height="5.14" fill="#E64B35" class="dc"/>
<rect x="598.18" y="284.68" width="10.78" height="5.14" fill="#CDE9F2" class="dc"/>
<rect x="608.96" y="284.68" width="10.78" height="5.14" fill="#CDE9F2" class="dc"/>
<rect x="619.74" y="284.68" width="10.78" height="5.14" fill="#FFD4C9" class="dc"/>
<rect x="630.52" y="284.68" width="10.78" height="5.14" fill="#B0DDEA" class="dc"/>
<rect x="641.3" y="284.68" width="10.78" height="5.14" fill="#FFD4C9" class="dc"/>
<rect x="652.08" y="284.68" width="10.78" height="5.14" fill="#FFD4C9" class="dc"/>
<rect x="662.86" y="284.68" width="10.78" height="5.14" fill="#FFD4C9" class="dc"/>
<rect x="673.64" y="284.68" width="10.78" height="5.14" fill="#FFFFFF" class="dc"/>
<rect x="684.42" y="284.68" width="10.78" height="5.14" fill="#CDE9F2" class="dc"/>
<rect x="695.2" y="284.68" width="10.78" height="5.14" fill="#CDE9F2" class="dc"/>
<rect x="705.98" y="284.68" width="10.78" height="5.14" fill="#FFD4C9" class="dc"/>
<rect x="425.7" y="289.82" width="10.78" height="5.14" fill="#FC9D87" class="dc"/>
<rect x="436.48" y="289.82" width="10.78" height="5.14" fill="#FC9D87" class="dc"/>
<rect x="447.26" y="289.82" width="10.78" height="5.14" fill="#FFFFFF" class="dc"/>
<rect x="458.04" y="289.82" width="10.78" height="5.14" fill="#EBF6FA" class="dc"/>
<rect x="468.82" y="289.82" width="10.78" height="5.14" fill="#FFB8A8" class="dc"/>
<rect x="479.6" y="289.82" width="10.78" height="5.14" fill="#FFEAE5" class="dc"/>
<rect x="490.38" y="289.82" width="10.78" height="5.14" fill="#FFD4C9" class="dc"/>
<rect x="501.16" y="289.82" width="10.78" height="5.14" fill="#FFB8A8" class="dc"/>
<rect x="511.94" y="289.82" width="10.78" height="5.14" fill="#FFB8A8" class="dc"/>
<rect x="522.72" y="289.82" width="10.78" height="5.14" fill="#FFD4C9" class="dc"/>
<rect x="533.5" y="289.82" width="10.78" height="5.14" fill="#FFD4C9" class="dc"/>
<rect x="544.28" y="289.82" width="10.78" height="5.14" fill="#FFD4C9" class="dc"/>
<rect x="555.06" y="289.82" width="10.78" height="5.14" fill="#FFEAE5" class="dc"/>
<rect x="565.84" y="289.82" width="10.78" height="5.14" fill="#FFD4C9" class="dc"/>
<rect x="576.62" y="289.82" width="10.78" height="5.14" fill="#FFD4C9" class="dc"/>
<rect x="587.4" y="289.82" width="10.78" height="5.14" fill="#CDE9F2" class="dc"/>
<rect x="598.18" y="289.82" width="10.78" height="5.14" fill="#E64B35" class="dc"/>
<rect x="608.96" y="289.82" width="10.78" height="5.14" fill="#FFFFFF" class="dc"/>
<rect x="619.74" y="289.82" width="10.78" height="5.14" fill="#EBF6FA" class="dc"/>
<rect x="630.52" y="289.82" width="10.78" height="5.14" fill="#FFEAE5" class="dc"/>
<rect x="641.3" y="289.82" width="10.78" height="5.14" fill="#EBF6FA" class="dc"/>
<rect x="652.08" y="289.82" width="10.78" height="5.14" fill="#CDE9F2" class="dc"/>
<rect x="662.86" y="289.82" width="10.78" height="5.14" fill="#CDE9F2" class="dc"/>
<rect x="673.64" y="289.82" width="10.78" height="5.14" fill="#FFEAE5" class="dc"/>
<rect x="684.42" y="289.82" width="10.78" height="5.14" fill="#FFEAE5" class="dc"/>
<rect x="695.2" y="289.82" width="10.78" height="5.14" fill="#FFEAE5" class="dc"/>
<rect x="705.98" y="289.82" width="10.78" height="5.14" fill="#EBF6FA" class="dc"/>
<rect x="425.7" y="294.96" width="10.78" height="5.14" fill="#FC9D87" class="dc"/>
<rect x="436.48" y="294.96" width="10.78" height="5.14" fill="#FFD4C9" class="dc"/>
<rect x="447.26" y="294.96" width="10.78" height="5.14" fill="#CDE9F2" class="dc"/>
<rect x="458.04" y="294.96" width="10.78" height="5.14" fill="#FFFFFF" class="dc"/>
<rect x="468.82" y="294.96" width="10.78" height="5.14" fill="#FFB8A8" class="dc"/>
<rect x="479.6" y="294.96" width="10.78" height="5.14" fill="#FFEAE5" class="dc"/>
<rect x="490.38" y="294.96" width="10.78" height="5.14" fill="#FFFFFF" class="dc"/>
<rect x="501.16" y="294.96" width="10.78" height="5.14" fill="#FFFFFF" class="dc"/>
<rect x="511.94" y="294.96" width="10.78" height="5.14" fill="#FFB8A8" class="dc"/>
<rect x="522.72" y="294.96" width="10.78" height="5.14" fill="#FFD4C9" class="dc"/>
<rect x="533.5" y="294.96" width="10.78" height="5.14" fill="#FFD4C9" class="dc"/>
<rect x="544.28" y="294.96" width="10.78" height="5.14" fill="#FFD4C9" class="dc"/>
<rect x="555.06" y="294.96" width="10.78" height="5.14" fill="#FFFFFF" class="dc"/>
<rect x="565.84" y="294.96" width="10.78" height="5.14" fill="#FFD4C9" class="dc"/>
<rect x="576.62" y="294.96" width="10.78" height="5.14" fill="#FFFFFF" class="dc"/>
<rect x="587.4" y="294.96" width="10.78" height="5.14" fill="#CDE9F2" class="dc"/>
<rect x="598.18" y="294.96" width="10.78" height="5.14" fill="#FFFFFF" class="dc"/>
<rect x="608.96" y="294.96" width="10.78" height="5.14" fill="#E64B35" class="dc"/>
<rect x="619.74" y="294.96" width="10.78" height="5.14" fill="#FFFFFF" class="dc"/>
<rect x="630.52" y="294.96" width="10.78" height="5.14" fill="#FFB8A8" class="dc"/>
<rect x="641.3" y="294.96" width="10.78" height="5.14" fill="#FFD4C9" class="dc"/>
<rect x="652.08" y="294.96" width="10.78" height="5.14" fill="#EBF6FA" class="dc"/>
<rect x="662.86" y="294.96" width="10.78" height="5.14" fill="#FFFFFF" class="dc"/>
<rect x="673.64" y="294.96" width="10.78" height="5.14" fill="#FFD4C9" class="dc"/>
<rect x="684.42" y="294.96" width="10.78" height="5.14" fill="#FFD4C9" class="dc"/>
<rect x="695.2" y="294.96" width="10.78" height="5.14" fill="#FFB8A8" class="dc"/>
<rect x="705.98" y="294.96" width="10.78" height="5.14" fill="#CDE9F2" class="dc"/>
<rect x="425.7" y="300.11" width="10.78" height="5.14" fill="#EBF6FA" class="dc"/>
<rect x="436.48" y="300.11" width="10.78" height="5.14" fill="#CDE9F2" class="dc"/>
<rect x="447.26" y="300.11" width="10.78" height="5.14" fill="#FFB8A8" class="dc"/>
<rect x="458.04" y="300.11" width="10.78" height="5.14" fill="#FC9D87" class="dc"/>
<rect x="468.82" y="300.11" width="10.78" height="5.14" fill="#FFEAE5" class="dc"/>
<rect x="479.6" y="300.11" width="10.78" height="5.14" fill="#CDE9F2" class="dc"/>
<rect x="490.38" y="300.11" width="10.78" height="5.14" fill="#FFD4C9" class="dc"/>
<rect x="501.16" y="300.11" width="10.78" height="5.14" fill="#EBF6FA" class="dc"/>
<rect x="511.94" y="300.11" width="10.78" height="5.14" fill="#CDE9F2" class="dc"/>
<rect x="522.72" y="300.11" width="10.78" height="5.14" fill="#EBF6FA" class="dc"/>
<rect x="533.5" y="300.11" width="10.78" height="5.14" fill="#CDE9F2" class="dc"/>
<rect x="544.28" y="300.11" width="10.78" height="5.14" fill="#CDE9F2" class="dc"/>
<rect x="555.06" y="300.11" width="10.78" height="5.14" fill="#FFD4C9" class="dc"/>
<rect x="565.84" y="300.11" width="10.78" height="5.14" fill="#CDE9F2" class="dc"/>
<rect x="576.62" y="300.11" width="10.78" height="5.14" fill="#CDE9F2" class="dc"/>
<rect x="587.4" y="300.11" width="10.78" height="5.14" fill="#FFD4C9" class="dc"/>
<rect x="598.18" y="300.11" width="10.78" height="5.14" fill="#EBF6FA" class="dc"/>
<rect x="608.96" y="300.11" width="10.78" height="5.14" fill="#FFFFFF" class="dc"/>
<rect x="619.74" y="300.11" width="10.78" height="5.14" fill="#E64B35" class="dc"/>
<rect x="630.52" y="300.11" width="10.78" height="5.14" fill="#CDE9F2" class="dc"/>
<rect x="641.3" y="300.11" width="10.78" height="5.14" fill="#FFD4C9" class="dc"/>
<rect x="652.08" y="300.11" width="10.78" height="5.14" fill="#FFB8A8" class="dc"/>
<rect x="662.86" y="300.11" width="10.78" height="5.14" fill="#FFFFFF" class="dc"/>
<rect x="673.64" y="300.11" width="10.78" height="5.14" fill="#CDE9F2" class="dc"/>
<rect x="684.42" y="300.11" width="10.78" height="5.14" fill="#CDE9F2" class="dc"/>
<rect x="695.2" y="300.11" width="10.78" height="5.14" fill="#CDE9F2" class="dc"/>
<rect x="705.98" y="300.11" width="10.78" height="5.14" fill="#FFD4C9" class="dc"/>
<rect x="425.7" y="305.25" width="10.78" height="5.14" fill="#FC9D87" class="dc"/>
<rect x="436.48" y="305.25" width="10.78" height="5.14" fill="#FC9D87" class="dc"/>
<rect x="447.26" y="305.25" width="10.78" height="5.14" fill="#B0DDEA" class="dc"/>
<rect x="458.04" y="305.25" width="10.78" height="5.14" fill="#CDE9F2" class="dc"/>
<rect x="468.82" y="305.25" width="10.78" height="5.14" fill="#FFD4C9" class="dc"/>
<rect x="479.6" y="305.25" width="10.78" height="5.14" fill="#FFEAE5" class="dc"/>
<rect x="490.38" y="305.25" width="10.78" height="5.14" fill="#FFFFFF" class="dc"/>
<rect x="501.16" y="305.25" width="10.78" height="5.14" fill="#FC9D87" class="dc"/>
<rect x="511.94" y="305.25" width="10.78" height="5.14" fill="#FC9D87" class="dc"/>
<rect x="522.72" y="305.25" width="10.78" height="5.14" fill="#FC9D87" class="dc"/>
<rect x="533.5" y="305.25" width="10.78" height="5.14" fill="#FC9D87" class="dc"/>
<rect x="544.28" y="305.25" width="10.78" height="5.14" fill="#FC9D87" class="dc"/>
<rect x="555.06" y="305.25" width="10.78" height="5.14" fill="#FFEAE5" class="dc"/>
<rect x="565.84" y="305.25" width="10.78" height="5.14" fill="#FC9D87" class="dc"/>
<rect x="576.62" y="305.25" width="10.78" height="5.14" fill="#FFB8A8" class="dc"/>
<rect x="587.4" y="305.25" width="10.78" height="5.14" fill="#B0DDEA" class="dc"/>
<rect x="598.18" y="305.25" width="10.78" height="5.14" fill="#FFEAE5" class="dc"/>
<rect x="608.96" y="305.25" width="10.78" height="5.14" fill="#FFB8A8" class="dc"/>
<rect x="619.74" y="305.25" width="10.78" height="5.14" fill="#CDE9F2" class="dc"/>
<rect x="630.52" y="305.25" width="10.78" height="5.14" fill="#E64B35" class="dc"/>
<rect x="641.3" y="305.25" width="10.78" height="5.14" fill="#CDE9F2" class="dc"/>
<rect x="652.08" y="305.25" width="10.78" height="5.14" fill="#CDE9F2" class="dc"/>
<rect x="662.86" y="305.25" width="10.78" height="5.14" fill="#FFFFFF" class="dc"/>
<rect x="673.64" y="305.25" width="10.78" height="5.14" fill="#FFB8A8" class="dc"/>
<rect x="684.42" y="305.25" width="10.78" height="5.14" fill="#FFB8A8" class="dc"/>
<rect x="695.2" y="305.25" width="10.78" height="5.14" fill="#FC9D87" class="dc"/>
<rect x="705.98" y="305.25" width="10.78" height="5.14" fill="#CDE9F2" class="dc"/>
<rect x="425.7" y="310.4" width="10.78" height="5.14" fill="#FFEAE5" class="dc"/>
<rect x="436.48" y="310.4" width="10.78" height="5.14" fill="#EBF6FA" class="dc"/>
<rect x="447.26" y="310.4" width="10.78" height="5.14" fill="#FFB8A8" class="dc"/>
<rect x="458.04" y="310.4" width="10.78" height="5.14" fill="#FFB8A8" class="dc"/>
<rect x="468.82" y="310.4" width="10.78" height="5.14" fill="#FFD4C9" class="dc"/>
<rect x="479.6" y="310.4" width="10.78" height="5.14" fill="#CDE9F2" class="dc"/>
<rect x="490.38" y="310.4" width="10.78" height="5.14" fill="#FFFFFF" class="dc"/>
<rect x="501.16" y="310.4" width="10.78" height="5.14" fill="#CDE9F2" class="dc"/>
<rect x="511.94" y="310.4" width="10.78" height="5.14" fill="#EBF6FA" class="dc"/>
<rect x="522.72" y="310.4" width="10.78" height="5.14" fill="#FFEAE5" class="dc"/>
<rect x="533.5" y="310.4" width="10.78" height="5.14" fill="#FFFFFF" class="dc"/>
<rect x="544.28" y="310.4" width="10.78" height="5.14" fill="#EBF6FA" class="dc"/>
<rect x="555.06" y="310.4" width="10.78" height="5.14" fill="#FFFFFF" class="dc"/>
<rect x="565.84" y="310.4" width="10.78" height="5.14" fill="#EBF6FA" class="dc"/>
<rect x="576.62" y="310.4" width="10.78" height="5.14" fill="#CDE9F2" class="dc"/>
<rect x="587.4" y="310.4" width="10.78" height="5.14" fill="#FFD4C9" class="dc"/>
<rect x="598.18" y="310.4" width="10.78" height="5.14" fill="#EBF6FA" class="dc"/>
<rect x="608.96" y="310.4" width="10.78" height="5.14" fill="#FFD4C9" class="dc"/>
<rect x="619.74" y="310.4" width="10.78" height="5.14" fill="#FFD4C9" class="dc"/>
<rect x="630.52" y="310.4" width="10.78" height="5.14" fill="#CDE9F2" class="dc"/>
<rect x="641.3" y="310.4" width="10.78" height="5.14" fill="#E64B35" class="dc"/>
<rect x="652.08" y="310.4" width="10.78" height="5.14" fill="#FFD4C9" class="dc"/>
<rect x="662.86" y="310.4" width="10.78" height="5.14" fill="#FFEAE5" class="dc"/>
<rect x="673.64" y="310.4" width="10.78" height="5.14" fill="#CDE9F2" class="dc"/>
<rect x="684.42" y="310.4" width="10.78" height="5.14" fill="#CDE9F2" class="dc"/>
<rect x="695.2" y="310.4" width="10.78" height="5.14" fill="#FFFFFF" class="dc"/>
<rect x="705.98" y="310.4" width="10.78" height="5.14" fill="#FFD4C9" class="dc"/>
<rect x="425.7" y="315.54" width="10.78" height="5.14" fill="#CDE9F2" class="dc"/>
<rect x="436.48" y="315.54" width="10.78" height="5.14" fill="#B0DDEA" class="dc"/>
<rect x="447.26" y="315.54" width="10.78" height="5.14" fill="#FFB8A8" class="dc"/>
<rect x="458.04" y="315.54" width="10.78" height="5.14" fill="#FFD4C9" class="dc"/>
<rect x="468.82" y="315.54" width="10.78" height="5.14" fill="#FFFFFF" class="dc"/>
<rect x="479.6" y="315.54" width="10.78" height="5.14" fill="#CDE9F2" class="dc"/>
<rect x="490.38" y="315.54" width="10.78" height="5.14" fill="#FFD4C9" class="dc"/>
<rect x="501.16" y="315.54" width="10.78" height="5.14" fill="#CDE9F2" class="dc"/>
<rect x="511.94" y="315.54" width="10.78" height="5.14" fill="#CDE9F2" class="dc"/>
<rect x="522.72" y="315.54" width="10.78" height="5.14" fill="#EBF6FA" class="dc"/>
<rect x="533.5" y="315.54" width="10.78" height="5.14" fill="#CDE9F2" class="dc"/>
<rect x="544.28" y="315.54" width="10.78" height="5.14" fill="#CDE9F2" class="dc"/>
<rect x="555.06" y="315.54" width="10.78" height="5.14" fill="#FFD4C9" class="dc"/>
<rect x="565.84" y="315.54" width="10.78" height="5.14" fill="#EBF6FA" class="dc"/>
<rect x="576.62" y="315.54" width="10.78" height="5.14" fill="#CDE9F2" class="dc"/>
<rect x="587.4" y="315.54" width="10.78" height="5.14" fill="#FFD4C9" class="dc"/>
<rect x="598.18" y="315.54" width="10.78" height="5.14" fill="#CDE9F2" class="dc"/>
<rect x="608.96" y="315.54" width="10.78" height="5.14" fill="#EBF6FA" class="dc"/>
<rect x="619.74" y="315.54" width="10.78" height="5.14" fill="#FFB8A8" class="dc"/>
<rect x="630.52" y="315.54" width="10.78" height="5.14" fill="#CDE9F2" class="dc"/>
<rect x="641.3" y="315.54" width="10.78" height="5.14" fill="#FFD4C9" class="dc"/>
<rect x="652.08" y="315.54" width="10.78" height="5.14" fill="#E64B35" class="dc"/>
<rect x="662.86" y="315.54" width="10.78" height="5.14" fill="#FFFFFF" class="dc"/>
<rect x="673.64" y="315.54" width="10.78" height="5.14" fill="#CDE9F2" class="dc"/>
<rect x="684.42" y="315.54" width="10.78" height="5.14" fill="#CDE9F2" class="dc"/>
<rect x="695.2" y="315.54" width="10.78" height="5.14" fill="#CDE9F2" class="dc"/>
<rect x="705.98" y="315.54" width="10.78" height="5.14" fill="#FFB8A8" class="dc"/>
<rect x="425.7" y="320.69" width="10.78" height="5.14" fill="#CDE9F2" class="dc"/>
<rect x="436.48" y="320.69" width="10.78" height="5.14" fill="#FFFFFF" class="dc"/>
<rect x="447.26" y="320.69" width="10.78" height="5.14" fill="#FFD4C9" class="dc"/>
<rect x="458.04" y="320.69" width="10.78" height="5.14" fill="#FFFFFF" class="dc"/>
<rect x="468.82" y="320.69" width="10.78" height="5.14" fill="#EBF6FA" class="dc"/>
<rect x="479.6" y="320.69" width="10.78" height="5.14" fill="#FFD4C9" class="dc"/>
<rect x="490.38" y="320.69" width="10.78" height="5.14" fill="#CDE9F2" class="dc"/>
<rect x="501.16" y="320.69" width="10.78" height="5.14" fill="#EBF6FA" class="dc"/>
<rect x="511.94" y="320.69" width="10.78" height="5.14" fill="#CDE9F2" class="dc"/>
<rect x="522.72" y="320.69" width="10.78" height="5.14" fill="#CDE9F2" class="dc"/>
<rect x="533.5" y="320.69" width="10.78" height="5.14" fill="#CDE9F2" class="dc"/>
<rect x="544.28" y="320.69" width="10.78" height="5.14" fill="#FFEAE5" class="dc"/>
<rect x="555.06" y="320.69" width="10.78" height="5.14" fill="#CDE9F2" class="dc"/>
<rect x="565.84" y="320.69" width="10.78" height="5.14" fill="#CDE9F2" class="dc"/>
<rect x="576.62" y="320.69" width="10.78" height="5.14" fill="#EBF6FA" class="dc"/>
<rect x="587.4" y="320.69" width="10.78" height="5.14" fill="#FFD4C9" class="dc"/>
<rect x="598.18" y="320.69" width="10.78" height="5.14" fill="#CDE9F2" class="dc"/>
<rect x="608.96" y="320.69" width="10.78" height="5.14" fill="#FFFFFF" class="dc"/>
<rect x="619.74" y="320.69" width="10.78" height="5.14" fill="#FFFFFF" class="dc"/>
<rect x="630.52" y="320.69" width="10.78" height="5.14" fill="#FFFFFF" class="dc"/>
<rect x="641.3" y="320.69" width="10.78" height="5.14" fill="#FFEAE5" class="dc"/>
<rect x="652.08" y="320.69" width="10.78" height="5.14" fill="#FFFFFF" class="dc"/>
<rect x="662.86" y="320.69" width="10.78" height="5.14" fill="#E64B35" class="dc"/>
<rect x="673.64" y="320.69" width="10.78" height="5.14" fill="#FFEAE5" class="dc"/>
<rect x="684.42" y="320.69" width="10.78" height="5.14" fill="#FFFFFF" class="dc"/>
<rect x="695.2" y="320.69" width="10.78" height="5.14" fill="#FFFFFF" class="dc"/>
<rect x="705.98" y="320.69" width="10.78" height="5.14" fill="#FFFFFF" class="dc"/>
<rect x="425.7" y="325.83" width="10.78" height="5.14" fill="#FFD4C9" class="dc"/>
<rect x="436.48" y="325.83" width="10.78" height="5.14" fill="#FC9D87" class="dc"/>
<rect x="447.26" y="325.83" width="10.78" height="5.14" fill="#B0DDEA" class="dc"/>
<rect x="458.04" y="325.83" width="10.78" height="5.14" fill="#CDE9F2" class="dc"/>
<rect x="468.82" y="325.83" width="10.78" height="5.14" fill="#FFFFFF" class="dc"/>
<rect x="479.6" y="325.83" width="10.78" height="5.14" fill="#FFB8A8" class="dc"/>
<rect x="490.38" y="325.83" width="10.78" height="5.14" fill="#CDE9F2" class="dc"/>
<rect x="501.16" y="325.83" width="10.78" height="5.14" fill="#FFB8A8" class="dc"/>
<rect x="511.94" y="325.83" width="10.78" height="5.14" fill="#FFB8A8" class="dc"/>
<rect x="522.72" y="325.83" width="10.78" height="5.14" fill="#FFD4C9" class="dc"/>
<rect x="533.5" y="325.83" width="10.78" height="5.14" fill="#FFD4C9" class="dc"/>
<rect x="544.28" y="325.83" width="10.78" height="5.14" fill="#FFD4C9" class="dc"/>
<rect x="555.06" y="325.83" width="10.78" height="5.14" fill="#EBF6FA" class="dc"/>
<rect x="565.84" y="325.83" width="10.78" height="5.14" fill="#FFEAE5" class="dc"/>
<rect x="576.62" y="325.83" width="10.78" height="5.14" fill="#FFD4C9" class="dc"/>
<rect x="587.4" y="325.83" width="10.78" height="5.14" fill="#FFFFFF" class="dc"/>
<rect x="598.18" y="325.83" width="10.78" height="5.14" fill="#FFEAE5" class="dc"/>
<rect x="608.96" y="325.83" width="10.78" height="5.14" fill="#FFD4C9" class="dc"/>
<rect x="619.74" y="325.83" width="10.78" height="5.14" fill="#CDE9F2" class="dc"/>
<rect x="630.52" y="325.83" width="10.78" height="5.14" fill="#FFB8A8" class="dc"/>
<rect x="641.3" y="325.83" width="10.78" height="5.14" fill="#CDE9F2" class="dc"/>
<rect x="652.08" y="325.83" width="10.78" height="5.14" fill="#CDE9F2" class="dc"/>
<rect x="662.86" y="325.83" width="10.78" height="5.14" fill="#FFEAE5" class="dc"/>
<rect x="673.64" y="325.83" width="10.78" height="5.14" fill="#E64B35" class="dc"/>
<rect x="684.42" y="325.83" width="10.78" height="5.14" fill="#FC9D87" class="dc"/>
<rect x="695.2" y="325.83" width="10.78" height="5.14" fill="#FC9D87" class="dc"/>
<rect x="705.98" y="325.83" width="10.78" height="5.14" fill="#CDE9F2" class="dc"/>
<rect x="425.7" y="330.98" width="10.78" height="5.14" fill="#FC9D87" class="dc"/>
<rect x="436.48" y="330.98" width="10.78" height="5.14" fill="#FC9D87" class="dc"/>
<rect x="447.26" y="330.98" width="10.78" height="5.14" fill="#CDE9F2" class="dc"/>
<rect x="458.04" y="330.98" width="10.78" height="5.14" fill="#CDE9F2" class="dc"/>
<rect x="468.82" y="330.98" width="10.78" height="5.14" fill="#FFB8A8" class="dc"/>
<rect x="479.6" y="330.98" width="10.78" height="5.14" fill="#FFD4C9" class="dc"/>
<rect x="490.38" y="330.98" width="10.78" height="5.14" fill="#CDE9F2" class="dc"/>
<rect x="501.16" y="330.98" width="10.78" height="5.14" fill="#FFD4C9" class="dc"/>
<rect x="511.94" y="330.98" width="10.78" height="5.14" fill="#FC9D87" class="dc"/>
<rect x="522.72" y="330.98" width="10.78" height="5.14" fill="#FFEAE5" class="dc"/>
<rect x="533.5" y="330.98" width="10.78" height="5.14" fill="#FFB8A8" class="dc"/>
<rect x="544.28" y="330.98" width="10.78" height="5.14" fill="#FFD4C9" class="dc"/>
<rect x="555.06" y="330.98" width="10.78" height="5.14" fill="#FFFFFF" class="dc"/>
<rect x="565.84" y="330.98" width="10.78" height="5.14" fill="#FFD4C9" class="dc"/>
<rect x="576.62" y="330.98" width="10.78" height="5.14" fill="#FFD4C9" class="dc"/>
<rect x="587.4" y="330.98" width="10.78" height="5.14" fill="#CDE9F2" class="dc"/>
<rect x="598.18" y="330.98" width="10.78" height="5.14" fill="#FFEAE5" class="dc"/>
<rect x="608.96" y="330.98" width="10.78" height="5.14" fill="#FFD4C9" class="dc"/>
<rect x="619.74" y="330.98" width="10.78" height="5.14" fill="#CDE9F2" class="dc"/>
<rect x="630.52" y="330.98" width="10.78" height="5.14" fill="#FFB8A8" class="dc"/>
<rect x="641.3" y="330.98" width="10.78" height="5.14" fill="#CDE9F2" class="dc"/>
<rect x="652.08" y="330.98" width="10.78" height="5.14" fill="#CDE9F2" class="dc"/>
<rect x="662.86" y="330.98" width="10.78" height="5.14" fill="#FFFFFF" class="dc"/>
<rect x="673.64" y="330.98" width="10.78" height="5.14" fill="#FC9D87" class="dc"/>
<rect x="684.42" y="330.98" width="10.78" height="5.14" fill="#E64B35" class="dc"/>
<rect x="695.2" y="330.98" width="10.78" height="5.14" fill="#FC9D87" class="dc"/>
<rect x="705.98" y="330.98" width="10.78" height="5.14" fill="#EBF6FA" class="dc"/>
<rect x="425.7" y="336.12" width="10.78" height="5.14" fill="#FC9D87" class="dc"/>
<rect x="436.48" y="336.12" width="10.78" height="5.14" fill="#FC9D87" class="dc"/>
<rect x="447.26" y="336.12" width="10.78" height="5.14" fill="#B0DDEA" class="dc"/>
<rect x="458.04" y="336.12" width="10.78" height="5.14" fill="#CDE9F2" class="dc"/>
<rect x="468.82" y="336.12" width="10.78" height="5.14" fill="#FFB8A8" class="dc"/>
<rect x="479.6" y="336.12" width="10.78" height="5.14" fill="#FFB8A8" class="dc"/>
<rect x="490.38" y="336.12" width="10.78" height="5.14" fill="#FFFFFF" class="dc"/>
<rect x="501.16" y="336.12" width="10.78" height="5.14" fill="#FC9D87" class="dc"/>
<rect x="511.94" y="336.12" width="10.78" height="5.14" fill="#F7866E" class="dc"/>
<rect x="522.72" y="336.12" width="10.78" height="5.14" fill="#FC9D87" class="dc"/>
<rect x="533.5" y="336.12" width="10.78" height="5.14" fill="#FC9D87" class="dc"/>
<rect x="544.28" y="336.12" width="10.78" height="5.14" fill="#FC9D87" class="dc"/>
<rect x="555.06" y="336.12" width="10.78" height="5.14" fill="#FFFFFF" class="dc"/>
<rect x="565.84" y="336.12" width="10.78" height="5.14" fill="#FC9D87" class="dc"/>
<rect x="576.62" y="336.12" width="10.78" height="5.14" fill="#FC9D87" class="dc"/>
<rect x="587.4" y="336.12" width="10.78" height="5.14" fill="#CDE9F2" class="dc"/>
<rect x="598.18" y="336.12" width="10.78" height="5.14" fill="#FFEAE5" class="dc"/>
<rect x="608.96" y="336.12" width="10.78" height="5.14" fill="#FFB8A8" class="dc"/>
<rect x="619.74" y="336.12" width="10.78" height="5.14" fill="#CDE9F2" class="dc"/>
<rect x="630.52" y="336.12" width="10.78" height="5.14" fill="#FC9D87" class="dc"/>
<rect x="641.3" y="336.12" width="10.78" height="5.14" fill="#FFFFFF" class="dc"/>
<rect x="652.08" y="336.12" width="10.78" height="5.14" fill="#CDE9F2" class="dc"/>
<rect x="662.86" y="336.12" width="10.78" height="5.14" fill="#FFFFFF" class="dc"/>
<rect x="673.64" y="336.12" width="10.78" height="5.14" fill="#FC9D87" class="dc"/>
<rect x="684.42" y="336.12" width="10.78" height="5.14" fill="#FC9D87" class="dc"/>
<rect x="695.2" y="336.12" width="10.78" height="5.14" fill="#E64B35" class="dc"/>
<rect x="705.98" y="336.12" width="10.78" height="5.14" fill="#EBF6FA" class="dc"/>
<rect x="425.7" y="341.27" width="10.78" height="5.14" fill="#EBF6FA" class="dc"/>
<rect x="436.48" y="341.27" width="10.78" height="5.14" fill="#CDE9F2" class="dc"/>
<rect x="447.26" y="341.27" width="10.78" height="5.14" fill="#FFB8A8" class="dc"/>
<rect x="458.04" y="341.27" width="10.78" height="5.14" fill="#FFD4C9" class="dc"/>
<rect x="468.82" y="341.27" width="10.78" height="5.14" fill="#FFFFFF" class="dc"/>
<rect x="479.6" y="341.27" width="10.78" height="5.14" fill="#FFFFFF" class="dc"/>
<rect x="490.38" y="341.27" width="10.78" height="5.14" fill="#FFFFFF" class="dc"/>
<rect x="501.16" y="341.27" width="10.78" height="5.14" fill="#CDE9F2" class="dc"/>
<rect x="511.94" y="341.27" width="10.78" height="5.14" fill="#CDE9F2" class="dc"/>
<rect x="522.72" y="341.27" width="10.78" height="5.14" fill="#EBF6FA" class="dc"/>
<rect x="533.5" y="341.27" width="10.78" height="5.14" fill="#CDE9F2" class="dc"/>
<rect x="544.28" y="341.27" width="10.78" height="5.14" fill="#FFFFFF" class="dc"/>
<rect x="555.06" y="341.27" width="10.78" height="5.14" fill="#FFD4C9" class="dc"/>
<rect x="565.84" y="341.27" width="10.78" height="5.14" fill="#EBF6FA" class="dc"/>
<rect x="576.62" y="341.27" width="10.78" height="5.14" fill="#CDE9F2" class="dc"/>
<rect x="587.4" y="341.27" width="10.78" height="5.14" fill="#FFD4C9" class="dc"/>
<rect x="598.18" y="341.27" width="10.78" height="5.14" fill="#EBF6FA" class="dc"/>
<rect x="608.96" y="341.27" width="10.78" height="5.14" fill="#CDE9F2" class="dc"/>
<rect x="619.74" y="341.27" width="10.78" height="5.14" fill="#FFD4C9" class="dc"/>
<rect x="630.52" y="341.27" width="10.78" height="5.14" fill="#CDE9F2" class="dc"/>
<rect x="641.3" y="341.27" width="10.78" height="5.14" fill="#FFD4C9" class="dc"/>
<rect x="652.08" y="341.27" width="10.78" height="5.14" fill="#FFB8A8" class="dc"/>
<rect x="662.86" y="341.27" width="10.78" height="5.14" fill="#FFFFFF" class="dc"/>
<rect x="673.64" y="341.27" width="10.78" height="5.14" fill="#CDE9F2" class="dc"/>
<rect x="684.42" y="341.27" width="10.78" height="5.14" fill="#EBF6FA" class="dc"/>
<rect x="695.2" y="341.27" width="10.78" height="5.14" fill="#EBF6FA" class="dc"/>
<rect x="705.98" y="341.27" width="10.78" height="5.14" fill="#E64B35" class="dc"/>
<text x="431.09" y="212.77" font-size="5.2" fill="#222" color="#222" text-anchor="middle">**</text>
<text x="441.87" y="212.77" font-size="5.2" fill="#222" color="#222" text-anchor="middle">**</text>
<text x="452.65" y="212.77" font-size="5.2" fill="#222" color="#222" text-anchor="middle">*</text>
<text x="474.21" y="212.77" font-size="5.2" fill="#222" color="#222" text-anchor="middle">**</text>
<text x="506.55" y="212.77" font-size="5.2" fill="#222" color="#222" text-anchor="middle">**</text>
<text x="517.33" y="212.77" font-size="5.2" fill="#222" color="#222" text-anchor="middle">**</text>
<text x="528.11" y="212.77" font-size="5.2" fill="#222" color="#222" text-anchor="middle">**</text>
<text x="538.89" y="212.77" font-size="5.2" fill="#222" color="#222" text-anchor="middle">**</text>
<text x="549.67" y="212.77" font-size="5.2" fill="#222" color="#222" text-anchor="middle">**</text>
<text x="571.23" y="212.77" font-size="5.2" fill="#222" color="#222" text-anchor="middle">*</text>
<text x="592.79" y="212.77" font-size="5.2" fill="#222" color="#222" text-anchor="middle">**</text>
<text x="603.57" y="212.77" font-size="5.2" fill="#222" color="#222" text-anchor="middle">**</text>
<text x="614.35" y="212.77" font-size="5.2" fill="#222" color="#222" text-anchor="middle">**</text>
<text x="635.91" y="212.77" font-size="5.2" fill="#222" color="#222" text-anchor="middle">**</text>
<text x="689.81" y="212.77" font-size="5.2" fill="#222" color="#222" text-anchor="middle">**</text>
<text x="700.59" y="212.77" font-size="5.2" fill="#222" color="#222" text-anchor="middle">**</text>
<text x="431.09" y="217.92" font-size="5.2" fill="#222" color="#222" text-anchor="middle">**</text>
<text x="441.87" y="217.92" font-size="5.2" fill="#222" color="#222" text-anchor="middle">**</text>
<text x="452.65" y="217.92" font-size="5.2" fill="#222" color="#222" text-anchor="middle">**</text>
<text x="463.43" y="217.92" font-size="5.2" fill="#222" color="#222" text-anchor="middle">**</text>
<text x="474.21" y="217.92" font-size="5.2" fill="#222" color="#222" text-anchor="middle">**</text>
<text x="506.55" y="217.92" font-size="5.2" fill="#222" color="#222" text-anchor="middle">**</text>
<text x="517.33" y="217.92" font-size="5.2" fill="#222" color="#222" text-anchor="middle">**</text>
<text x="538.89" y="217.92" font-size="5.2" fill="#222" color="#222" text-anchor="middle">**</text>
<text x="549.67" y="217.92" font-size="5.2" fill="#222" color="#222" text-anchor="middle">**</text>
<text x="582.01" y="217.92" font-size="5.2" fill="#222" color="#222" text-anchor="middle">*</text>
<text x="592.79" y="217.92" font-size="5.2" fill="#222" color="#222" text-anchor="middle">**</text>
<text x="603.57" y="217.92" font-size="5.2" fill="#222" color="#222" text-anchor="middle">**</text>
<text x="625.13" y="217.92" font-size="5.2" fill="#222" color="#222" text-anchor="middle">*</text>
<text x="635.91" y="217.92" font-size="5.2" fill="#222" color="#222" text-anchor="middle">**</text>
<text x="657.47" y="217.92" font-size="5.2" fill="#222" color="#222" text-anchor="middle">**</text>
<text x="679.03" y="217.92" font-size="5.2" fill="#222" color="#222" text-anchor="middle">**</text>
<text x="689.81" y="217.92" font-size="5.2" fill="#222" color="#222" text-anchor="middle">**</text>
<text x="700.59" y="217.92" font-size="5.2" fill="#222" color="#222" text-anchor="middle">**</text>
<text x="431.09" y="223.06" font-size="5.2" fill="#222" color="#222" text-anchor="middle">*</text>
<text x="441.87" y="223.06" font-size="5.2" fill="#222" color="#222" text-anchor="middle">**</text>
<text x="452.65" y="223.06" font-size="5.2" fill="#222" color="#222" text-anchor="middle">**</text>
<text x="463.43" y="223.06" font-size="5.2" fill="#222" color="#222" text-anchor="middle">*</text>
<text x="517.33" y="223.06" font-size="5.2" fill="#222" color="#222" text-anchor="middle">**</text>
<text x="538.89" y="223.06" font-size="5.2" fill="#222" color="#222" text-anchor="middle">**</text>
<text x="549.67" y="223.06" font-size="5.2" fill="#222" color="#222" text-anchor="middle">*</text>
<text x="582.01" y="223.06" font-size="5.2" fill="#222" color="#222" text-anchor="middle">**</text>
<text x="614.35" y="223.06" font-size="5.2" fill="#222" color="#222" text-anchor="middle">*</text>
<text x="625.13" y="223.06" font-size="5.2" fill="#222" color="#222" text-anchor="middle">**</text>
<text x="635.91" y="223.06" font-size="5.2" fill="#222" color="#222" text-anchor="middle">**</text>
<text x="646.69" y="223.06" font-size="5.2" fill="#222" color="#222" text-anchor="middle">*</text>
<text x="657.47" y="223.06" font-size="5.2" fill="#222" color="#222" text-anchor="middle">**</text>
<text x="679.03" y="223.06" font-size="5.2" fill="#222" color="#222" text-anchor="middle">**</text>
<text x="689.81" y="223.06" font-size="5.2" fill="#222" color="#222" text-anchor="middle">*</text>
<text x="700.59" y="223.06" font-size="5.2" fill="#222" color="#222" text-anchor="middle">**</text>
<text x="711.37" y="223.06" font-size="5.2" fill="#222" color="#222" text-anchor="middle">**</text>
<text x="441.87" y="228.21" font-size="5.2" fill="#222" color="#222" text-anchor="middle">**</text>
<text x="452.65" y="228.21" font-size="5.2" fill="#222" color="#222" text-anchor="middle">*</text>
<text x="463.43" y="228.21" font-size="5.2" fill="#222" color="#222" text-anchor="middle">**</text>
<text x="549.67" y="228.21" font-size="5.2" fill="#222" color="#222" text-anchor="middle">*</text>
<text x="592.79" y="228.21" font-size="5.2" fill="#222" color="#222" text-anchor="middle">*</text>
<text x="625.13" y="228.21" font-size="5.2" fill="#222" color="#222" text-anchor="middle">**</text>
<text x="646.69" y="228.21" font-size="5.2" fill="#222" color="#222" text-anchor="middle">*</text>
<text x="431.09" y="233.35" font-size="5.2" fill="#222" color="#222" text-anchor="middle">**</text>
<text x="441.87" y="233.35" font-size="5.2" fill="#222" color="#222" text-anchor="middle">**</text>
<text x="474.21" y="233.35" font-size="5.2" fill="#222" color="#222" text-anchor="middle">**</text>
<text x="517.33" y="233.35" font-size="5.2" fill="#222" color="#222" text-anchor="middle">**</text>
<text x="538.89" y="233.35" font-size="5.2" fill="#222" color="#222" text-anchor="middle">*</text>
<text x="592.79" y="233.35" font-size="5.2" fill="#222" color="#222" text-anchor="middle">*</text>
<text x="603.57" y="233.35" font-size="5.2" fill="#222" color="#222" text-anchor="middle">*</text>
<text x="614.35" y="233.35" font-size="5.2" fill="#222" color="#222" text-anchor="middle">*</text>
<text x="689.81" y="233.35" font-size="5.2" fill="#222" color="#222" text-anchor="middle">*</text>
<text x="700.59" y="233.35" font-size="5.2" fill="#222" color="#222" text-anchor="middle">*</text>
<text x="484.99" y="238.5" font-size="5.2" fill="#222" color="#222" text-anchor="middle">**</text>
<text x="679.03" y="238.5" font-size="5.2" fill="#222" color="#222" text-anchor="middle">*</text>
<text x="700.59" y="238.5" font-size="5.2" fill="#222" color="#222" text-anchor="middle">*</text>
<text x="495.77" y="243.64" font-size="5.2" fill="#222" color="#222" text-anchor="middle">**</text>
<text x="431.09" y="248.79" font-size="5.2" fill="#222" color="#222" text-anchor="middle">**</text>
<text x="441.87" y="248.79" font-size="5.2" fill="#222" color="#222" text-anchor="middle">**</text>
<text x="506.55" y="248.79" font-size="5.2" fill="#222" color="#222" text-anchor="middle">**</text>
<text x="517.33" y="248.79" font-size="5.2" fill="#222" color="#222" text-anchor="middle">**</text>
<text x="528.11" y="248.79" font-size="5.2" fill="#222" color="#222" text-anchor="middle">**</text>
<text x="538.89" y="248.79" font-size="5.2" fill="#222" color="#222" text-anchor="middle">**</text>
<text x="549.67" y="248.79" font-size="5.2" fill="#222" color="#222" text-anchor="middle">*</text>
<text x="560.45" y="248.79" font-size="5.2" fill="#222" color="#222" text-anchor="middle">*</text>
<text x="582.01" y="248.79" font-size="5.2" fill="#222" color="#222" text-anchor="middle">**</text>
<text x="592.79" y="248.79" font-size="5.2" fill="#222" color="#222" text-anchor="middle">**</text>
<text x="603.57" y="248.79" font-size="5.2" fill="#222" color="#222" text-anchor="middle">*</text>
<text x="635.91" y="248.79" font-size="5.2" fill="#222" color="#222" text-anchor="middle">**</text>
<text x="679.03" y="248.79" font-size="5.2" fill="#222" color="#222" text-anchor="middle">*</text>
<text x="700.59" y="248.79" font-size="5.2" fill="#222" color="#222" text-anchor="middle">**</text>
<text x="431.09" y="253.93" font-size="5.2" fill="#222" color="#222" text-anchor="middle">**</text>
<text x="441.87" y="253.93" font-size="5.2" fill="#222" color="#222" text-anchor="middle">**</text>
<text x="452.65" y="253.93" font-size="5.2" fill="#222" color="#222" text-anchor="middle">**</text>
<text x="474.21" y="253.93" font-size="5.2" fill="#222" color="#222" text-anchor="middle">**</text>
<text x="506.55" y="253.93" font-size="5.2" fill="#222" color="#222" text-anchor="middle">**</text>
<text x="517.33" y="253.93" font-size="5.2" fill="#222" color="#222" text-anchor="middle">**</text>
<text x="528.11" y="253.93" font-size="5.2" fill="#222" color="#222" text-anchor="middle">**</text>
<text x="538.89" y="253.93" font-size="5.2" fill="#222" color="#222" text-anchor="middle">**</text>
<text x="549.67" y="253.93" font-size="5.2" fill="#222" color="#222" text-anchor="middle">**</text>
<text x="571.23" y="253.93" font-size="5.2" fill="#222" color="#222" text-anchor="middle">**</text>
<text x="582.01" y="253.93" font-size="5.2" fill="#222" color="#222" text-anchor="middle">*</text>
<text x="592.79" y="253.93" font-size="5.2" fill="#222" color="#222" text-anchor="middle">**</text>
<text x="603.57" y="253.93" font-size="5.2" fill="#222" color="#222" text-anchor="middle">*</text>
<text x="614.35" y="253.93" font-size="5.2" fill="#222" color="#222" text-anchor="middle">*</text>
<text x="635.91" y="253.93" font-size="5.2" fill="#222" color="#222" text-anchor="middle">**</text>
<text x="679.03" y="253.93" font-size="5.2" fill="#222" color="#222" text-anchor="middle">*</text>
<text x="689.81" y="253.93" font-size="5.2" fill="#222" color="#222" text-anchor="middle">**</text>
<text x="700.59" y="253.93" font-size="5.2" fill="#222" color="#222" text-anchor="middle">**</text>
<text x="431.09" y="259.08" font-size="5.2" fill="#222" color="#222" text-anchor="middle">**</text>
<text x="506.55" y="259.08" font-size="5.2" fill="#222" color="#222" text-anchor="middle">**</text>
<text x="517.33" y="259.08" font-size="5.2" fill="#222" color="#222" text-anchor="middle">**</text>
<text x="528.11" y="259.08" font-size="5.2" fill="#222" color="#222" text-anchor="middle">**</text>
<text x="538.89" y="259.08" font-size="5.2" fill="#222" color="#222" text-anchor="middle">**</text>
<text x="549.67" y="259.08" font-size="5.2" fill="#222" color="#222" text-anchor="middle">**</text>
<text x="560.45" y="259.08" font-size="5.2" fill="#222" color="#222" text-anchor="middle">*</text>
<text x="571.23" y="259.08" font-size="5.2" fill="#222" color="#222" text-anchor="middle">**</text>
<text x="582.01" y="259.08" font-size="5.2" fill="#222" color="#222" text-anchor="middle">**</text>
<text x="592.79" y="259.08" font-size="5.2" fill="#222" color="#222" text-anchor="middle">**</text>
<text x="635.91" y="259.08" font-size="5.2" fill="#222" color="#222" text-anchor="middle">**</text>
<text x="700.59" y="259.08" font-size="5.2" fill="#222" color="#222" text-anchor="middle">**</text>
<text x="431.09" y="264.22" font-size="5.2" fill="#222" color="#222" text-anchor="middle">**</text>
<text x="441.87" y="264.22" font-size="5.2" fill="#222" color="#222" text-anchor="middle">**</text>
<text x="452.65" y="264.22" font-size="5.2" fill="#222" color="#222" text-anchor="middle">**</text>
<text x="474.21" y="264.22" font-size="5.2" fill="#222" color="#222" text-anchor="middle">*</text>
<text x="506.55" y="264.22" font-size="5.2" fill="#222" color="#222" text-anchor="middle">**</text>
<text x="517.33" y="264.22" font-size="5.2" fill="#222" color="#222" text-anchor="middle">**</text>
<text x="528.11" y="264.22" font-size="5.2" fill="#222" color="#222" text-anchor="middle">**</text>
<text x="538.89" y="264.22" font-size="5.2" fill="#222" color="#222" text-anchor="middle">**</text>
<text x="549.67" y="264.22" font-size="5.2" fill="#222" color="#222" text-anchor="middle">**</text>
<text x="571.23" y="264.22" font-size="5.2" fill="#222" color="#222" text-anchor="middle">**</text>
<text x="582.01" y="264.22" font-size="5.2" fill="#222" color="#222" text-anchor="middle">**</text>
<text x="592.79" y="264.22" font-size="5.2" fill="#222" color="#222" text-anchor="middle">**</text>
<text x="635.91" y="264.22" font-size="5.2" fill="#222" color="#222" text-anchor="middle">**</text>
<text x="689.81" y="264.22" font-size="5.2" fill="#222" color="#222" text-anchor="middle">*</text>
<text x="700.59" y="264.22" font-size="5.2" fill="#222" color="#222" text-anchor="middle">**</text>
<text x="711.37" y="264.22" font-size="5.2" fill="#222" color="#222" text-anchor="middle">*</text>
<text x="431.09" y="269.37" font-size="5.2" fill="#222" color="#222" text-anchor="middle">**</text>
<text x="441.87" y="269.37" font-size="5.2" fill="#222" color="#222" text-anchor="middle">**</text>
<text x="452.65" y="269.37" font-size="5.2" fill="#222" color="#222" text-anchor="middle">*</text>
<text x="463.43" y="269.37" font-size="5.2" fill="#222" color="#222" text-anchor="middle">*</text>
<text x="506.55" y="269.37" font-size="5.2" fill="#222" color="#222" text-anchor="middle">*</text>
<text x="517.33" y="269.37" font-size="5.2" fill="#222" color="#222" text-anchor="middle">**</text>
<text x="528.11" y="269.37" font-size="5.2" fill="#222" color="#222" text-anchor="middle">**</text>
<text x="538.89" y="269.37" font-size="5.2" fill="#222" color="#222" text-anchor="middle">**</text>
<text x="549.67" y="269.37" font-size="5.2" fill="#222" color="#222" text-anchor="middle">**</text>
<text x="571.23" y="269.37" font-size="5.2" fill="#222" color="#222" text-anchor="middle">**</text>
<text x="582.01" y="269.37" font-size="5.2" fill="#222" color="#222" text-anchor="middle">*</text>
<text x="592.79" y="269.37" font-size="5.2" fill="#222" color="#222" text-anchor="middle">**</text>
<text x="625.13" y="269.37" font-size="5.2" fill="#222" color="#222" text-anchor="middle">*</text>
<text x="635.91" y="269.37" font-size="5.2" fill="#222" color="#222" text-anchor="middle">**</text>
<text x="700.59" y="269.37" font-size="5.2" fill="#222" color="#222" text-anchor="middle">**</text>
<text x="506.55" y="274.51" font-size="5.2" fill="#222" color="#222" text-anchor="middle">*</text>
<text x="528.11" y="274.51" font-size="5.2" fill="#222" color="#222" text-anchor="middle">*</text>
<text x="560.45" y="274.51" font-size="5.2" fill="#222" color="#222" text-anchor="middle">**</text>
<text x="592.79" y="274.51" font-size="5.2" fill="#222" color="#222" text-anchor="middle">*</text>
<text x="431.09" y="279.66" font-size="5.2" fill="#222" color="#222" text-anchor="middle">*</text>
<text x="517.33" y="279.66" font-size="5.2" fill="#222" color="#222" text-anchor="middle">**</text>
<text x="528.11" y="279.66" font-size="5.2" fill="#222" color="#222" text-anchor="middle">**</text>
<text x="538.89" y="279.66" font-size="5.2" fill="#222" color="#222" text-anchor="middle">**</text>
<text x="549.67" y="279.66" font-size="5.2" fill="#222" color="#222" text-anchor="middle">**</text>
<text x="571.23" y="279.66" font-size="5.2" fill="#222" color="#222" text-anchor="middle">**</text>
<text x="582.01" y="279.66" font-size="5.2" fill="#222" color="#222" text-anchor="middle">**</text>
<text x="592.79" y="279.66" font-size="5.2" fill="#222" color="#222" text-anchor="middle">*</text>
<text x="635.91" y="279.66" font-size="5.2" fill="#222" color="#222" text-anchor="middle">**</text>
<text x="700.59" y="279.66" font-size="5.2" fill="#222" color="#222" text-anchor="middle">**</text>
<text x="441.87" y="284.8" font-size="5.2" fill="#222" color="#222" text-anchor="middle">*</text>
<text x="452.65" y="284.8" font-size="5.2" fill="#222" color="#222" text-anchor="middle">**</text>
<text x="506.55" y="284.8" font-size="5.2" fill="#222" color="#222" text-anchor="middle">**</text>
<text x="517.33" y="284.8" font-size="5.2" fill="#222" color="#222" text-anchor="middle">*</text>
<text x="528.11" y="284.8" font-size="5.2" fill="#222" color="#222" text-anchor="middle">**</text>
<text x="538.89" y="284.8" font-size="5.2" fill="#222" color="#222" text-anchor="middle">**</text>
<text x="549.67" y="284.8" font-size="5.2" fill="#222" color="#222" text-anchor="middle">*</text>
<text x="571.23" y="284.8" font-size="5.2" fill="#222" color="#222" text-anchor="middle">**</text>
<text x="582.01" y="284.8" font-size="5.2" fill="#222" color="#222" text-anchor="middle">**</text>
<text x="625.13" y="284.8" font-size="5.2" fill="#222" color="#222" text-anchor="middle">**</text>
<text x="635.91" y="284.8" font-size="5.2" fill="#222" color="#222" text-anchor="middle">*</text>
<text x="646.69" y="284.8" font-size="5.2" fill="#222" color="#222" text-anchor="middle">*</text>
<text x="700.59" y="284.8" font-size="5.2" fill="#222" color="#222" text-anchor="middle">**</text>
<text x="431.09" y="289.95" font-size="5.2" fill="#222" color="#222" text-anchor="middle">**</text>
<text x="441.87" y="289.95" font-size="5.2" fill="#222" color="#222" text-anchor="middle">**</text>
<text x="463.43" y="289.95" font-size="5.2" fill="#222" color="#222" text-anchor="middle">*</text>
<text x="474.21" y="289.95" font-size="5.2" fill="#222" color="#222" text-anchor="middle">*</text>
<text x="506.55" y="289.95" font-size="5.2" fill="#222" color="#222" text-anchor="middle">**</text>
<text x="517.33" y="289.95" font-size="5.2" fill="#222" color="#222" text-anchor="middle">**</text>
<text x="528.11" y="289.95" font-size="5.2" fill="#222" color="#222" text-anchor="middle">**</text>
<text x="538.89" y="289.95" font-size="5.2" fill="#222" color="#222" text-anchor="middle">**</text>
<text x="549.67" y="289.95" font-size="5.2" fill="#222" color="#222" text-anchor="middle">**</text>
<text x="560.45" y="289.95" font-size="5.2" fill="#222" color="#222" text-anchor="middle">*</text>
<text x="571.23" y="289.95" font-size="5.2" fill="#222" color="#222" text-anchor="middle">*</text>
<text x="592.79" y="289.95" font-size="5.2" fill="#222" color="#222" text-anchor="middle">**</text>
<text x="603.57" y="289.95" font-size="5.2" fill="#222" color="#222" text-anchor="middle">*</text>
<text x="635.91" y="289.95" font-size="5.2" fill="#222" color="#222" text-anchor="middle">**</text>
<text x="700.59" y="289.95" font-size="5.2" fill="#222" color="#222" text-anchor="middle">*</text>
<text x="431.09" y="295.09" font-size="5.2" fill="#222" color="#222" text-anchor="middle">**</text>
<text x="441.87" y="295.09" font-size="5.2" fill="#222" color="#222" text-anchor="middle">**</text>
<text x="474.21" y="295.09" font-size="5.2" fill="#222" color="#222" text-anchor="middle">*</text>
<text x="506.55" y="295.09" font-size="5.2" fill="#222" color="#222" text-anchor="middle">*</text>
<text x="517.33" y="295.09" font-size="5.2" fill="#222" color="#222" text-anchor="middle">*</text>
<text x="592.79" y="295.09" font-size="5.2" fill="#222" color="#222" text-anchor="middle">*</text>
<text x="603.57" y="295.09" font-size="5.2" fill="#222" color="#222" text-anchor="middle">**</text>
<text x="431.09" y="300.24" font-size="5.2" fill="#222" color="#222" text-anchor="middle">**</text>
<text x="452.65" y="300.24" font-size="5.2" fill="#222" color="#222" text-anchor="middle">*</text>
<text x="474.21" y="300.24" font-size="5.2" fill="#222" color="#222" text-anchor="middle">*</text>
<text x="517.33" y="300.24" font-size="5.2" fill="#222" color="#222" text-anchor="middle">*</text>
<text x="614.35" y="300.24" font-size="5.2" fill="#222" color="#222" text-anchor="middle">**</text>
<text x="635.91" y="300.24" font-size="5.2" fill="#222" color="#222" text-anchor="middle">*</text>
<text x="700.59" y="300.24" font-size="5.2" fill="#222" color="#222" text-anchor="middle">*</text>
<text x="441.87" y="305.38" font-size="5.2" fill="#222" color="#222" text-anchor="middle">*</text>
<text x="452.65" y="305.38" font-size="5.2" fill="#222" color="#222" text-anchor="middle">**</text>
<text x="463.43" y="305.38" font-size="5.2" fill="#222" color="#222" text-anchor="middle">**</text>
<text x="549.67" y="305.38" font-size="5.2" fill="#222" color="#222" text-anchor="middle">*</text>
<text x="582.01" y="305.38" font-size="5.2" fill="#222" color="#222" text-anchor="middle">**</text>
<text x="625.13" y="305.38" font-size="5.2" fill="#222" color="#222" text-anchor="middle">**</text>
<text x="635.91" y="305.38" font-size="5.2" fill="#222" color="#222" text-anchor="middle">*</text>
<text x="646.69" y="305.38" font-size="5.2" fill="#222" color="#222" text-anchor="middle">*</text>
<text x="657.47" y="305.38" font-size="5.2" fill="#222" color="#222" text-anchor="middle">**</text>
<text x="700.59" y="305.38" font-size="5.2" fill="#222" color="#222" text-anchor="middle">*</text>
<text x="431.09" y="310.53" font-size="5.2" fill="#222" color="#222" text-anchor="middle">**</text>
<text x="441.87" y="310.53" font-size="5.2" fill="#222" color="#222" text-anchor="middle">**</text>
<text x="452.65" y="310.53" font-size="5.2" fill="#222" color="#222" text-anchor="middle">**</text>
<text x="506.55" y="310.53" font-size="5.2" fill="#222" color="#222" text-anchor="middle">**</text>
<text x="517.33" y="310.53" font-size="5.2" fill="#222" color="#222" text-anchor="middle">**</text>
<text x="528.11" y="310.53" font-size="5.2" fill="#222" color="#222" text-anchor="middle">**</text>
<text x="538.89" y="310.53" font-size="5.2" fill="#222" color="#222" text-anchor="middle">**</text>
<text x="549.67" y="310.53" font-size="5.2" fill="#222" color="#222" text-anchor="middle">**</text>
<text x="571.23" y="310.53" font-size="5.2" fill="#222" color="#222" text-anchor="middle">**</text>
<text x="582.01" y="310.53" font-size="5.2" fill="#222" color="#222" text-anchor="middle">*</text>
<text x="592.79" y="310.53" font-size="5.2" fill="#222" color="#222" text-anchor="middle">**</text>
<text x="614.35" y="310.53" font-size="5.2" fill="#222" color="#222" text-anchor="middle">*</text>
<text x="625.13" y="310.53" font-size="5.2" fill="#222" color="#222" text-anchor="middle">*</text>
<text x="635.91" y="310.53" font-size="5.2" fill="#222" color="#222" text-anchor="middle">**</text>
<text x="657.47" y="310.53" font-size="5.2" fill="#222" color="#222" text-anchor="middle">**</text>
<text x="679.03" y="310.53" font-size="5.2" fill="#222" color="#222" text-anchor="middle">**</text>
<text x="689.81" y="310.53" font-size="5.2" fill="#222" color="#222" text-anchor="middle">**</text>
<text x="700.59" y="310.53" font-size="5.2" fill="#222" color="#222" text-anchor="middle">**</text>
<text x="711.37" y="310.53" font-size="5.2" fill="#222" color="#222" text-anchor="middle">**</text>
<text x="452.65" y="315.67" font-size="5.2" fill="#222" color="#222" text-anchor="middle">*</text>
<text x="463.43" y="315.67" font-size="5.2" fill="#222" color="#222" text-anchor="middle">*</text>
<text x="582.01" y="315.67" font-size="5.2" fill="#222" color="#222" text-anchor="middle">*</text>
<text x="625.13" y="315.67" font-size="5.2" fill="#222" color="#222" text-anchor="middle">*</text>
<text x="646.69" y="315.67" font-size="5.2" fill="#222" color="#222" text-anchor="middle">**</text>
<text x="657.47" y="315.67" font-size="5.2" fill="#222" color="#222" text-anchor="middle">**</text>
<text x="679.03" y="315.67" font-size="5.2" fill="#222" color="#222" text-anchor="middle">*</text>
<text x="711.37" y="315.67" font-size="5.2" fill="#222" color="#222" text-anchor="middle">*</text>
<text x="441.87" y="320.82" font-size="5.2" fill="#222" color="#222" text-anchor="middle">**</text>
<text x="452.65" y="320.82" font-size="5.2" fill="#222" color="#222" text-anchor="middle">**</text>
<text x="625.13" y="320.82" font-size="5.2" fill="#222" color="#222" text-anchor="middle">**</text>
<text x="635.91" y="320.82" font-size="5.2" fill="#222" color="#222" text-anchor="middle">**</text>
<text x="646.69" y="320.82" font-size="5.2" fill="#222" color="#222" text-anchor="middle">**</text>
<text x="657.47" y="320.82" font-size="5.2" fill="#222" color="#222" text-anchor="middle">**</text>
<text x="679.03" y="320.82" font-size="5.2" fill="#222" color="#222" text-anchor="middle">**</text>
<text x="700.59" y="320.82" font-size="5.2" fill="#222" color="#222" text-anchor="middle">*</text>
<text x="711.37" y="320.82" font-size="5.2" fill="#222" color="#222" text-anchor="middle">**</text>
<text x="668.25" y="325.96" font-size="5.2" fill="#222" color="#222" text-anchor="middle">**</text>
<text x="441.87" y="331.11" font-size="5.2" fill="#222" color="#222" text-anchor="middle">**</text>
<text x="452.65" y="331.11" font-size="5.2" fill="#222" color="#222" text-anchor="middle">**</text>
<text x="484.99" y="331.11" font-size="5.2" fill="#222" color="#222" text-anchor="middle">*</text>
<text x="506.55" y="331.11" font-size="5.2" fill="#222" color="#222" text-anchor="middle">*</text>
<text x="517.33" y="331.11" font-size="5.2" fill="#222" color="#222" text-anchor="middle">*</text>
<text x="635.91" y="331.11" font-size="5.2" fill="#222" color="#222" text-anchor="middle">**</text>
<text x="646.69" y="331.11" font-size="5.2" fill="#222" color="#222" text-anchor="middle">*</text>
<text x="657.47" y="331.11" font-size="5.2" fill="#222" color="#222" text-anchor="middle">**</text>
<text x="679.03" y="331.11" font-size="5.2" fill="#222" color="#222" text-anchor="middle">**</text>
<text x="689.81" y="331.11" font-size="5.2" fill="#222" color="#222" text-anchor="middle">**</text>
<text x="700.59" y="331.11" font-size="5.2" fill="#222" color="#222" text-anchor="middle">**</text>
<text x="711.37" y="331.11" font-size="5.2" fill="#222" color="#222" text-anchor="middle">*</text>
<text x="431.09" y="336.25" font-size="5.2" fill="#222" color="#222" text-anchor="middle">**</text>
<text x="441.87" y="336.25" font-size="5.2" fill="#222" color="#222" text-anchor="middle">**</text>
<text x="452.65" y="336.25" font-size="5.2" fill="#222" color="#222" text-anchor="middle">*</text>
<text x="474.21" y="336.25" font-size="5.2" fill="#222" color="#222" text-anchor="middle">*</text>
<text x="517.33" y="336.25" font-size="5.2" fill="#222" color="#222" text-anchor="middle">**</text>
<text x="538.89" y="336.25" font-size="5.2" fill="#222" color="#222" text-anchor="middle">*</text>
<text x="635.91" y="336.25" font-size="5.2" fill="#222" color="#222" text-anchor="middle">**</text>
<text x="679.03" y="336.25" font-size="5.2" fill="#222" color="#222" text-anchor="middle">**</text>
<text x="689.81" y="336.25" font-size="5.2" fill="#222" color="#222" text-anchor="middle">**</text>
<text x="700.59" y="336.25" font-size="5.2" fill="#222" color="#222" text-anchor="middle">**</text>
<text x="431.09" y="341.4" font-size="5.2" fill="#222" color="#222" text-anchor="middle">**</text>
<text x="441.87" y="341.4" font-size="5.2" fill="#222" color="#222" text-anchor="middle">**</text>
<text x="452.65" y="341.4" font-size="5.2" fill="#222" color="#222" text-anchor="middle">**</text>
<text x="474.21" y="341.4" font-size="5.2" fill="#222" color="#222" text-anchor="middle">*</text>
<text x="484.99" y="341.4" font-size="5.2" fill="#222" color="#222" text-anchor="middle">*</text>
<text x="506.55" y="341.4" font-size="5.2" fill="#222" color="#222" text-anchor="middle">**</text>
<text x="517.33" y="341.4" font-size="5.2" fill="#222" color="#222" text-anchor="middle">**</text>
<text x="528.11" y="341.4" font-size="5.2" fill="#222" color="#222" text-anchor="middle">**</text>
<text x="538.89" y="341.4" font-size="5.2" fill="#222" color="#222" text-anchor="middle">**</text>
<text x="549.67" y="341.4" font-size="5.2" fill="#222" color="#222" text-anchor="middle">**</text>
<text x="571.23" y="341.4" font-size="5.2" fill="#222" color="#222" text-anchor="middle">**</text>
<text x="582.01" y="341.4" font-size="5.2" fill="#222" color="#222" text-anchor="middle">**</text>
<text x="592.79" y="341.4" font-size="5.2" fill="#222" color="#222" text-anchor="middle">*</text>
<text x="614.35" y="341.4" font-size="5.2" fill="#222" color="#222" text-anchor="middle">*</text>
<text x="625.13" y="341.4" font-size="5.2" fill="#222" color="#222" text-anchor="middle">*</text>
<text x="635.91" y="341.4" font-size="5.2" fill="#222" color="#222" text-anchor="middle">**</text>
<text x="657.47" y="341.4" font-size="5.2" fill="#222" color="#222" text-anchor="middle">*</text>
<text x="679.03" y="341.4" font-size="5.2" fill="#222" color="#222" text-anchor="middle">**</text>
<text x="689.81" y="341.4" font-size="5.2" fill="#222" color="#222" text-anchor="middle">**</text>
<text x="700.59" y="341.4" font-size="5.2" fill="#222" color="#222" text-anchor="middle">**</text>
<text x="452.65" y="346.54" font-size="5.2" fill="#222" color="#222" text-anchor="middle">**</text>
<text x="538.89" y="346.54" font-size="5.2" fill="#222" color="#222" text-anchor="middle">*</text>
<text x="635.91" y="346.54" font-size="5.2" fill="#222" color="#222" text-anchor="middle">**</text>
<text x="646.69" y="346.54" font-size="5.2" fill="#222" color="#222" text-anchor="middle">*</text>
<text x="657.47" y="346.54" font-size="5.2" fill="#222" color="#222" text-anchor="middle">**</text>
<text x="679.03" y="346.54" font-size="5.2" fill="#222" color="#222" text-anchor="middle">*</text>
<text x="711.37" y="346.54" font-size="5.2" fill="#222" color="#222" text-anchor="middle">**</text>
<text x="423.6" y="212.07" font-size="5" fill="#2A2A2A" color="#2A2A2A" text-anchor="end" style="stroke-width:0.06px">LPIN1</text>
<text x="430.79" y="205.5" font-size="4.6" fill="#2A2A2A" color="#2A2A2A" text-anchor="start" transform="rotate(-26 430.79 205.5)" style="stroke-width:0.06px">LPIN1</text>
<text x="423.6" y="217.22" font-size="5" fill="#2A2A2A" color="#2A2A2A" text-anchor="end" style="stroke-width:0.06px">TNFAIP3</text>
<text x="441.57" y="205.5" font-size="4.6" fill="#2A2A2A" color="#2A2A2A" text-anchor="start" transform="rotate(-26 441.57 205.5)" style="stroke-width:0.06px">TNFAIP3</text>
<text x="423.6" y="222.36" font-size="5" fill="#2A2A2A" color="#2A2A2A" text-anchor="end" style="stroke-width:0.06px">TNFRSF18</text>
<text x="452.35" y="205.5" font-size="4.6" fill="#2A2A2A" color="#2A2A2A" text-anchor="start" transform="rotate(-26 452.35 205.5)" style="stroke-width:0.06px">TNFRSF18</text>
<text x="423.6" y="227.51" font-size="5" fill="#2A2A2A" color="#2A2A2A" text-anchor="end" style="stroke-width:0.06px">TNFRSF4</text>
<text x="463.13" y="205.5" font-size="4.6" fill="#2A2A2A" color="#2A2A2A" text-anchor="start" transform="rotate(-26 463.13 205.5)" style="stroke-width:0.06px">TNFRSF4</text>
<text x="423.6" y="232.65" font-size="5" fill="#2A2A2A" color="#2A2A2A" text-anchor="end" style="stroke-width:0.06px">TNFRSF25</text>
<text x="473.91" y="205.5" font-size="4.6" fill="#2A2A2A" color="#2A2A2A" text-anchor="start" transform="rotate(-26 473.91 205.5)" style="stroke-width:0.06px">TNFRSF25</text>
<text x="423.6" y="237.8" font-size="5" fill="#2A2A2A" color="#2A2A2A" text-anchor="end" style="stroke-width:0.06px">TNFRSF9</text>
<text x="484.69" y="205.5" font-size="4.6" fill="#2A2A2A" color="#2A2A2A" text-anchor="start" transform="rotate(-26 484.69 205.5)" style="stroke-width:0.06px">TNFRSF9</text>
<text x="423.6" y="242.94" font-size="5" fill="#2A2A2A" color="#2A2A2A" text-anchor="end" style="stroke-width:0.06px">CD160</text>
<text x="495.47" y="205.5" font-size="4.6" fill="#2A2A2A" color="#2A2A2A" text-anchor="start" transform="rotate(-26 495.47 205.5)" style="stroke-width:0.06px">CD160</text>
<text x="423.6" y="248.09" font-size="5" fill="#2A2A2A" color="#2A2A2A" text-anchor="end" style="stroke-width:0.06px">CD244</text>
<text x="506.25" y="205.5" font-size="4.6" fill="#2A2A2A" color="#2A2A2A" text-anchor="start" transform="rotate(-26 506.25 205.5)" style="stroke-width:0.06px">CD244</text>
<text x="423.6" y="253.23" font-size="5" fill="#2A2A2A" color="#2A2A2A" text-anchor="end" style="stroke-width:0.06px">CD28</text>
<text x="517.03" y="205.5" font-size="4.6" fill="#2A2A2A" color="#2A2A2A" text-anchor="start" transform="rotate(-26 517.03 205.5)" style="stroke-width:0.06px">CD28</text>
<text x="423.6" y="258.38" font-size="5" fill="#2A2A2A" color="#2A2A2A" text-anchor="end" style="stroke-width:0.06px">CTLA-4</text>
<text x="527.81" y="205.5" font-size="4.6" fill="#2A2A2A" color="#2A2A2A" text-anchor="start" transform="rotate(-26 527.81 205.5)" style="stroke-width:0.06px">CTLA-4</text>
<text x="423.6" y="263.52" font-size="5" fill="#2A2A2A" color="#2A2A2A" text-anchor="end" style="stroke-width:0.06px">ICOS</text>
<text x="538.59" y="205.5" font-size="4.6" fill="#2A2A2A" color="#2A2A2A" text-anchor="start" transform="rotate(-26 538.59 205.5)" style="stroke-width:0.06px">ICOS</text>
<text x="423.6" y="268.67" font-size="5" fill="#2A2A2A" color="#2A2A2A" text-anchor="end" style="stroke-width:0.06px">CD96</text>
<text x="549.37" y="205.5" font-size="4.6" fill="#2A2A2A" color="#2A2A2A" text-anchor="start" transform="rotate(-26 549.37 205.5)" style="stroke-width:0.06px">CD96</text>
<text x="423.6" y="273.81" font-size="5" fill="#2A2A2A" color="#2A2A2A" text-anchor="end" style="stroke-width:0.06px">TIGIT</text>
<text x="560.15" y="205.5" font-size="4.6" fill="#2A2A2A" color="#2A2A2A" text-anchor="start" transform="rotate(-26 560.15 205.5)" style="stroke-width:0.06px">TIGIT</text>
<text x="423.6" y="278.96" font-size="5" fill="#2A2A2A" color="#2A2A2A" text-anchor="end" style="stroke-width:0.06px">BTLA</text>
<text x="570.93" y="205.5" font-size="4.6" fill="#2A2A2A" color="#2A2A2A" text-anchor="start" transform="rotate(-26 570.93 205.5)" style="stroke-width:0.06px">BTLA</text>
<text x="423.6" y="284.1" font-size="5" fill="#2A2A2A" color="#2A2A2A" text-anchor="end" style="stroke-width:0.06px">CD200R</text>
<text x="581.71" y="205.5" font-size="4.6" fill="#2A2A2A" color="#2A2A2A" text-anchor="start" transform="rotate(-26 581.71 205.5)" style="stroke-width:0.06px">CD200R</text>
<text x="423.6" y="289.25" font-size="5" fill="#2A2A2A" color="#2A2A2A" text-anchor="end" style="stroke-width:0.06px">MYLK</text>
<text x="592.49" y="205.5" font-size="4.6" fill="#2A2A2A" color="#2A2A2A" text-anchor="start" transform="rotate(-26 592.49 205.5)" style="stroke-width:0.06px">MYLK</text>
<text x="423.6" y="294.39" font-size="5" fill="#2A2A2A" color="#2A2A2A" text-anchor="end" style="stroke-width:0.06px">HAVCR2</text>
<text x="603.27" y="205.5" font-size="4.6" fill="#2A2A2A" color="#2A2A2A" text-anchor="start" transform="rotate(-26 603.27 205.5)" style="stroke-width:0.06px">HAVCR2</text>
<text x="423.6" y="299.54" font-size="5" fill="#2A2A2A" color="#2A2A2A" text-anchor="end" style="stroke-width:0.06px">CD27</text>
<text x="614.05" y="205.5" font-size="4.6" fill="#2A2A2A" color="#2A2A2A" text-anchor="start" transform="rotate(-26 614.05 205.5)" style="stroke-width:0.06px">CD27</text>
<text x="423.6" y="304.68" font-size="5" fill="#2A2A2A" color="#2A2A2A" text-anchor="end" style="stroke-width:0.06px">LAG-3</text>
<text x="624.83" y="205.5" font-size="4.6" fill="#2A2A2A" color="#2A2A2A" text-anchor="start" transform="rotate(-26 624.83 205.5)" style="stroke-width:0.06px">LAG-3</text>
<text x="423.6" y="309.83" font-size="5" fill="#2A2A2A" color="#2A2A2A" text-anchor="end" style="stroke-width:0.06px">CD226</text>
<text x="635.61" y="205.5" font-size="4.6" fill="#2A2A2A" color="#2A2A2A" text-anchor="start" transform="rotate(-26 635.61 205.5)" style="stroke-width:0.06px">CD226</text>
<text x="423.6" y="314.97" font-size="5" fill="#2A2A2A" color="#2A2A2A" text-anchor="end" style="stroke-width:0.06px">TMIGD2</text>
<text x="646.39" y="205.5" font-size="4.6" fill="#2A2A2A" color="#2A2A2A" text-anchor="start" transform="rotate(-26 646.39 205.5)" style="stroke-width:0.06px">TMIGD2</text>
<text x="423.6" y="320.12" font-size="5" fill="#2A2A2A" color="#2A2A2A" text-anchor="end" style="stroke-width:0.06px">CD209</text>
<text x="657.17" y="205.5" font-size="4.6" fill="#2A2A2A" color="#2A2A2A" text-anchor="start" transform="rotate(-26 657.17 205.5)" style="stroke-width:0.06px">CD209</text>
<text x="423.6" y="325.26" font-size="5" fill="#2A2A2A" color="#2A2A2A" text-anchor="end" style="stroke-width:0.06px">CEACAM1</text>
<text x="667.95" y="205.5" font-size="4.6" fill="#2A2A2A" color="#2A2A2A" text-anchor="start" transform="rotate(-26 667.95 205.5)" style="stroke-width:0.06px">CEACAM1</text>
<text x="423.6" y="330.41" font-size="5" fill="#2A2A2A" color="#2A2A2A" text-anchor="end" style="stroke-width:0.06px">SIRPA</text>
<text x="678.73" y="205.5" font-size="4.6" fill="#2A2A2A" color="#2A2A2A" text-anchor="start" transform="rotate(-26 678.73 205.5)" style="stroke-width:0.06px">SIRPA</text>
<text x="423.6" y="335.55" font-size="5" fill="#2A2A2A" color="#2A2A2A" text-anchor="end" style="stroke-width:0.06px">ADORA2A</text>
<text x="689.51" y="205.5" font-size="4.6" fill="#2A2A2A" color="#2A2A2A" text-anchor="start" transform="rotate(-26 689.51 205.5)" style="stroke-width:0.06px">ADORA2A</text>
<text x="423.6" y="340.7" font-size="5" fill="#2A2A2A" color="#2A2A2A" text-anchor="end" style="stroke-width:0.06px">CD40L</text>
<text x="700.29" y="205.5" font-size="4.6" fill="#2A2A2A" color="#2A2A2A" text-anchor="start" transform="rotate(-26 700.29 205.5)" style="stroke-width:0.06px">CD40L</text>
<text x="423.6" y="345.84" font-size="5" fill="#2A2A2A" color="#2A2A2A" text-anchor="end" style="stroke-width:0.06px">PDCD1</text>
<text x="711.07" y="205.5" font-size="4.6" fill="#2A2A2A" color="#2A2A2A" text-anchor="start" transform="rotate(-26 711.07 205.5)" style="stroke-width:0.06px">PDCD1</text>
<text x="721" y="241.6" font-size="5.1" fill="#1A1A1A" color="#1A1A1A" text-anchor="start">* p &lt; 0.05</text>
<text x="720" y="252.2" font-size="5.1" fill="#1A1A1A" color="#1A1A1A" text-anchor="start">** p &lt; 0.01</text>
<text x="719.8" y="262.8" font-size="4.95" fill="#1A1A1A" color="#1A1A1A" text-anchor="start">Correlation</text>
<rect x="719.8" y="264.5" width="4.7" height="45.9" fill="url(#gB)"/>
<text x="733.9" y="268.5" font-size="4.1" fill="#333" color="#333" text-anchor="end">1.0</text>
<text x="733.9" y="278.8" font-size="4.1" fill="#333" color="#333" text-anchor="end">0.5</text>
<text x="733.9" y="289.3" font-size="4.1" fill="#333" color="#333" text-anchor="end">0.0</text>
<text x="733.9" y="299.8" font-size="4.1" fill="#333" color="#333" text-anchor="end">-0.5</text>
<text x="733.9" y="310.1" font-size="4.1" fill="#333" color="#333" text-anchor="end">-1.0</text>
</g>
</svg></body></html>
